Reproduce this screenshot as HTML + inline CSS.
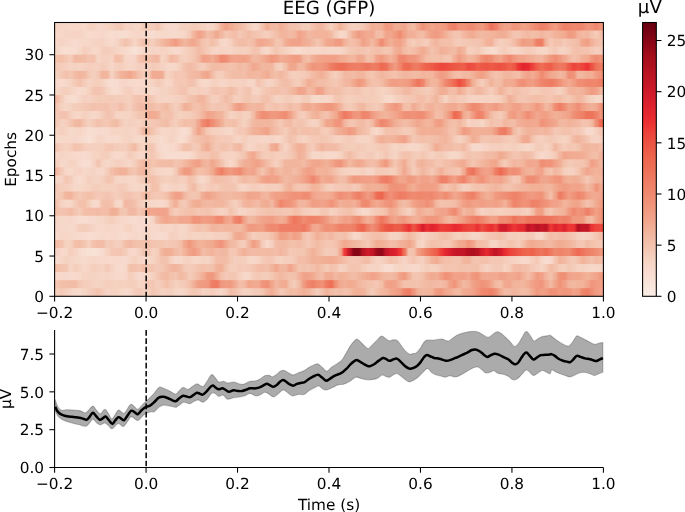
<!DOCTYPE html>
<html lang="en"><head><meta charset="utf-8"><title>EEG (GFP)</title>
<style>html,body{margin:0;padding:0;background:#fff}body{width:685px;height:512px;overflow:hidden}svg{display:block}text{font-family:'DejaVu Sans','Liberation Sans',sans-serif;fill:#000;text-rendering:geometricPrecision}</style></head><body>
<svg width="685" height="512" viewBox="0 0 685 512">
<rect width="685" height="512" fill="#fff"/>
<defs>
<filter id="bl" x="-2%" y="-2%" width="104%" height="104%" color-interpolation-filters="sRGB"><feGaussianBlur stdDeviation="1.1 0.5"/></filter>
<clipPath id="cp"><rect x="54.60" y="22.50" width="548.80" height="273.80"/></clipPath>
<linearGradient id="cb" x1="0" x2="0" y1="0" y2="1"><stop offset="0.0000" stop-color="#670010"/><stop offset="0.0312" stop-color="#750213"/><stop offset="0.0625" stop-color="#850516"/><stop offset="0.0938" stop-color="#950919"/><stop offset="0.1250" stop-color="#a50e1c"/><stop offset="0.1562" stop-color="#af1020"/><stop offset="0.1875" stop-color="#bb1423"/><stop offset="0.2188" stop-color="#c31626"/><stop offset="0.2500" stop-color="#cd192a"/><stop offset="0.2812" stop-color="#d61e2c"/><stop offset="0.3125" stop-color="#df242e"/><stop offset="0.3438" stop-color="#e72a30"/><stop offset="0.3750" stop-color="#ed3534"/><stop offset="0.4062" stop-color="#ed443b"/><stop offset="0.4375" stop-color="#ec5242"/><stop offset="0.4688" stop-color="#ed5d49"/><stop offset="0.5000" stop-color="#ef674f"/><stop offset="0.5312" stop-color="#ed6f57"/><stop offset="0.5625" stop-color="#ee785f"/><stop offset="0.5938" stop-color="#ee8168"/><stop offset="0.6250" stop-color="#ef896f"/><stop offset="0.6562" stop-color="#f09278"/><stop offset="0.6875" stop-color="#f09b81"/><stop offset="0.7188" stop-color="#f1a48b"/><stop offset="0.7500" stop-color="#f1af96"/><stop offset="0.7812" stop-color="#f2b9a2"/><stop offset="0.8125" stop-color="#f3c2ad"/><stop offset="0.8438" stop-color="#f4ccba"/><stop offset="0.8750" stop-color="#f6d6c6"/><stop offset="0.9062" stop-color="#f7dbce"/><stop offset="0.9375" stop-color="#f8e1d6"/><stop offset="0.9688" stop-color="#f9e8de"/><stop offset="1.0000" stop-color="#faeee6"/></linearGradient>
</defs>
<g clip-path="url(#cp)"><g filter="url(#bl)">
<g transform="translate(0 14.447)"><rect x="45.45" width="14.72" height="9.05" fill="#f6d4c5"/><rect x="59.17" width="10.15" height="9.05" fill="#f6d6c6"/><rect x="68.32" width="5.57" height="9.05" fill="#f6d8c9"/><rect x="72.89" width="5.57" height="9.05" fill="#f6d7c8"/><rect x="77.47" width="5.57" height="9.05" fill="#f7d8ca"/><rect x="82.04" width="5.57" height="9.05" fill="#f7dacc"/><rect x="86.61" width="5.57" height="9.05" fill="#f6d3c3"/><rect x="91.19" width="5.57" height="9.05" fill="#f5d1c0"/><rect x="95.76" width="5.57" height="9.05" fill="#f6d7c9"/><rect x="100.33" width="5.57" height="9.05" fill="#f6d7c8"/><rect x="104.91" width="5.57" height="9.05" fill="#f6d3c3"/><rect x="109.48" width="5.57" height="9.05" fill="#f5d1c0"/><rect x="114.05" width="5.57" height="9.05" fill="#f4cbb8"/><rect x="118.63" width="5.57" height="9.05" fill="#f4c8b5"/><rect x="123.20" width="5.57" height="9.05" fill="#f6d3c3"/><rect x="127.77" width="5.57" height="9.05" fill="#f5d2c2"/><rect x="132.35" width="5.57" height="9.05" fill="#f6d6c7"/><rect x="136.92" width="5.57" height="9.05" fill="#f6d6c6"/><rect x="141.49" width="5.57" height="9.05" fill="#f4ccba"/><rect x="146.07" width="10.15" height="9.05" fill="#f5cdbb"/><rect x="155.21" width="5.57" height="9.05" fill="#f3c5b0"/><rect x="159.79" width="5.57" height="9.05" fill="#f5d1c0"/><rect x="164.36" width="5.57" height="9.05" fill="#f7d9cb"/><rect x="168.93" width="5.57" height="9.05" fill="#f7dacd"/><rect x="173.51" width="5.57" height="9.05" fill="#f7dacc"/><rect x="178.08" width="5.57" height="9.05" fill="#f5d2c2"/><rect x="182.65" width="10.15" height="9.05" fill="#f5cfbf"/><rect x="191.80" width="5.57" height="9.05" fill="#f4cbb8"/><rect x="196.37" width="5.57" height="9.05" fill="#f5cebd"/><rect x="200.95" width="5.57" height="9.05" fill="#f5d2c2"/><rect x="205.52" width="10.15" height="9.05" fill="#f6d6c7"/><rect x="214.67" width="5.57" height="9.05" fill="#f4ccba"/><rect x="219.24" width="5.57" height="9.05" fill="#f2b199"/><rect x="223.81" width="5.57" height="9.05" fill="#f1a289"/><rect x="228.39" width="5.57" height="9.05" fill="#f1ab92"/><rect x="232.96" width="5.57" height="9.05" fill="#f2b49c"/><rect x="237.53" width="5.57" height="9.05" fill="#f2bba5"/><rect x="242.11" width="5.57" height="9.05" fill="#f3c3af"/><rect x="246.68" width="5.57" height="9.05" fill="#f5cebd"/><rect x="251.25" width="5.57" height="9.05" fill="#f6d7c9"/><rect x="255.83" width="5.57" height="9.05" fill="#f6d6c7"/><rect x="260.40" width="5.57" height="9.05" fill="#f3c2ad"/><rect x="264.97" width="5.57" height="9.05" fill="#f1af96"/><rect x="269.55" width="5.57" height="9.05" fill="#f2baa3"/><rect x="274.12" width="5.57" height="9.05" fill="#f2bba5"/><rect x="278.69" width="5.57" height="9.05" fill="#f1af96"/><rect x="283.27" width="5.57" height="9.05" fill="#f2b7a0"/><rect x="287.84" width="5.57" height="9.05" fill="#f3c1ac"/><rect x="292.41" width="5.57" height="9.05" fill="#f3c2ad"/><rect x="296.99" width="5.57" height="9.05" fill="#f3c6b2"/><rect x="301.56" width="10.15" height="9.05" fill="#f4ccba"/><rect x="310.71" width="5.57" height="9.05" fill="#f3c2ad"/><rect x="315.28" width="5.57" height="9.05" fill="#f2b9a2"/><rect x="319.85" width="5.57" height="9.05" fill="#f2b69f"/><rect x="324.43" width="5.57" height="9.05" fill="#f3c6b2"/><rect x="329.00" width="5.57" height="9.05" fill="#f5d1c0"/><rect x="333.57" width="5.57" height="9.05" fill="#f3c2ad"/><rect x="338.15" width="5.57" height="9.05" fill="#f2b39a"/><rect x="342.72" width="5.57" height="9.05" fill="#f3c1ac"/><rect x="347.29" width="5.57" height="9.05" fill="#f5cebd"/><rect x="351.87" width="5.57" height="9.05" fill="#f5d1c0"/><rect x="356.44" width="5.57" height="9.05" fill="#f5cebd"/><rect x="361.01" width="5.57" height="9.05" fill="#f4c8b5"/><rect x="365.59" width="5.57" height="9.05" fill="#f3bda7"/><rect x="370.16" width="5.57" height="9.05" fill="#f1ae95"/><rect x="374.73" width="5.57" height="9.05" fill="#f1b199"/><rect x="379.31" width="5.57" height="9.05" fill="#f1af96"/><rect x="383.88" width="5.57" height="9.05" fill="#f09a80"/><rect x="388.45" width="5.57" height="9.05" fill="#f09c83"/><rect x="393.03" width="5.57" height="9.05" fill="#f1ac93"/><rect x="397.60" width="5.57" height="9.05" fill="#f1ab92"/><rect x="402.17" width="5.57" height="9.05" fill="#f1a68c"/><rect x="406.75" width="5.57" height="9.05" fill="#f2b69f"/><rect x="411.32" width="5.57" height="9.05" fill="#f2bca6"/><rect x="415.89" width="5.57" height="9.05" fill="#f1a68c"/><rect x="420.47" width="5.57" height="9.05" fill="#f09379"/><rect x="425.04" width="5.57" height="9.05" fill="#f09e84"/><rect x="429.61" width="5.57" height="9.05" fill="#f1a58b"/><rect x="434.19" width="5.57" height="9.05" fill="#f09f85"/><rect x="438.76" width="5.57" height="9.05" fill="#f19f85"/><rect x="443.33" width="5.57" height="9.05" fill="#f0997f"/><rect x="447.91" width="5.57" height="9.05" fill="#ef866c"/><rect x="452.48" width="5.57" height="9.05" fill="#ee8168"/><rect x="457.05" width="5.57" height="9.05" fill="#f09278"/><rect x="461.63" width="5.57" height="9.05" fill="#f09379"/><rect x="466.20" width="5.57" height="9.05" fill="#ef8c72"/><rect x="470.77" width="5.57" height="9.05" fill="#ef8d73"/><rect x="475.35" width="5.57" height="9.05" fill="#f0977d"/><rect x="479.92" width="5.57" height="9.05" fill="#f09a80"/><rect x="484.49" width="5.57" height="9.05" fill="#ef8a70"/><rect x="489.07" width="5.57" height="9.05" fill="#ed725a"/><rect x="493.64" width="5.57" height="9.05" fill="#ee7f66"/><rect x="498.21" width="5.57" height="9.05" fill="#f0997f"/><rect x="502.79" width="5.57" height="9.05" fill="#f1a38a"/><rect x="507.36" width="5.57" height="9.05" fill="#f1a289"/><rect x="511.93" width="5.57" height="9.05" fill="#f0957c"/><rect x="516.51" width="5.57" height="9.05" fill="#f0997f"/><rect x="521.08" width="5.57" height="9.05" fill="#f1a38a"/><rect x="525.65" width="5.57" height="9.05" fill="#f09e84"/><rect x="530.23" width="5.57" height="9.05" fill="#f09379"/><rect x="534.80" width="5.57" height="9.05" fill="#ef886e"/><rect x="539.37" width="5.57" height="9.05" fill="#ee8067"/><rect x="543.95" width="5.57" height="9.05" fill="#ef846a"/><rect x="548.52" width="5.57" height="9.05" fill="#f0947a"/><rect x="553.09" width="5.57" height="9.05" fill="#f09c83"/><rect x="557.67" width="5.57" height="9.05" fill="#ef8e75"/><rect x="562.24" width="5.57" height="9.05" fill="#ee8168"/><rect x="566.81" width="5.57" height="9.05" fill="#ef836a"/><rect x="571.39" width="5.57" height="9.05" fill="#ef886e"/><rect x="575.96" width="5.57" height="9.05" fill="#ef846b"/><rect x="580.53" width="5.57" height="9.05" fill="#ef886e"/><rect x="585.11" width="5.57" height="9.05" fill="#f0957c"/><rect x="589.68" width="5.57" height="9.05" fill="#f09278"/><rect x="594.25" width="5.57" height="9.05" fill="#ef876d"/><rect x="598.83" width="14.72" height="9.05" fill="#f0977d"/></g>
<g transform="translate(0 22.500)"><rect x="45.45" width="14.72" height="9.05" fill="#f6d4c5"/><rect x="59.17" width="10.15" height="9.05" fill="#f6d6c6"/><rect x="68.32" width="5.57" height="9.05" fill="#f6d8c9"/><rect x="72.89" width="5.57" height="9.05" fill="#f6d7c8"/><rect x="77.47" width="5.57" height="9.05" fill="#f7d8ca"/><rect x="82.04" width="5.57" height="9.05" fill="#f7dacc"/><rect x="86.61" width="5.57" height="9.05" fill="#f6d3c3"/><rect x="91.19" width="5.57" height="9.05" fill="#f5d1c0"/><rect x="95.76" width="5.57" height="9.05" fill="#f6d7c9"/><rect x="100.33" width="5.57" height="9.05" fill="#f6d7c8"/><rect x="104.91" width="5.57" height="9.05" fill="#f6d3c3"/><rect x="109.48" width="5.57" height="9.05" fill="#f5d1c0"/><rect x="114.05" width="5.57" height="9.05" fill="#f4cbb8"/><rect x="118.63" width="5.57" height="9.05" fill="#f4c8b5"/><rect x="123.20" width="5.57" height="9.05" fill="#f6d3c3"/><rect x="127.77" width="5.57" height="9.05" fill="#f5d2c2"/><rect x="132.35" width="5.57" height="9.05" fill="#f6d6c7"/><rect x="136.92" width="5.57" height="9.05" fill="#f6d6c6"/><rect x="141.49" width="5.57" height="9.05" fill="#f4ccba"/><rect x="146.07" width="10.15" height="9.05" fill="#f5cdbb"/><rect x="155.21" width="5.57" height="9.05" fill="#f3c5b0"/><rect x="159.79" width="5.57" height="9.05" fill="#f5d1c0"/><rect x="164.36" width="5.57" height="9.05" fill="#f7d9cb"/><rect x="168.93" width="5.57" height="9.05" fill="#f7dacd"/><rect x="173.51" width="5.57" height="9.05" fill="#f7dacc"/><rect x="178.08" width="5.57" height="9.05" fill="#f5d2c2"/><rect x="182.65" width="10.15" height="9.05" fill="#f5cfbf"/><rect x="191.80" width="5.57" height="9.05" fill="#f4cbb8"/><rect x="196.37" width="5.57" height="9.05" fill="#f5cebd"/><rect x="200.95" width="5.57" height="9.05" fill="#f5d2c2"/><rect x="205.52" width="10.15" height="9.05" fill="#f6d6c7"/><rect x="214.67" width="5.57" height="9.05" fill="#f4ccba"/><rect x="219.24" width="5.57" height="9.05" fill="#f2b199"/><rect x="223.81" width="5.57" height="9.05" fill="#f1a289"/><rect x="228.39" width="5.57" height="9.05" fill="#f1ab92"/><rect x="232.96" width="5.57" height="9.05" fill="#f2b49c"/><rect x="237.53" width="5.57" height="9.05" fill="#f2bba5"/><rect x="242.11" width="5.57" height="9.05" fill="#f3c3af"/><rect x="246.68" width="5.57" height="9.05" fill="#f5cebd"/><rect x="251.25" width="5.57" height="9.05" fill="#f6d7c9"/><rect x="255.83" width="5.57" height="9.05" fill="#f6d6c7"/><rect x="260.40" width="5.57" height="9.05" fill="#f3c2ad"/><rect x="264.97" width="5.57" height="9.05" fill="#f1af96"/><rect x="269.55" width="5.57" height="9.05" fill="#f2baa3"/><rect x="274.12" width="5.57" height="9.05" fill="#f2bba5"/><rect x="278.69" width="5.57" height="9.05" fill="#f1af96"/><rect x="283.27" width="5.57" height="9.05" fill="#f2b7a0"/><rect x="287.84" width="5.57" height="9.05" fill="#f3c1ac"/><rect x="292.41" width="5.57" height="9.05" fill="#f3c2ad"/><rect x="296.99" width="5.57" height="9.05" fill="#f3c6b2"/><rect x="301.56" width="10.15" height="9.05" fill="#f4ccba"/><rect x="310.71" width="5.57" height="9.05" fill="#f3c2ad"/><rect x="315.28" width="5.57" height="9.05" fill="#f2b9a2"/><rect x="319.85" width="5.57" height="9.05" fill="#f2b69f"/><rect x="324.43" width="5.57" height="9.05" fill="#f3c6b2"/><rect x="329.00" width="5.57" height="9.05" fill="#f5d1c0"/><rect x="333.57" width="5.57" height="9.05" fill="#f3c2ad"/><rect x="338.15" width="5.57" height="9.05" fill="#f2b39a"/><rect x="342.72" width="5.57" height="9.05" fill="#f3c1ac"/><rect x="347.29" width="5.57" height="9.05" fill="#f5cebd"/><rect x="351.87" width="5.57" height="9.05" fill="#f5d1c0"/><rect x="356.44" width="5.57" height="9.05" fill="#f5cebd"/><rect x="361.01" width="5.57" height="9.05" fill="#f4c8b5"/><rect x="365.59" width="5.57" height="9.05" fill="#f3bda7"/><rect x="370.16" width="5.57" height="9.05" fill="#f1ae95"/><rect x="374.73" width="5.57" height="9.05" fill="#f1b199"/><rect x="379.31" width="5.57" height="9.05" fill="#f1af96"/><rect x="383.88" width="5.57" height="9.05" fill="#f09a80"/><rect x="388.45" width="5.57" height="9.05" fill="#f09c83"/><rect x="393.03" width="5.57" height="9.05" fill="#f1ac93"/><rect x="397.60" width="5.57" height="9.05" fill="#f1ab92"/><rect x="402.17" width="5.57" height="9.05" fill="#f1a68c"/><rect x="406.75" width="5.57" height="9.05" fill="#f2b69f"/><rect x="411.32" width="5.57" height="9.05" fill="#f2bca6"/><rect x="415.89" width="5.57" height="9.05" fill="#f1a68c"/><rect x="420.47" width="5.57" height="9.05" fill="#f09379"/><rect x="425.04" width="5.57" height="9.05" fill="#f09e84"/><rect x="429.61" width="5.57" height="9.05" fill="#f1a58b"/><rect x="434.19" width="5.57" height="9.05" fill="#f09f85"/><rect x="438.76" width="5.57" height="9.05" fill="#f19f85"/><rect x="443.33" width="5.57" height="9.05" fill="#f0997f"/><rect x="447.91" width="5.57" height="9.05" fill="#ef866c"/><rect x="452.48" width="5.57" height="9.05" fill="#ee8168"/><rect x="457.05" width="5.57" height="9.05" fill="#f09278"/><rect x="461.63" width="5.57" height="9.05" fill="#f09379"/><rect x="466.20" width="5.57" height="9.05" fill="#ef8c72"/><rect x="470.77" width="5.57" height="9.05" fill="#ef8d73"/><rect x="475.35" width="5.57" height="9.05" fill="#f0977d"/><rect x="479.92" width="5.57" height="9.05" fill="#f09a80"/><rect x="484.49" width="5.57" height="9.05" fill="#ef8a70"/><rect x="489.07" width="5.57" height="9.05" fill="#ed725a"/><rect x="493.64" width="5.57" height="9.05" fill="#ee7f66"/><rect x="498.21" width="5.57" height="9.05" fill="#f0997f"/><rect x="502.79" width="5.57" height="9.05" fill="#f1a38a"/><rect x="507.36" width="5.57" height="9.05" fill="#f1a289"/><rect x="511.93" width="5.57" height="9.05" fill="#f0957c"/><rect x="516.51" width="5.57" height="9.05" fill="#f0997f"/><rect x="521.08" width="5.57" height="9.05" fill="#f1a38a"/><rect x="525.65" width="5.57" height="9.05" fill="#f09e84"/><rect x="530.23" width="5.57" height="9.05" fill="#f09379"/><rect x="534.80" width="5.57" height="9.05" fill="#ef886e"/><rect x="539.37" width="5.57" height="9.05" fill="#ee8067"/><rect x="543.95" width="5.57" height="9.05" fill="#ef846a"/><rect x="548.52" width="5.57" height="9.05" fill="#f0947a"/><rect x="553.09" width="5.57" height="9.05" fill="#f09c83"/><rect x="557.67" width="5.57" height="9.05" fill="#ef8e75"/><rect x="562.24" width="5.57" height="9.05" fill="#ee8168"/><rect x="566.81" width="5.57" height="9.05" fill="#ef836a"/><rect x="571.39" width="5.57" height="9.05" fill="#ef886e"/><rect x="575.96" width="5.57" height="9.05" fill="#ef846b"/><rect x="580.53" width="5.57" height="9.05" fill="#ef886e"/><rect x="585.11" width="5.57" height="9.05" fill="#f0957c"/><rect x="589.68" width="5.57" height="9.05" fill="#f09278"/><rect x="594.25" width="5.57" height="9.05" fill="#ef876d"/><rect x="598.83" width="14.72" height="9.05" fill="#f0977d"/></g>
<g transform="translate(0 30.553)"><rect x="45.45" width="19.29" height="9.05" fill="#f6d7c8"/><rect x="63.75" width="14.72" height="9.05" fill="#f6d4c5"/><rect x="77.47" width="5.57" height="9.05" fill="#f6d3c3"/><rect x="82.04" width="5.57" height="9.05" fill="#f6d7c8"/><rect x="86.61" width="5.57" height="9.05" fill="#f7dacc"/><rect x="91.19" width="5.57" height="9.05" fill="#f7dacd"/><rect x="95.76" width="5.57" height="9.05" fill="#f7d8ca"/><rect x="100.33" width="5.57" height="9.05" fill="#f6d7c8"/><rect x="104.91" width="5.57" height="9.05" fill="#f7dacc"/><rect x="109.48" width="5.57" height="9.05" fill="#f7dccf"/><rect x="114.05" width="5.57" height="9.05" fill="#f7dacd"/><rect x="118.63" width="10.15" height="9.05" fill="#f7ddd0"/><rect x="127.77" width="5.57" height="9.05" fill="#f7d9cb"/><rect x="132.35" width="5.57" height="9.05" fill="#f6d7c8"/><rect x="136.92" width="5.57" height="9.05" fill="#f6d6c8"/><rect x="141.49" width="5.57" height="9.05" fill="#f7d8ca"/><rect x="146.07" width="10.15" height="9.05" fill="#f7dccf"/><rect x="155.21" width="5.57" height="9.05" fill="#f7dacc"/><rect x="159.79" width="10.15" height="9.05" fill="#f7d9cb"/><rect x="168.93" width="10.15" height="9.05" fill="#f7dacd"/><rect x="178.08" width="5.57" height="9.05" fill="#f6d8c9"/><rect x="182.65" width="5.57" height="9.05" fill="#f6d6c8"/><rect x="187.23" width="5.57" height="9.05" fill="#f4cbb8"/><rect x="191.80" width="5.57" height="9.05" fill="#f2b59d"/><rect x="196.37" width="5.57" height="9.05" fill="#f1a188"/><rect x="200.95" width="5.57" height="9.05" fill="#f1ab92"/><rect x="205.52" width="5.57" height="9.05" fill="#f3bfa9"/><rect x="210.09" width="5.57" height="9.05" fill="#f2b7a0"/><rect x="214.67" width="5.57" height="9.05" fill="#f1a88f"/><rect x="219.24" width="5.57" height="9.05" fill="#f2b7a0"/><rect x="223.81" width="5.57" height="9.05" fill="#f4c7b3"/><rect x="228.39" width="5.57" height="9.05" fill="#f3c1ac"/><rect x="232.96" width="5.57" height="9.05" fill="#f3bda7"/><rect x="237.53" width="5.57" height="9.05" fill="#f4c9b7"/><rect x="242.11" width="5.57" height="9.05" fill="#f3c2ad"/><rect x="246.68" width="5.57" height="9.05" fill="#f2bca6"/><rect x="251.25" width="5.57" height="9.05" fill="#f3c3af"/><rect x="255.83" width="5.57" height="9.05" fill="#f4c6b2"/><rect x="260.40" width="5.57" height="9.05" fill="#f4ccba"/><rect x="264.97" width="5.57" height="9.05" fill="#f5cebd"/><rect x="269.55" width="5.57" height="9.05" fill="#f4c8b5"/><rect x="274.12" width="5.57" height="9.05" fill="#f3bfa9"/><rect x="278.69" width="5.57" height="9.05" fill="#f2b59d"/><rect x="283.27" width="5.57" height="9.05" fill="#f2b49c"/><rect x="287.84" width="5.57" height="9.05" fill="#f2bba5"/><rect x="292.41" width="5.57" height="9.05" fill="#f2b59d"/><rect x="296.99" width="5.57" height="9.05" fill="#f1a289"/><rect x="301.56" width="5.57" height="9.05" fill="#f1ac93"/><rect x="306.13" width="5.57" height="9.05" fill="#f2b9a2"/><rect x="310.71" width="5.57" height="9.05" fill="#f2b49c"/><rect x="315.28" width="14.72" height="9.05" fill="#f2b39a"/><rect x="329.00" width="5.57" height="9.05" fill="#f2baa3"/><rect x="333.57" width="5.57" height="9.05" fill="#f5cebd"/><rect x="338.15" width="5.57" height="9.05" fill="#f7d8ca"/><rect x="342.72" width="5.57" height="9.05" fill="#f6d6c7"/><rect x="347.29" width="5.57" height="9.05" fill="#f3c1ac"/><rect x="351.87" width="5.57" height="9.05" fill="#f1ac93"/><rect x="356.44" width="5.57" height="9.05" fill="#f09b82"/><rect x="361.01" width="5.57" height="9.05" fill="#f1a58b"/><rect x="365.59" width="5.57" height="9.05" fill="#f1ab92"/><rect x="370.16" width="5.57" height="9.05" fill="#f1a88f"/><rect x="374.73" width="5.57" height="9.05" fill="#f2bca6"/><rect x="379.31" width="5.57" height="9.05" fill="#f3bda7"/><rect x="383.88" width="10.15" height="9.05" fill="#f1a68c"/><rect x="393.03" width="5.57" height="9.05" fill="#f09b81"/><rect x="397.60" width="5.57" height="9.05" fill="#ef8c72"/><rect x="402.17" width="5.57" height="9.05" fill="#f1a187"/><rect x="406.75" width="5.57" height="9.05" fill="#f1b199"/><rect x="411.32" width="5.57" height="9.05" fill="#f1b097"/><rect x="415.89" width="5.57" height="9.05" fill="#f2baa3"/><rect x="420.47" width="5.57" height="9.05" fill="#f3bda7"/><rect x="425.04" width="5.57" height="9.05" fill="#f1ac93"/><rect x="429.61" width="5.57" height="9.05" fill="#f09e84"/><rect x="434.19" width="5.57" height="9.05" fill="#f09b82"/><rect x="438.76" width="5.57" height="9.05" fill="#f1a289"/><rect x="443.33" width="5.57" height="9.05" fill="#f1b097"/><rect x="447.91" width="5.57" height="9.05" fill="#f2bca6"/><rect x="452.48" width="10.15" height="9.05" fill="#f3c5b0"/><rect x="461.63" width="5.57" height="9.05" fill="#f2b7a0"/><rect x="466.20" width="5.57" height="9.05" fill="#f1af96"/><rect x="470.77" width="5.57" height="9.05" fill="#f1ab92"/><rect x="475.35" width="5.57" height="9.05" fill="#f2b59d"/><rect x="479.92" width="5.57" height="9.05" fill="#f2b9a2"/><rect x="484.49" width="5.57" height="9.05" fill="#f2b69f"/><rect x="489.07" width="5.57" height="9.05" fill="#f2b49c"/><rect x="493.64" width="5.57" height="9.05" fill="#f1b199"/><rect x="498.21" width="10.15" height="9.05" fill="#f1ae95"/><rect x="507.36" width="5.57" height="9.05" fill="#f2baa3"/><rect x="511.93" width="5.57" height="9.05" fill="#f3c5b0"/><rect x="516.51" width="5.57" height="9.05" fill="#f3c6b2"/><rect x="521.08" width="5.57" height="9.05" fill="#f3bda7"/><rect x="525.65" width="5.57" height="9.05" fill="#f2b9a2"/><rect x="530.23" width="5.57" height="9.05" fill="#f3c0aa"/><rect x="534.80" width="5.57" height="9.05" fill="#f2bca6"/><rect x="539.37" width="5.57" height="9.05" fill="#f2b59d"/><rect x="543.95" width="10.15" height="9.05" fill="#f2bca6"/><rect x="553.09" width="5.57" height="9.05" fill="#f2b39a"/><rect x="557.67" width="5.57" height="9.05" fill="#f1af96"/><rect x="562.24" width="5.57" height="9.05" fill="#f1aa90"/><rect x="566.81" width="5.57" height="9.05" fill="#f09b82"/><rect x="571.39" width="5.57" height="9.05" fill="#f09e84"/><rect x="575.96" width="5.57" height="9.05" fill="#f2b39a"/><rect x="580.53" width="5.57" height="9.05" fill="#f2baa3"/><rect x="585.11" width="5.57" height="9.05" fill="#f2b7a0"/><rect x="589.68" width="5.57" height="9.05" fill="#f3c3af"/><rect x="594.25" width="5.57" height="9.05" fill="#f4cbb8"/><rect x="598.83" width="14.72" height="9.05" fill="#f3bda7"/></g>
<g transform="translate(0 38.606)"><rect x="45.45" width="14.72" height="9.05" fill="#f6d6c8"/><rect x="59.17" width="5.57" height="9.05" fill="#f6d3c3"/><rect x="63.75" width="5.57" height="9.05" fill="#f6d6c6"/><rect x="68.32" width="5.57" height="9.05" fill="#f7d9cb"/><rect x="72.89" width="5.57" height="9.05" fill="#f7dacd"/><rect x="77.47" width="5.57" height="9.05" fill="#f7d9cb"/><rect x="82.04" width="5.57" height="9.05" fill="#f6d7c9"/><rect x="86.61" width="5.57" height="9.05" fill="#f6d6c7"/><rect x="91.19" width="5.57" height="9.05" fill="#f6d4c5"/><rect x="95.76" width="10.15" height="9.05" fill="#f5d2c2"/><rect x="104.91" width="5.57" height="9.05" fill="#f6d8c9"/><rect x="109.48" width="5.57" height="9.05" fill="#f7dacc"/><rect x="114.05" width="5.57" height="9.05" fill="#f6d6c8"/><rect x="118.63" width="5.57" height="9.05" fill="#f4ccba"/><rect x="123.20" width="5.57" height="9.05" fill="#f3c1ac"/><rect x="127.77" width="5.57" height="9.05" fill="#f4c9b7"/><rect x="132.35" width="5.57" height="9.05" fill="#f6d5c6"/><rect x="136.92" width="5.57" height="9.05" fill="#f4ccba"/><rect x="141.49" width="5.57" height="9.05" fill="#f3c1ac"/><rect x="146.07" width="5.57" height="9.05" fill="#f4c9b7"/><rect x="150.64" width="5.57" height="9.05" fill="#f5cebd"/><rect x="155.21" width="5.57" height="9.05" fill="#f3c3af"/><rect x="159.79" width="5.57" height="9.05" fill="#f2b9a2"/><rect x="164.36" width="5.57" height="9.05" fill="#f1b097"/><rect x="168.93" width="5.57" height="9.05" fill="#f1a68c"/><rect x="173.51" width="5.57" height="9.05" fill="#f09c83"/><rect x="178.08" width="5.57" height="9.05" fill="#f1aa90"/><rect x="182.65" width="5.57" height="9.05" fill="#f2b7a0"/><rect x="187.23" width="5.57" height="9.05" fill="#f1ac93"/><rect x="191.80" width="5.57" height="9.05" fill="#f1a78e"/><rect x="196.37" width="5.57" height="9.05" fill="#f2b59d"/><rect x="200.95" width="5.57" height="9.05" fill="#f3c5b0"/><rect x="205.52" width="5.57" height="9.05" fill="#f4c8b5"/><rect x="210.09" width="5.57" height="9.05" fill="#f3bfa9"/><rect x="214.67" width="5.57" height="9.05" fill="#f4c8b5"/><rect x="219.24" width="5.57" height="9.05" fill="#f6d8c9"/><rect x="223.81" width="5.57" height="9.05" fill="#f7d8ca"/><rect x="228.39" width="5.57" height="9.05" fill="#f5d1c0"/><rect x="232.96" width="5.57" height="9.05" fill="#f3c3af"/><rect x="237.53" width="5.57" height="9.05" fill="#f2bca6"/><rect x="242.11" width="5.57" height="9.05" fill="#f2bba5"/><rect x="246.68" width="5.57" height="9.05" fill="#f3c2ad"/><rect x="251.25" width="5.57" height="9.05" fill="#f2bca6"/><rect x="255.83" width="5.57" height="9.05" fill="#f1a88f"/><rect x="260.40" width="5.57" height="9.05" fill="#f1a78e"/><rect x="264.97" width="5.57" height="9.05" fill="#f1ae95"/><rect x="269.55" width="5.57" height="9.05" fill="#f2b49c"/><rect x="274.12" width="5.57" height="9.05" fill="#f3c5b0"/><rect x="278.69" width="5.57" height="9.05" fill="#f3c3af"/><rect x="283.27" width="5.57" height="9.05" fill="#f1af96"/><rect x="287.84" width="5.57" height="9.05" fill="#f1a48b"/><rect x="292.41" width="5.57" height="9.05" fill="#f1a38a"/><rect x="296.99" width="5.57" height="9.05" fill="#f1a188"/><rect x="301.56" width="5.57" height="9.05" fill="#f1ac93"/><rect x="306.13" width="5.57" height="9.05" fill="#f1b199"/><rect x="310.71" width="5.57" height="9.05" fill="#f2baa3"/><rect x="315.28" width="5.57" height="9.05" fill="#f3c5b0"/><rect x="319.85" width="5.57" height="9.05" fill="#f2bba5"/><rect x="324.43" width="5.57" height="9.05" fill="#f1a88f"/><rect x="329.00" width="5.57" height="9.05" fill="#f1a78e"/><rect x="333.57" width="5.57" height="9.05" fill="#f09c83"/><rect x="338.15" width="5.57" height="9.05" fill="#f09a80"/><rect x="342.72" width="5.57" height="9.05" fill="#f2b39a"/><rect x="347.29" width="5.57" height="9.05" fill="#f3c0aa"/><rect x="351.87" width="5.57" height="9.05" fill="#f3bda7"/><rect x="356.44" width="5.57" height="9.05" fill="#f2b59d"/><rect x="361.01" width="5.57" height="9.05" fill="#f1a289"/><rect x="365.59" width="5.57" height="9.05" fill="#f1aa91"/><rect x="370.16" width="5.57" height="9.05" fill="#f2baa3"/><rect x="374.73" width="5.57" height="9.05" fill="#f1a78e"/><rect x="379.31" width="5.57" height="9.05" fill="#ef8b71"/><rect x="383.88" width="5.57" height="9.05" fill="#f1a187"/><rect x="388.45" width="5.57" height="9.05" fill="#f1b097"/><rect x="393.03" width="5.57" height="9.05" fill="#f1a58b"/><rect x="397.60" width="5.57" height="9.05" fill="#f1a188"/><rect x="402.17" width="5.57" height="9.05" fill="#f2b199"/><rect x="406.75" width="5.57" height="9.05" fill="#f4c7b3"/><rect x="411.32" width="5.57" height="9.05" fill="#f5cdbb"/><rect x="415.89" width="5.57" height="9.05" fill="#f3c5b0"/><rect x="420.47" width="5.57" height="9.05" fill="#f4c9b7"/><rect x="425.04" width="5.57" height="9.05" fill="#f5cdbb"/><rect x="429.61" width="5.57" height="9.05" fill="#f2bca6"/><rect x="434.19" width="5.57" height="9.05" fill="#f2b59d"/><rect x="438.76" width="5.57" height="9.05" fill="#f3bfa9"/><rect x="443.33" width="5.57" height="9.05" fill="#f3c0aa"/><rect x="447.91" width="5.57" height="9.05" fill="#f3bfa9"/><rect x="452.48" width="5.57" height="9.05" fill="#f4c8b5"/><rect x="457.05" width="5.57" height="9.05" fill="#f4ccba"/><rect x="461.63" width="5.57" height="9.05" fill="#f4c8b5"/><rect x="466.20" width="5.57" height="9.05" fill="#f4c7b3"/><rect x="470.77" width="10.15" height="9.05" fill="#f3c5b0"/><rect x="479.92" width="5.57" height="9.05" fill="#f3c0aa"/><rect x="484.49" width="5.57" height="9.05" fill="#f2b39a"/><rect x="489.07" width="5.57" height="9.05" fill="#f2b199"/><rect x="493.64" width="5.57" height="9.05" fill="#f4c7b4"/><rect x="498.21" width="5.57" height="9.05" fill="#f5cfbf"/><rect x="502.79" width="5.57" height="9.05" fill="#f4ccba"/><rect x="507.36" width="5.57" height="9.05" fill="#f4c8b5"/><rect x="511.93" width="5.57" height="9.05" fill="#f3bda7"/><rect x="516.51" width="5.57" height="9.05" fill="#f1ab92"/><rect x="521.08" width="5.57" height="9.05" fill="#f09c83"/><rect x="525.65" width="10.15" height="9.05" fill="#f1a187"/><rect x="534.80" width="5.57" height="9.05" fill="#ee7f66"/><rect x="539.37" width="5.57" height="9.05" fill="#ee7d64"/><rect x="543.95" width="5.57" height="9.05" fill="#f2b59d"/><rect x="548.52" width="5.57" height="9.05" fill="#f4cbb8"/><rect x="553.09" width="5.57" height="9.05" fill="#f3c2ad"/><rect x="557.67" width="5.57" height="9.05" fill="#f3c1ac"/><rect x="562.24" width="5.57" height="9.05" fill="#f4cbb8"/><rect x="566.81" width="5.57" height="9.05" fill="#f3c3af"/><rect x="571.39" width="5.57" height="9.05" fill="#f3c0aa"/><rect x="575.96" width="5.57" height="9.05" fill="#f2bca6"/><rect x="580.53" width="5.57" height="9.05" fill="#f1a68c"/><rect x="585.11" width="5.57" height="9.05" fill="#f09f85"/><rect x="589.68" width="5.57" height="9.05" fill="#f2b199"/><rect x="594.25" width="5.57" height="9.05" fill="#f3bda7"/><rect x="598.83" width="14.72" height="9.05" fill="#f3c3af"/></g>
<g transform="translate(0 46.659)"><rect x="45.45" width="14.72" height="9.05" fill="#f6d8c9"/><rect x="59.17" width="5.57" height="9.05" fill="#f7dccf"/><rect x="63.75" width="5.57" height="9.05" fill="#f8ded2"/><rect x="68.32" width="10.15" height="9.05" fill="#f7dccf"/><rect x="77.47" width="5.57" height="9.05" fill="#f6d8c9"/><rect x="82.04" width="5.57" height="9.05" fill="#f5cebd"/><rect x="86.61" width="5.57" height="9.05" fill="#f5d2c2"/><rect x="91.19" width="5.57" height="9.05" fill="#f7d8ca"/><rect x="95.76" width="5.57" height="9.05" fill="#f6d7c8"/><rect x="100.33" width="5.57" height="9.05" fill="#f5cebd"/><rect x="104.91" width="5.57" height="9.05" fill="#f5cdbb"/><rect x="109.48" width="5.57" height="9.05" fill="#f5d0bf"/><rect x="114.05" width="5.57" height="9.05" fill="#f5d3c3"/><rect x="118.63" width="5.57" height="9.05" fill="#f6d7c8"/><rect x="123.20" width="5.57" height="9.05" fill="#f7d9cb"/><rect x="127.77" width="5.57" height="9.05" fill="#f8ddd1"/><rect x="132.35" width="5.57" height="9.05" fill="#f8e1d6"/><rect x="136.92" width="5.57" height="9.05" fill="#f8ded2"/><rect x="141.49" width="5.57" height="9.05" fill="#f7d8ca"/><rect x="146.07" width="5.57" height="9.05" fill="#f6d6c6"/><rect x="150.64" width="5.57" height="9.05" fill="#f6d4c5"/><rect x="155.21" width="5.57" height="9.05" fill="#f6d5c6"/><rect x="159.79" width="10.15" height="9.05" fill="#f6d3c3"/><rect x="168.93" width="5.57" height="9.05" fill="#f6d8c9"/><rect x="173.51" width="5.57" height="9.05" fill="#f7dacd"/><rect x="178.08" width="5.57" height="9.05" fill="#f7d8ca"/><rect x="182.65" width="5.57" height="9.05" fill="#f5d1c0"/><rect x="187.23" width="5.57" height="9.05" fill="#f4ccba"/><rect x="191.80" width="5.57" height="9.05" fill="#f3c6b2"/><rect x="196.37" width="5.57" height="9.05" fill="#f2bba5"/><rect x="200.95" width="5.57" height="9.05" fill="#f3c2ad"/><rect x="205.52" width="5.57" height="9.05" fill="#f4ccba"/><rect x="210.09" width="5.57" height="9.05" fill="#f5d2c2"/><rect x="214.67" width="5.57" height="9.05" fill="#f6d6c8"/><rect x="219.24" width="5.57" height="9.05" fill="#f6d3c3"/><rect x="223.81" width="5.57" height="9.05" fill="#f6d4c5"/><rect x="228.39" width="5.57" height="9.05" fill="#f6d6c8"/><rect x="232.96" width="5.57" height="9.05" fill="#f5d1c0"/><rect x="237.53" width="5.57" height="9.05" fill="#f5d0bf"/><rect x="242.11" width="5.57" height="9.05" fill="#f5d1c0"/><rect x="246.68" width="5.57" height="9.05" fill="#f5cdbb"/><rect x="251.25" width="10.15" height="9.05" fill="#f3c3af"/><rect x="260.40" width="5.57" height="9.05" fill="#f6d4c5"/><rect x="264.97" width="5.57" height="9.05" fill="#f6d8c9"/><rect x="269.55" width="5.57" height="9.05" fill="#f5cebd"/><rect x="274.12" width="5.57" height="9.05" fill="#f3c5b0"/><rect x="278.69" width="5.57" height="9.05" fill="#f5cdbb"/><rect x="283.27" width="5.57" height="9.05" fill="#f5d1c0"/><rect x="287.84" width="5.57" height="9.05" fill="#f6d6c6"/><rect x="292.41" width="5.57" height="9.05" fill="#f7dbce"/><rect x="296.99" width="5.57" height="9.05" fill="#f7dccf"/><rect x="301.56" width="5.57" height="9.05" fill="#f7d8ca"/><rect x="306.13" width="5.57" height="9.05" fill="#f6d6c8"/><rect x="310.71" width="10.15" height="9.05" fill="#f6d7c8"/><rect x="319.85" width="5.57" height="9.05" fill="#f6d5c6"/><rect x="324.43" width="10.15" height="9.05" fill="#f6d6c7"/><rect x="333.57" width="5.57" height="9.05" fill="#f6d6c8"/><rect x="338.15" width="5.57" height="9.05" fill="#f6d6c7"/><rect x="342.72" width="5.57" height="9.05" fill="#f5d1c0"/><rect x="347.29" width="5.57" height="9.05" fill="#f4c8b5"/><rect x="351.87" width="5.57" height="9.05" fill="#f3c6b2"/><rect x="356.44" width="5.57" height="9.05" fill="#f3c3af"/><rect x="361.01" width="5.57" height="9.05" fill="#f3c5b0"/><rect x="365.59" width="5.57" height="9.05" fill="#f4c8b5"/><rect x="370.16" width="5.57" height="9.05" fill="#f3c2ad"/><rect x="374.73" width="5.57" height="9.05" fill="#f3bfa9"/><rect x="379.31" width="5.57" height="9.05" fill="#f3c2ad"/><rect x="383.88" width="5.57" height="9.05" fill="#f4c7b3"/><rect x="388.45" width="5.57" height="9.05" fill="#f3c3af"/><rect x="393.03" width="5.57" height="9.05" fill="#f1b097"/><rect x="397.60" width="5.57" height="9.05" fill="#f1aa90"/><rect x="402.17" width="5.57" height="9.05" fill="#f2bca6"/><rect x="406.75" width="5.57" height="9.05" fill="#f3c1ac"/><rect x="411.32" width="5.57" height="9.05" fill="#f3bfa9"/><rect x="415.89" width="5.57" height="9.05" fill="#f2b59d"/><rect x="420.47" width="5.57" height="9.05" fill="#f1aa90"/><rect x="425.04" width="5.57" height="9.05" fill="#f2b59d"/><rect x="429.61" width="5.57" height="9.05" fill="#f3c3af"/><rect x="434.19" width="5.57" height="9.05" fill="#f2bba5"/><rect x="438.76" width="5.57" height="9.05" fill="#f1b199"/><rect x="443.33" width="5.57" height="9.05" fill="#f2b39a"/><rect x="447.91" width="5.57" height="9.05" fill="#f2b9a2"/><rect x="452.48" width="5.57" height="9.05" fill="#f2baa3"/><rect x="457.05" width="5.57" height="9.05" fill="#f1ab92"/><rect x="461.63" width="5.57" height="9.05" fill="#f2b59d"/><rect x="466.20" width="5.57" height="9.05" fill="#f5cfbf"/><rect x="470.77" width="5.57" height="9.05" fill="#f5cebd"/><rect x="475.35" width="5.57" height="9.05" fill="#f4c8b5"/><rect x="479.92" width="5.57" height="9.05" fill="#f5d1c0"/><rect x="484.49" width="5.57" height="9.05" fill="#f6d8c9"/><rect x="489.07" width="5.57" height="9.05" fill="#f7dbce"/><rect x="493.64" width="5.57" height="9.05" fill="#f7dacc"/><rect x="498.21" width="5.57" height="9.05" fill="#f5d1c0"/><rect x="502.79" width="5.57" height="9.05" fill="#f5cdbb"/><rect x="507.36" width="5.57" height="9.05" fill="#f6d3c3"/><rect x="511.93" width="5.57" height="9.05" fill="#f6d7c8"/><rect x="516.51" width="5.57" height="9.05" fill="#f6d4c5"/><rect x="521.08" width="5.57" height="9.05" fill="#f5cfbf"/><rect x="525.65" width="5.57" height="9.05" fill="#f4cbb8"/><rect x="530.23" width="5.57" height="9.05" fill="#f5cebd"/><rect x="534.80" width="5.57" height="9.05" fill="#f6d3c3"/><rect x="539.37" width="5.57" height="9.05" fill="#f6d6c7"/><rect x="543.95" width="5.57" height="9.05" fill="#f6d6c6"/><rect x="548.52" width="5.57" height="9.05" fill="#f5cdbb"/><rect x="553.09" width="5.57" height="9.05" fill="#f4c9b7"/><rect x="557.67" width="10.15" height="9.05" fill="#f5d2c2"/><rect x="566.81" width="5.57" height="9.05" fill="#f5cdbb"/><rect x="571.39" width="5.57" height="9.05" fill="#f3c1ac"/><rect x="575.96" width="5.57" height="9.05" fill="#f3bfa9"/><rect x="580.53" width="10.15" height="9.05" fill="#f3c3af"/><rect x="589.68" width="5.57" height="9.05" fill="#f4c9b7"/><rect x="594.25" width="5.57" height="9.05" fill="#f5cebd"/><rect x="598.83" width="14.72" height="9.05" fill="#f4ccba"/></g>
<g transform="translate(0 54.712)"><rect x="45.45" width="14.72" height="9.05" fill="#f3c2ad"/><rect x="59.17" width="5.57" height="9.05" fill="#f3bfa9"/><rect x="63.75" width="5.57" height="9.05" fill="#f4c6b2"/><rect x="68.32" width="5.57" height="9.05" fill="#f5cdbb"/><rect x="72.89" width="5.57" height="9.05" fill="#f2b9a2"/><rect x="77.47" width="5.57" height="9.05" fill="#f2baa3"/><rect x="82.04" width="5.57" height="9.05" fill="#f2bca6"/><rect x="86.61" width="5.57" height="9.05" fill="#f3c3af"/><rect x="91.19" width="5.57" height="9.05" fill="#f3c0aa"/><rect x="95.76" width="5.57" height="9.05" fill="#f6d5c6"/><rect x="100.33" width="10.15" height="9.05" fill="#f5cfbf"/><rect x="109.48" width="5.57" height="9.05" fill="#f6d3c3"/><rect x="114.05" width="5.57" height="9.05" fill="#f3bda7"/><rect x="118.63" width="5.57" height="9.05" fill="#f3c0aa"/><rect x="123.20" width="5.57" height="9.05" fill="#f6d5c6"/><rect x="127.77" width="5.57" height="9.05" fill="#f6d7c9"/><rect x="132.35" width="5.57" height="9.05" fill="#f6d6c8"/><rect x="136.92" width="5.57" height="9.05" fill="#f3c2ad"/><rect x="141.49" width="5.57" height="9.05" fill="#f2bca6"/><rect x="146.07" width="5.57" height="9.05" fill="#f3c1ac"/><rect x="150.64" width="5.57" height="9.05" fill="#f2bba5"/><rect x="155.21" width="5.57" height="9.05" fill="#f2b69f"/><rect x="159.79" width="5.57" height="9.05" fill="#f6d4c5"/><rect x="164.36" width="5.57" height="9.05" fill="#f4ccba"/><rect x="168.93" width="5.57" height="9.05" fill="#f2b9a2"/><rect x="173.51" width="5.57" height="9.05" fill="#f3bda7"/><rect x="178.08" width="5.57" height="9.05" fill="#f4ccba"/><rect x="182.65" width="5.57" height="9.05" fill="#f5d0bf"/><rect x="187.23" width="5.57" height="9.05" fill="#f4cbb8"/><rect x="191.80" width="5.57" height="9.05" fill="#f3c6b2"/><rect x="196.37" width="5.57" height="9.05" fill="#f2baa3"/><rect x="200.95" width="5.57" height="9.05" fill="#f1a187"/><rect x="205.52" width="5.57" height="9.05" fill="#f1a38a"/><rect x="210.09" width="5.57" height="9.05" fill="#f1ae95"/><rect x="214.67" width="5.57" height="9.05" fill="#f09f85"/><rect x="219.24" width="5.57" height="9.05" fill="#ef8a70"/><rect x="223.81" width="5.57" height="9.05" fill="#ef8e75"/><rect x="228.39" width="5.57" height="9.05" fill="#f1a188"/><rect x="232.96" width="5.57" height="9.05" fill="#f1a48b"/><rect x="237.53" width="5.57" height="9.05" fill="#f1a187"/><rect x="242.11" width="5.57" height="9.05" fill="#f1a188"/><rect x="246.68" width="5.57" height="9.05" fill="#f1a88f"/><rect x="251.25" width="10.15" height="9.05" fill="#f2b7a0"/><rect x="260.40" width="5.57" height="9.05" fill="#f1af96"/><rect x="264.97" width="5.57" height="9.05" fill="#f1a48b"/><rect x="269.55" width="5.57" height="9.05" fill="#f0977d"/><rect x="274.12" width="5.57" height="9.05" fill="#f09e84"/><rect x="278.69" width="5.57" height="9.05" fill="#f1ac93"/><rect x="283.27" width="5.57" height="9.05" fill="#f1a88f"/><rect x="287.84" width="5.57" height="9.05" fill="#f1a38a"/><rect x="292.41" width="5.57" height="9.05" fill="#f09c83"/><rect x="296.99" width="5.57" height="9.05" fill="#f09e84"/><rect x="301.56" width="5.57" height="9.05" fill="#f2b7a0"/><rect x="306.13" width="5.57" height="9.05" fill="#f3bfa9"/><rect x="310.71" width="5.57" height="9.05" fill="#f1af96"/><rect x="315.28" width="5.57" height="9.05" fill="#f1a68c"/><rect x="319.85" width="5.57" height="9.05" fill="#f1a289"/><rect x="324.43" width="5.57" height="9.05" fill="#f1a086"/><rect x="329.00" width="5.57" height="9.05" fill="#f19f85"/><rect x="333.57" width="5.57" height="9.05" fill="#f1a188"/><rect x="338.15" width="5.57" height="9.05" fill="#f1aa90"/><rect x="342.72" width="5.57" height="9.05" fill="#f1ae95"/><rect x="347.29" width="5.57" height="9.05" fill="#f2b59d"/><rect x="351.87" width="5.57" height="9.05" fill="#f2b69f"/><rect x="356.44" width="5.57" height="9.05" fill="#f1a68c"/><rect x="361.01" width="5.57" height="9.05" fill="#f1ac93"/><rect x="365.59" width="5.57" height="9.05" fill="#f3c1ac"/><rect x="370.16" width="5.57" height="9.05" fill="#f3bda7"/><rect x="374.73" width="5.57" height="9.05" fill="#f1a289"/><rect x="379.31" width="5.57" height="9.05" fill="#f0997f"/><rect x="383.88" width="5.57" height="9.05" fill="#f1a78e"/><rect x="388.45" width="5.57" height="9.05" fill="#f2b39a"/><rect x="393.03" width="5.57" height="9.05" fill="#f1a78e"/><rect x="397.60" width="5.57" height="9.05" fill="#ef886e"/><rect x="402.17" width="5.57" height="9.05" fill="#ef876d"/><rect x="406.75" width="5.57" height="9.05" fill="#f0947b"/><rect x="411.32" width="5.57" height="9.05" fill="#f0957c"/><rect x="415.89" width="5.57" height="9.05" fill="#f09e84"/><rect x="420.47" width="5.57" height="9.05" fill="#f1b097"/><rect x="425.04" width="5.57" height="9.05" fill="#f3bfa9"/><rect x="429.61" width="10.15" height="9.05" fill="#f3c0aa"/><rect x="438.76" width="5.57" height="9.05" fill="#f3bfa9"/><rect x="443.33" width="5.57" height="9.05" fill="#f4c6b2"/><rect x="447.91" width="5.57" height="9.05" fill="#f3c5b0"/><rect x="452.48" width="5.57" height="9.05" fill="#f1ae95"/><rect x="457.05" width="5.57" height="9.05" fill="#f09c83"/><rect x="461.63" width="5.57" height="9.05" fill="#f1aa90"/><rect x="466.20" width="5.57" height="9.05" fill="#f2b59d"/><rect x="470.77" width="5.57" height="9.05" fill="#f2b49c"/><rect x="475.35" width="5.57" height="9.05" fill="#f1a78e"/><rect x="479.92" width="5.57" height="9.05" fill="#ef8e74"/><rect x="484.49" width="5.57" height="9.05" fill="#ef876d"/><rect x="489.07" width="5.57" height="9.05" fill="#ef8d73"/><rect x="493.64" width="5.57" height="9.05" fill="#f09e84"/><rect x="498.21" width="5.57" height="9.05" fill="#f1a68c"/><rect x="502.79" width="5.57" height="9.05" fill="#f0947b"/><rect x="507.36" width="5.57" height="9.05" fill="#ef886e"/><rect x="511.93" width="5.57" height="9.05" fill="#f0997f"/><rect x="516.51" width="5.57" height="9.05" fill="#f1a289"/><rect x="521.08" width="5.57" height="9.05" fill="#f1a38a"/><rect x="525.65" width="5.57" height="9.05" fill="#f1ab92"/><rect x="530.23" width="5.57" height="9.05" fill="#f1ae95"/><rect x="534.80" width="5.57" height="9.05" fill="#f2b69f"/><rect x="539.37" width="5.57" height="9.05" fill="#f2b7a0"/><rect x="543.95" width="5.57" height="9.05" fill="#f1a88f"/><rect x="548.52" width="5.57" height="9.05" fill="#f0977d"/><rect x="553.09" width="5.57" height="9.05" fill="#ef8d73"/><rect x="557.67" width="5.57" height="9.05" fill="#f09a80"/><rect x="562.24" width="5.57" height="9.05" fill="#f1a78e"/><rect x="566.81" width="5.57" height="9.05" fill="#f2b69f"/><rect x="571.39" width="5.57" height="9.05" fill="#f3c1ac"/><rect x="575.96" width="5.57" height="9.05" fill="#f2bba5"/><rect x="580.53" width="5.57" height="9.05" fill="#f1af96"/><rect x="585.11" width="5.57" height="9.05" fill="#f1aa90"/><rect x="589.68" width="5.57" height="9.05" fill="#f0957c"/><rect x="594.25" width="5.57" height="9.05" fill="#ef8c72"/><rect x="598.83" width="14.72" height="9.05" fill="#f0947a"/></g>
<g transform="translate(0 62.765)"><rect x="45.45" width="14.72" height="9.05" fill="#f4cbb8"/><rect x="59.17" width="5.57" height="9.05" fill="#f5cdbb"/><rect x="63.75" width="5.57" height="9.05" fill="#f5cfbf"/><rect x="68.32" width="5.57" height="9.05" fill="#f6d3c3"/><rect x="72.89" width="5.57" height="9.05" fill="#f5d3c3"/><rect x="77.47" width="5.57" height="9.05" fill="#f6d3c3"/><rect x="82.04" width="5.57" height="9.05" fill="#f5d2c2"/><rect x="86.61" width="5.57" height="9.05" fill="#f5cebd"/><rect x="91.19" width="10.15" height="9.05" fill="#f5cfbf"/><rect x="100.33" width="5.57" height="9.05" fill="#f4cbb8"/><rect x="104.91" width="5.57" height="9.05" fill="#f5cfbf"/><rect x="109.48" width="5.57" height="9.05" fill="#f6d6c7"/><rect x="114.05" width="5.57" height="9.05" fill="#f5d1c0"/><rect x="118.63" width="5.57" height="9.05" fill="#f5cebd"/><rect x="123.20" width="5.57" height="9.05" fill="#f6d3c3"/><rect x="127.77" width="5.57" height="9.05" fill="#f6d6c6"/><rect x="132.35" width="5.57" height="9.05" fill="#f6d4c5"/><rect x="136.92" width="5.57" height="9.05" fill="#f5cebd"/><rect x="141.49" width="10.15" height="9.05" fill="#f5cfbf"/><rect x="150.64" width="5.57" height="9.05" fill="#f4cbb8"/><rect x="155.21" width="5.57" height="9.05" fill="#f5cdbb"/><rect x="159.79" width="5.57" height="9.05" fill="#f5d2c2"/><rect x="164.36" width="5.57" height="9.05" fill="#f6d6c8"/><rect x="168.93" width="5.57" height="9.05" fill="#f6d8c9"/><rect x="173.51" width="5.57" height="9.05" fill="#f6d7c8"/><rect x="178.08" width="5.57" height="9.05" fill="#f5cebd"/><rect x="182.65" width="5.57" height="9.05" fill="#f3c1ac"/><rect x="187.23" width="5.57" height="9.05" fill="#f2bca6"/><rect x="191.80" width="5.57" height="9.05" fill="#f3bfa9"/><rect x="196.37" width="5.57" height="9.05" fill="#f4c9b7"/><rect x="200.95" width="5.57" height="9.05" fill="#f5cdbb"/><rect x="205.52" width="5.57" height="9.05" fill="#f3c6b2"/><rect x="210.09" width="5.57" height="9.05" fill="#f2bca6"/><rect x="214.67" width="5.57" height="9.05" fill="#f2bba5"/><rect x="219.24" width="5.57" height="9.05" fill="#f3bda7"/><rect x="223.81" width="5.57" height="9.05" fill="#f3bfa9"/><rect x="228.39" width="5.57" height="9.05" fill="#f3c3af"/><rect x="232.96" width="5.57" height="9.05" fill="#f3bfa9"/><rect x="237.53" width="5.57" height="9.05" fill="#f2b9a2"/><rect x="242.11" width="5.57" height="9.05" fill="#f3bfa9"/><rect x="246.68" width="5.57" height="9.05" fill="#f2b7a0"/><rect x="251.25" width="5.57" height="9.05" fill="#f1a88f"/><rect x="255.83" width="5.57" height="9.05" fill="#f1ae95"/><rect x="260.40" width="5.57" height="9.05" fill="#f2b7a0"/><rect x="264.97" width="5.57" height="9.05" fill="#f2b49c"/><rect x="269.55" width="5.57" height="9.05" fill="#f2b69f"/><rect x="274.12" width="5.57" height="9.05" fill="#f4cbb8"/><rect x="278.69" width="5.57" height="9.05" fill="#f5d1c0"/><rect x="283.27" width="5.57" height="9.05" fill="#f3c0aa"/><rect x="287.84" width="10.15" height="9.05" fill="#f1a78e"/><rect x="296.99" width="5.57" height="9.05" fill="#f2b9a2"/><rect x="301.56" width="5.57" height="9.05" fill="#f2b69f"/><rect x="306.13" width="5.57" height="9.05" fill="#f1a187"/><rect x="310.71" width="5.57" height="9.05" fill="#f0957c"/><rect x="315.28" width="5.57" height="9.05" fill="#f0997f"/><rect x="319.85" width="5.57" height="9.05" fill="#f0977d"/><rect x="324.43" width="5.57" height="9.05" fill="#ef8d74"/><rect x="329.00" width="5.57" height="9.05" fill="#ee7d64"/><rect x="333.57" width="5.57" height="9.05" fill="#ed745c"/><rect x="338.15" width="5.57" height="9.05" fill="#ee6d55"/><rect x="342.72" width="5.57" height="9.05" fill="#ed7058"/><rect x="347.29" width="5.57" height="9.05" fill="#ee7a61"/><rect x="351.87" width="5.57" height="9.05" fill="#ee7d64"/><rect x="356.44" width="5.57" height="9.05" fill="#ee7f66"/><rect x="361.01" width="5.57" height="9.05" fill="#ee7860"/><rect x="365.59" width="5.57" height="9.05" fill="#ed745c"/><rect x="370.16" width="5.57" height="9.05" fill="#ee7d64"/><rect x="374.73" width="5.57" height="9.05" fill="#ee7a61"/><rect x="379.31" width="5.57" height="9.05" fill="#ee6951"/><rect x="383.88" width="5.57" height="9.05" fill="#ed7058"/><rect x="388.45" width="5.57" height="9.05" fill="#ef8d74"/><rect x="393.03" width="5.57" height="9.05" fill="#f09b82"/><rect x="397.60" width="5.57" height="9.05" fill="#ef876d"/><rect x="402.17" width="5.57" height="9.05" fill="#ee6c54"/><rect x="406.75" width="5.57" height="9.05" fill="#ee6b53"/><rect x="411.32" width="5.57" height="9.05" fill="#ee7a61"/><rect x="415.89" width="5.57" height="9.05" fill="#ee7b62"/><rect x="420.47" width="5.57" height="9.05" fill="#ee6c54"/><rect x="425.04" width="5.57" height="9.05" fill="#ee614b"/><rect x="429.61" width="5.57" height="9.05" fill="#ed5c48"/><rect x="434.19" width="5.57" height="9.05" fill="#ec5142"/><rect x="438.76" width="5.57" height="9.05" fill="#ed473d"/><rect x="443.33" width="5.57" height="9.05" fill="#ec493e"/><rect x="447.91" width="5.57" height="9.05" fill="#ec5142"/><rect x="452.48" width="5.57" height="9.05" fill="#ed5745"/><rect x="457.05" width="5.57" height="9.05" fill="#ed5e4a"/><rect x="461.63" width="5.57" height="9.05" fill="#ed5d49"/><rect x="466.20" width="5.57" height="9.05" fill="#ec4b3f"/><rect x="470.77" width="5.57" height="9.05" fill="#ec5042"/><rect x="475.35" width="5.57" height="9.05" fill="#ee5f4a"/><rect x="479.92" width="5.57" height="9.05" fill="#ed5846"/><rect x="484.49" width="5.57" height="9.05" fill="#ec5544"/><rect x="489.07" width="5.57" height="9.05" fill="#ed5b47"/><rect x="493.64" width="5.57" height="9.05" fill="#ec5443"/><rect x="498.21" width="5.57" height="9.05" fill="#ec5042"/><rect x="502.79" width="5.57" height="9.05" fill="#ec5745"/><rect x="507.36" width="5.57" height="9.05" fill="#ee624c"/><rect x="511.93" width="5.57" height="9.05" fill="#ed5a47"/><rect x="516.51" width="5.57" height="9.05" fill="#ec3233"/><rect x="521.08" width="5.57" height="9.05" fill="#e0252e"/><rect x="525.65" width="5.57" height="9.05" fill="#e62930"/><rect x="530.23" width="5.57" height="9.05" fill="#ed4039"/><rect x="534.80" width="5.57" height="9.05" fill="#ee5e4a"/><rect x="539.37" width="5.57" height="9.05" fill="#ee6e55"/><rect x="543.95" width="5.57" height="9.05" fill="#ee624c"/><rect x="548.52" width="5.57" height="9.05" fill="#ee5e4a"/><rect x="553.09" width="5.57" height="9.05" fill="#ed7159"/><rect x="557.67" width="5.57" height="9.05" fill="#ee7960"/><rect x="562.24" width="5.57" height="9.05" fill="#ed745b"/><rect x="566.81" width="5.57" height="9.05" fill="#ed5a47"/><rect x="571.39" width="5.57" height="9.05" fill="#ed443b"/><rect x="575.96" width="5.57" height="9.05" fill="#ec5042"/><rect x="580.53" width="5.57" height="9.05" fill="#ed443b"/><rect x="585.11" width="5.57" height="9.05" fill="#ec3233"/><rect x="589.68" width="5.57" height="9.05" fill="#ec5443"/><rect x="594.25" width="5.57" height="9.05" fill="#ed725a"/><rect x="598.83" width="14.72" height="9.05" fill="#ee7d64"/></g>
<g transform="translate(0 70.818)"><rect x="45.45" width="14.72" height="9.05" fill="#f5d1c0"/><rect x="59.17" width="5.57" height="9.05" fill="#f4c8b5"/><rect x="63.75" width="5.57" height="9.05" fill="#f3c1ac"/><rect x="68.32" width="5.57" height="9.05" fill="#f4c7b3"/><rect x="72.89" width="5.57" height="9.05" fill="#f2bba5"/><rect x="77.47" width="5.57" height="9.05" fill="#f2b69f"/><rect x="82.04" width="5.57" height="9.05" fill="#f2b9a2"/><rect x="86.61" width="5.57" height="9.05" fill="#f4c8b5"/><rect x="91.19" width="5.57" height="9.05" fill="#f5d0bf"/><rect x="95.76" width="5.57" height="9.05" fill="#f4c9b7"/><rect x="100.33" width="5.57" height="9.05" fill="#f2b49c"/><rect x="104.91" width="5.57" height="9.05" fill="#f2b69f"/><rect x="109.48" width="5.57" height="9.05" fill="#f5d2c2"/><rect x="114.05" width="5.57" height="9.05" fill="#f3c3af"/><rect x="118.63" width="5.57" height="9.05" fill="#f2b39a"/><rect x="123.20" width="5.57" height="9.05" fill="#f1ae95"/><rect x="127.77" width="5.57" height="9.05" fill="#f1a68c"/><rect x="132.35" width="5.57" height="9.05" fill="#f2b39a"/><rect x="136.92" width="5.57" height="9.05" fill="#f3c2ad"/><rect x="141.49" width="10.15" height="9.05" fill="#f4ccba"/><rect x="150.64" width="14.72" height="9.05" fill="#f1ab92"/><rect x="164.36" width="5.57" height="9.05" fill="#f6d3c3"/><rect x="168.93" width="5.57" height="9.05" fill="#f5cdbb"/><rect x="173.51" width="5.57" height="9.05" fill="#f3c6b2"/><rect x="178.08" width="5.57" height="9.05" fill="#f4c8b5"/><rect x="182.65" width="5.57" height="9.05" fill="#f4c6b2"/><rect x="187.23" width="5.57" height="9.05" fill="#f2bca6"/><rect x="191.80" width="5.57" height="9.05" fill="#f2baa3"/><rect x="196.37" width="5.57" height="9.05" fill="#f2b7a0"/><rect x="200.95" width="5.57" height="9.05" fill="#f1ab92"/><rect x="205.52" width="5.57" height="9.05" fill="#f1a68c"/><rect x="210.09" width="5.57" height="9.05" fill="#f2bba5"/><rect x="214.67" width="5.57" height="9.05" fill="#f5cdbb"/><rect x="219.24" width="5.57" height="9.05" fill="#f5cebd"/><rect x="223.81" width="5.57" height="9.05" fill="#f3c5b0"/><rect x="228.39" width="5.57" height="9.05" fill="#f3bfa9"/><rect x="232.96" width="10.15" height="9.05" fill="#f2bca6"/><rect x="242.11" width="5.57" height="9.05" fill="#f3bda7"/><rect x="246.68" width="5.57" height="9.05" fill="#f2b59d"/><rect x="251.25" width="5.57" height="9.05" fill="#f2b69f"/><rect x="255.83" width="5.57" height="9.05" fill="#f2baa3"/><rect x="260.40" width="5.57" height="9.05" fill="#f2b39a"/><rect x="264.97" width="5.57" height="9.05" fill="#f1ac93"/><rect x="269.55" width="5.57" height="9.05" fill="#f2b9a2"/><rect x="274.12" width="5.57" height="9.05" fill="#f3bfa9"/><rect x="278.69" width="5.57" height="9.05" fill="#f2b7a0"/><rect x="283.27" width="5.57" height="9.05" fill="#f3bfa9"/><rect x="287.84" width="5.57" height="9.05" fill="#f4ccba"/><rect x="292.41" width="5.57" height="9.05" fill="#f5cebd"/><rect x="296.99" width="5.57" height="9.05" fill="#f4ccba"/><rect x="301.56" width="5.57" height="9.05" fill="#f4cbb8"/><rect x="306.13" width="5.57" height="9.05" fill="#f3c5b0"/><rect x="310.71" width="5.57" height="9.05" fill="#f2bba5"/><rect x="315.28" width="5.57" height="9.05" fill="#f2b59d"/><rect x="319.85" width="5.57" height="9.05" fill="#f1b097"/><rect x="324.43" width="5.57" height="9.05" fill="#f2bba5"/><rect x="329.00" width="5.57" height="9.05" fill="#f4c8b5"/><rect x="333.57" width="5.57" height="9.05" fill="#f5cebd"/><rect x="338.15" width="5.57" height="9.05" fill="#f3c6b2"/><rect x="342.72" width="5.57" height="9.05" fill="#f2b9a2"/><rect x="347.29" width="5.57" height="9.05" fill="#f2baa3"/><rect x="351.87" width="5.57" height="9.05" fill="#f2bba5"/><rect x="356.44" width="5.57" height="9.05" fill="#f2b49c"/><rect x="361.01" width="5.57" height="9.05" fill="#f2b69f"/><rect x="365.59" width="5.57" height="9.05" fill="#f3c2ad"/><rect x="370.16" width="5.57" height="9.05" fill="#f3c6b2"/><rect x="374.73" width="5.57" height="9.05" fill="#f2bca6"/><rect x="379.31" width="5.57" height="9.05" fill="#f2b69f"/><rect x="383.88" width="5.57" height="9.05" fill="#f2baa3"/><rect x="388.45" width="5.57" height="9.05" fill="#f3bfa9"/><rect x="393.03" width="5.57" height="9.05" fill="#f3c1ac"/><rect x="397.60" width="5.57" height="9.05" fill="#f2bba5"/><rect x="402.17" width="5.57" height="9.05" fill="#f2b69f"/><rect x="406.75" width="5.57" height="9.05" fill="#f2b7a0"/><rect x="411.32" width="5.57" height="9.05" fill="#f2bba5"/><rect x="415.89" width="5.57" height="9.05" fill="#f2baa3"/><rect x="420.47" width="5.57" height="9.05" fill="#f2b49c"/><rect x="425.04" width="5.57" height="9.05" fill="#f2b59d"/><rect x="429.61" width="5.57" height="9.05" fill="#f2b69f"/><rect x="434.19" width="5.57" height="9.05" fill="#f1a78e"/><rect x="438.76" width="5.57" height="9.05" fill="#f09c83"/><rect x="443.33" width="5.57" height="9.05" fill="#f1a289"/><rect x="447.91" width="5.57" height="9.05" fill="#f1af96"/><rect x="452.48" width="5.57" height="9.05" fill="#f2bca6"/><rect x="457.05" width="5.57" height="9.05" fill="#f3bfa9"/><rect x="461.63" width="5.57" height="9.05" fill="#f2b9a2"/><rect x="466.20" width="5.57" height="9.05" fill="#f2baa3"/><rect x="470.77" width="5.57" height="9.05" fill="#f2b199"/><rect x="475.35" width="5.57" height="9.05" fill="#f1a48b"/><rect x="479.92" width="5.57" height="9.05" fill="#f1a086"/><rect x="484.49" width="5.57" height="9.05" fill="#f1ab92"/><rect x="489.07" width="5.57" height="9.05" fill="#f2bca6"/><rect x="493.64" width="5.57" height="9.05" fill="#f3c3af"/><rect x="498.21" width="5.57" height="9.05" fill="#f3bfa9"/><rect x="502.79" width="5.57" height="9.05" fill="#f2b7a0"/><rect x="507.36" width="5.57" height="9.05" fill="#f2b69f"/><rect x="511.93" width="5.57" height="9.05" fill="#f2bba5"/><rect x="516.51" width="5.57" height="9.05" fill="#f3bda7"/><rect x="521.08" width="5.57" height="9.05" fill="#f1ae95"/><rect x="525.65" width="5.57" height="9.05" fill="#f1a187"/><rect x="530.23" width="5.57" height="9.05" fill="#f1ab92"/><rect x="534.80" width="5.57" height="9.05" fill="#f1a086"/><rect x="539.37" width="5.57" height="9.05" fill="#ef8b71"/><rect x="543.95" width="5.57" height="9.05" fill="#f0997f"/><rect x="548.52" width="5.57" height="9.05" fill="#f1a88f"/><rect x="553.09" width="5.57" height="9.05" fill="#f1ae95"/><rect x="557.67" width="5.57" height="9.05" fill="#f2b7a0"/><rect x="562.24" width="5.57" height="9.05" fill="#f1b199"/><rect x="566.81" width="5.57" height="9.05" fill="#ef8e75"/><rect x="571.39" width="5.57" height="9.05" fill="#f09379"/><rect x="575.96" width="5.57" height="9.05" fill="#f2b7a0"/><rect x="580.53" width="5.57" height="9.05" fill="#f2b59d"/><rect x="585.11" width="5.57" height="9.05" fill="#f1ae95"/><rect x="589.68" width="5.57" height="9.05" fill="#f1af96"/><rect x="594.25" width="5.57" height="9.05" fill="#f09d84"/><rect x="598.83" width="14.72" height="9.05" fill="#f09278"/></g>
<g transform="translate(0 78.871)"><rect x="45.45" width="14.72" height="9.05" fill="#f7d8ca"/><rect x="59.17" width="5.57" height="9.05" fill="#f7dbce"/><rect x="63.75" width="5.57" height="9.05" fill="#f6d8ca"/><rect x="68.32" width="5.57" height="9.05" fill="#f6d3c3"/><rect x="72.89" width="5.57" height="9.05" fill="#f4c9b7"/><rect x="77.47" width="5.57" height="9.05" fill="#f3c1ac"/><rect x="82.04" width="5.57" height="9.05" fill="#f4ccba"/><rect x="86.61" width="5.57" height="9.05" fill="#f6d3c3"/><rect x="91.19" width="5.57" height="9.05" fill="#f5d0bf"/><rect x="95.76" width="5.57" height="9.05" fill="#f5cdbb"/><rect x="100.33" width="5.57" height="9.05" fill="#f5d2c2"/><rect x="104.91" width="5.57" height="9.05" fill="#f7dacd"/><rect x="109.48" width="5.57" height="9.05" fill="#f8ded2"/><rect x="114.05" width="5.57" height="9.05" fill="#f7ddd0"/><rect x="118.63" width="5.57" height="9.05" fill="#f6d7c9"/><rect x="123.20" width="5.57" height="9.05" fill="#f6d6c7"/><rect x="127.77" width="5.57" height="9.05" fill="#f7d9cb"/><rect x="132.35" width="10.15" height="9.05" fill="#f7dacc"/><rect x="141.49" width="5.57" height="9.05" fill="#f7d9cb"/><rect x="146.07" width="5.57" height="9.05" fill="#f6d8c9"/><rect x="150.64" width="5.57" height="9.05" fill="#f5d2c2"/><rect x="155.21" width="5.57" height="9.05" fill="#f4c9b7"/><rect x="159.79" width="5.57" height="9.05" fill="#f5cebd"/><rect x="164.36" width="5.57" height="9.05" fill="#f6d7c8"/><rect x="168.93" width="5.57" height="9.05" fill="#f6d4c5"/><rect x="173.51" width="5.57" height="9.05" fill="#f4c9b7"/><rect x="178.08" width="5.57" height="9.05" fill="#f4c7b4"/><rect x="182.65" width="5.57" height="9.05" fill="#f4c8b5"/><rect x="187.23" width="5.57" height="9.05" fill="#f3c1ac"/><rect x="191.80" width="5.57" height="9.05" fill="#f3c3af"/><rect x="196.37" width="5.57" height="9.05" fill="#f6d3c3"/><rect x="200.95" width="5.57" height="9.05" fill="#f7d8ca"/><rect x="205.52" width="5.57" height="9.05" fill="#f6d8c9"/><rect x="210.09" width="5.57" height="9.05" fill="#f5d2c2"/><rect x="214.67" width="5.57" height="9.05" fill="#f5d1c0"/><rect x="219.24" width="5.57" height="9.05" fill="#f6d6c6"/><rect x="223.81" width="5.57" height="9.05" fill="#f6d4c5"/><rect x="228.39" width="5.57" height="9.05" fill="#f5d0bf"/><rect x="232.96" width="10.15" height="9.05" fill="#f5d2c2"/><rect x="242.11" width="5.57" height="9.05" fill="#f5cfbf"/><rect x="246.68" width="5.57" height="9.05" fill="#f6d7c8"/><rect x="251.25" width="5.57" height="9.05" fill="#f6d5c6"/><rect x="255.83" width="5.57" height="9.05" fill="#f3c3af"/><rect x="260.40" width="5.57" height="9.05" fill="#f4cbb8"/><rect x="264.97" width="5.57" height="9.05" fill="#f6d4c5"/><rect x="269.55" width="5.57" height="9.05" fill="#f5d3c3"/><rect x="274.12" width="5.57" height="9.05" fill="#f4cbb8"/><rect x="278.69" width="5.57" height="9.05" fill="#f3c1ac"/><rect x="283.27" width="5.57" height="9.05" fill="#f3bda7"/><rect x="287.84" width="5.57" height="9.05" fill="#f3c2ad"/><rect x="292.41" width="5.57" height="9.05" fill="#f4cbb8"/><rect x="296.99" width="5.57" height="9.05" fill="#f5cdbb"/><rect x="301.56" width="5.57" height="9.05" fill="#f3c0aa"/><rect x="306.13" width="5.57" height="9.05" fill="#f1ae95"/><rect x="310.71" width="5.57" height="9.05" fill="#f2b49c"/><rect x="315.28" width="10.15" height="9.05" fill="#f2bca6"/><rect x="324.43" width="5.57" height="9.05" fill="#f3c0aa"/><rect x="329.00" width="5.57" height="9.05" fill="#f3c5b0"/><rect x="333.57" width="5.57" height="9.05" fill="#f4c7b4"/><rect x="338.15" width="5.57" height="9.05" fill="#f3c1ac"/><rect x="342.72" width="5.57" height="9.05" fill="#f2b7a0"/><rect x="347.29" width="5.57" height="9.05" fill="#f2b59d"/><rect x="351.87" width="5.57" height="9.05" fill="#f1a78e"/><rect x="356.44" width="5.57" height="9.05" fill="#f0987e"/><rect x="361.01" width="5.57" height="9.05" fill="#f1a086"/><rect x="365.59" width="5.57" height="9.05" fill="#f2b7a0"/><rect x="370.16" width="5.57" height="9.05" fill="#f3c0aa"/><rect x="374.73" width="5.57" height="9.05" fill="#f3c1ac"/><rect x="379.31" width="5.57" height="9.05" fill="#f2bca6"/><rect x="383.88" width="5.57" height="9.05" fill="#f1ae95"/><rect x="388.45" width="5.57" height="9.05" fill="#f09f85"/><rect x="393.03" width="5.57" height="9.05" fill="#f09d84"/><rect x="397.60" width="5.57" height="9.05" fill="#f1a086"/><rect x="402.17" width="5.57" height="9.05" fill="#f09f85"/><rect x="406.75" width="5.57" height="9.05" fill="#f09a80"/><rect x="411.32" width="5.57" height="9.05" fill="#ef886e"/><rect x="415.89" width="5.57" height="9.05" fill="#ee755c"/><rect x="420.47" width="5.57" height="9.05" fill="#ef836a"/><rect x="425.04" width="5.57" height="9.05" fill="#f1a88f"/><rect x="429.61" width="5.57" height="9.05" fill="#f2b69f"/><rect x="434.19" width="5.57" height="9.05" fill="#f2b59d"/><rect x="438.76" width="5.57" height="9.05" fill="#f1a289"/><rect x="443.33" width="5.57" height="9.05" fill="#ef896f"/><rect x="447.91" width="5.57" height="9.05" fill="#ee7a61"/><rect x="452.48" width="5.57" height="9.05" fill="#ef674f"/><rect x="457.05" width="5.57" height="9.05" fill="#ed4e41"/><rect x="461.63" width="5.57" height="9.05" fill="#ee634d"/><rect x="466.20" width="5.57" height="9.05" fill="#ef886e"/><rect x="470.77" width="5.57" height="9.05" fill="#f1af96"/><rect x="475.35" width="5.57" height="9.05" fill="#f3c2ad"/><rect x="479.92" width="5.57" height="9.05" fill="#f5cebd"/><rect x="484.49" width="5.57" height="9.05" fill="#f3c1ac"/><rect x="489.07" width="5.57" height="9.05" fill="#f2b39a"/><rect x="493.64" width="5.57" height="9.05" fill="#f3bfa9"/><rect x="498.21" width="5.57" height="9.05" fill="#f2bca6"/><rect x="502.79" width="5.57" height="9.05" fill="#f1aa90"/><rect x="507.36" width="5.57" height="9.05" fill="#f1ab92"/><rect x="511.93" width="5.57" height="9.05" fill="#f1a88f"/><rect x="516.51" width="5.57" height="9.05" fill="#f0947b"/><rect x="521.08" width="5.57" height="9.05" fill="#ef9076"/><rect x="525.65" width="5.57" height="9.05" fill="#f09a80"/><rect x="530.23" width="5.57" height="9.05" fill="#f09e84"/><rect x="534.80" width="5.57" height="9.05" fill="#f09278"/><rect x="539.37" width="5.57" height="9.05" fill="#ef866c"/><rect x="543.95" width="5.57" height="9.05" fill="#ee8067"/><rect x="548.52" width="5.57" height="9.05" fill="#ee7b62"/><rect x="553.09" width="5.57" height="9.05" fill="#ef836a"/><rect x="557.67" width="5.57" height="9.05" fill="#f09278"/><rect x="562.24" width="5.57" height="9.05" fill="#f1a187"/><rect x="566.81" width="5.57" height="9.05" fill="#f1aa90"/><rect x="571.39" width="5.57" height="9.05" fill="#f19f85"/><rect x="575.96" width="5.57" height="9.05" fill="#ef8d74"/><rect x="580.53" width="5.57" height="9.05" fill="#ef8c72"/><rect x="585.11" width="5.57" height="9.05" fill="#ef866c"/><rect x="589.68" width="10.15" height="9.05" fill="#ef876d"/><rect x="598.83" width="14.72" height="9.05" fill="#ee7d64"/></g>
<g transform="translate(0 86.924)"><rect x="45.45" width="14.72" height="9.05" fill="#f6d8c9"/><rect x="59.17" width="5.57" height="9.05" fill="#f5d1c0"/><rect x="63.75" width="5.57" height="9.05" fill="#f5cdbb"/><rect x="68.32" width="5.57" height="9.05" fill="#f5d2c2"/><rect x="72.89" width="5.57" height="9.05" fill="#f6d8c9"/><rect x="77.47" width="5.57" height="9.05" fill="#f7dacc"/><rect x="82.04" width="5.57" height="9.05" fill="#f7d9cb"/><rect x="86.61" width="5.57" height="9.05" fill="#f5d1c0"/><rect x="91.19" width="5.57" height="9.05" fill="#f3c5b0"/><rect x="95.76" width="5.57" height="9.05" fill="#f3c3af"/><rect x="100.33" width="5.57" height="9.05" fill="#f4c7b4"/><rect x="104.91" width="5.57" height="9.05" fill="#f5d3c3"/><rect x="109.48" width="5.57" height="9.05" fill="#f7dbce"/><rect x="114.05" width="5.57" height="9.05" fill="#f7dccf"/><rect x="118.63" width="5.57" height="9.05" fill="#f6d8c9"/><rect x="123.20" width="5.57" height="9.05" fill="#f5cfbf"/><rect x="127.77" width="5.57" height="9.05" fill="#f5cebd"/><rect x="132.35" width="10.15" height="9.05" fill="#f6d6c8"/><rect x="141.49" width="5.57" height="9.05" fill="#f6d4c5"/><rect x="146.07" width="5.57" height="9.05" fill="#f6d8c9"/><rect x="150.64" width="5.57" height="9.05" fill="#f7d9cb"/><rect x="155.21" width="5.57" height="9.05" fill="#f6d6c8"/><rect x="159.79" width="10.15" height="9.05" fill="#f5d2c2"/><rect x="168.93" width="5.57" height="9.05" fill="#f5cdbb"/><rect x="173.51" width="5.57" height="9.05" fill="#f4cbb8"/><rect x="178.08" width="5.57" height="9.05" fill="#f3c5b0"/><rect x="182.65" width="5.57" height="9.05" fill="#f3c2ad"/><rect x="187.23" width="5.57" height="9.05" fill="#f5cebd"/><rect x="191.80" width="5.57" height="9.05" fill="#f5d1c0"/><rect x="196.37" width="5.57" height="9.05" fill="#f5cdbb"/><rect x="200.95" width="10.15" height="9.05" fill="#f5cfbf"/><rect x="210.09" width="5.57" height="9.05" fill="#f3c6b2"/><rect x="214.67" width="5.57" height="9.05" fill="#f3c3af"/><rect x="219.24" width="5.57" height="9.05" fill="#f4c8b5"/><rect x="223.81" width="5.57" height="9.05" fill="#f4c6b2"/><rect x="228.39" width="5.57" height="9.05" fill="#f2bba5"/><rect x="232.96" width="5.57" height="9.05" fill="#f3c2ad"/><rect x="237.53" width="5.57" height="9.05" fill="#f5cfbf"/><rect x="242.11" width="5.57" height="9.05" fill="#f4c7b4"/><rect x="246.68" width="5.57" height="9.05" fill="#f3c3af"/><rect x="251.25" width="5.57" height="9.05" fill="#f6d3c3"/><rect x="255.83" width="5.57" height="9.05" fill="#f6d4c5"/><rect x="260.40" width="5.57" height="9.05" fill="#f4cbb8"/><rect x="264.97" width="5.57" height="9.05" fill="#f4c6b2"/><rect x="269.55" width="5.57" height="9.05" fill="#f3c2ad"/><rect x="274.12" width="5.57" height="9.05" fill="#f3bfa9"/><rect x="278.69" width="10.15" height="9.05" fill="#f3c3af"/><rect x="287.84" width="5.57" height="9.05" fill="#f2bca6"/><rect x="292.41" width="5.57" height="9.05" fill="#f2b39a"/><rect x="296.99" width="5.57" height="9.05" fill="#f1a48b"/><rect x="301.56" width="5.57" height="9.05" fill="#f1a78e"/><rect x="306.13" width="5.57" height="9.05" fill="#f2b9a2"/><rect x="310.71" width="5.57" height="9.05" fill="#f2b69f"/><rect x="315.28" width="5.57" height="9.05" fill="#f1a188"/><rect x="319.85" width="5.57" height="9.05" fill="#f1a48b"/><rect x="324.43" width="5.57" height="9.05" fill="#f2baa3"/><rect x="329.00" width="5.57" height="9.05" fill="#f3c0aa"/><rect x="333.57" width="5.57" height="9.05" fill="#f3bda7"/><rect x="338.15" width="5.57" height="9.05" fill="#f3c1ac"/><rect x="342.72" width="5.57" height="9.05" fill="#f4c8b5"/><rect x="347.29" width="5.57" height="9.05" fill="#f4cbb8"/><rect x="351.87" width="5.57" height="9.05" fill="#f3c6b2"/><rect x="356.44" width="5.57" height="9.05" fill="#f3c5b0"/><rect x="361.01" width="10.15" height="9.05" fill="#f5cdbb"/><rect x="370.16" width="5.57" height="9.05" fill="#f4c9b7"/><rect x="374.73" width="5.57" height="9.05" fill="#f5cfbf"/><rect x="379.31" width="5.57" height="9.05" fill="#f5d2c2"/><rect x="383.88" width="5.57" height="9.05" fill="#f5d1c0"/><rect x="388.45" width="5.57" height="9.05" fill="#f5cdbb"/><rect x="393.03" width="5.57" height="9.05" fill="#f3c6b2"/><rect x="397.60" width="5.57" height="9.05" fill="#f3c3af"/><rect x="402.17" width="5.57" height="9.05" fill="#f2baa3"/><rect x="406.75" width="5.57" height="9.05" fill="#f2b7a0"/><rect x="411.32" width="5.57" height="9.05" fill="#f3c2ad"/><rect x="415.89" width="5.57" height="9.05" fill="#f3c5b0"/><rect x="420.47" width="5.57" height="9.05" fill="#f4c8b5"/><rect x="425.04" width="5.57" height="9.05" fill="#f4ccba"/><rect x="429.61" width="5.57" height="9.05" fill="#f4c7b3"/><rect x="434.19" width="5.57" height="9.05" fill="#f2bca6"/><rect x="438.76" width="5.57" height="9.05" fill="#f1ae95"/><rect x="443.33" width="5.57" height="9.05" fill="#f1af96"/><rect x="447.91" width="5.57" height="9.05" fill="#f3bfa9"/><rect x="452.48" width="5.57" height="9.05" fill="#f3bda7"/><rect x="457.05" width="5.57" height="9.05" fill="#f1ac93"/><rect x="461.63" width="5.57" height="9.05" fill="#f2b7a0"/><rect x="466.20" width="5.57" height="9.05" fill="#f4c8b5"/><rect x="470.77" width="5.57" height="9.05" fill="#f3c1ac"/><rect x="475.35" width="5.57" height="9.05" fill="#f2b7a0"/><rect x="479.92" width="5.57" height="9.05" fill="#f2baa3"/><rect x="484.49" width="5.57" height="9.05" fill="#f3c6b2"/><rect x="489.07" width="5.57" height="9.05" fill="#f5cdbb"/><rect x="493.64" width="5.57" height="9.05" fill="#f3c2ad"/><rect x="498.21" width="5.57" height="9.05" fill="#f2b199"/><rect x="502.79" width="5.57" height="9.05" fill="#f3bda7"/><rect x="507.36" width="5.57" height="9.05" fill="#f4c7b3"/><rect x="511.93" width="5.57" height="9.05" fill="#f3bfa9"/><rect x="516.51" width="5.57" height="9.05" fill="#f3c2ad"/><rect x="521.08" width="5.57" height="9.05" fill="#f4c7b3"/><rect x="525.65" width="5.57" height="9.05" fill="#f4c8b5"/><rect x="530.23" width="5.57" height="9.05" fill="#f5cdbb"/><rect x="534.80" width="5.57" height="9.05" fill="#f4ccba"/><rect x="539.37" width="5.57" height="9.05" fill="#f4c8b5"/><rect x="543.95" width="5.57" height="9.05" fill="#f4c7b4"/><rect x="548.52" width="5.57" height="9.05" fill="#f4c8b5"/><rect x="553.09" width="5.57" height="9.05" fill="#f5cdbb"/><rect x="557.67" width="5.57" height="9.05" fill="#f5d2c2"/><rect x="562.24" width="5.57" height="9.05" fill="#f4c8b5"/><rect x="566.81" width="5.57" height="9.05" fill="#f2b69f"/><rect x="571.39" width="5.57" height="9.05" fill="#f2b39a"/><rect x="575.96" width="5.57" height="9.05" fill="#f2b69f"/><rect x="580.53" width="5.57" height="9.05" fill="#f2b199"/><rect x="585.11" width="5.57" height="9.05" fill="#f1a68c"/><rect x="589.68" width="5.57" height="9.05" fill="#f09c83"/><rect x="594.25" width="5.57" height="9.05" fill="#f1a289"/><rect x="598.83" width="14.72" height="9.05" fill="#f2b7a0"/></g>
<g transform="translate(0 94.976)"><rect x="45.45" width="14.72" height="9.05" fill="#f2baa3"/><rect x="59.17" width="5.57" height="9.05" fill="#f4cbb8"/><rect x="63.75" width="5.57" height="9.05" fill="#f7d9cb"/><rect x="68.32" width="10.15" height="9.05" fill="#f7ddd0"/><rect x="77.47" width="5.57" height="9.05" fill="#f6d6c8"/><rect x="82.04" width="5.57" height="9.05" fill="#f5cfbf"/><rect x="86.61" width="5.57" height="9.05" fill="#f5d2c2"/><rect x="91.19" width="5.57" height="9.05" fill="#f5cebd"/><rect x="95.76" width="5.57" height="9.05" fill="#f4cbb8"/><rect x="100.33" width="5.57" height="9.05" fill="#f4ccba"/><rect x="104.91" width="5.57" height="9.05" fill="#f4cbb8"/><rect x="109.48" width="5.57" height="9.05" fill="#f4c9b7"/><rect x="114.05" width="5.57" height="9.05" fill="#f4ccba"/><rect x="118.63" width="5.57" height="9.05" fill="#f4cbb8"/><rect x="123.20" width="5.57" height="9.05" fill="#f5cdbb"/><rect x="127.77" width="5.57" height="9.05" fill="#f5cebd"/><rect x="132.35" width="5.57" height="9.05" fill="#f3c6b2"/><rect x="136.92" width="5.57" height="9.05" fill="#f3c1ac"/><rect x="141.49" width="5.57" height="9.05" fill="#f4c6b2"/><rect x="146.07" width="5.57" height="9.05" fill="#f3c3af"/><rect x="150.64" width="5.57" height="9.05" fill="#f4c9b7"/><rect x="155.21" width="5.57" height="9.05" fill="#f6d3c3"/><rect x="159.79" width="14.72" height="9.05" fill="#f6d4c5"/><rect x="173.51" width="5.57" height="9.05" fill="#f5d1c0"/><rect x="178.08" width="5.57" height="9.05" fill="#f5cfbf"/><rect x="182.65" width="5.57" height="9.05" fill="#f4ccba"/><rect x="187.23" width="5.57" height="9.05" fill="#f3c3af"/><rect x="191.80" width="5.57" height="9.05" fill="#f3c0aa"/><rect x="196.37" width="5.57" height="9.05" fill="#f2b69f"/><rect x="200.95" width="5.57" height="9.05" fill="#f2b49c"/><rect x="205.52" width="5.57" height="9.05" fill="#f3c3af"/><rect x="210.09" width="5.57" height="9.05" fill="#f5cebd"/><rect x="214.67" width="5.57" height="9.05" fill="#f5cfbf"/><rect x="219.24" width="5.57" height="9.05" fill="#f4c6b2"/><rect x="223.81" width="5.57" height="9.05" fill="#f2bba5"/><rect x="228.39" width="5.57" height="9.05" fill="#f3c2ad"/><rect x="232.96" width="5.57" height="9.05" fill="#f5cebd"/><rect x="237.53" width="5.57" height="9.05" fill="#f5cdbb"/><rect x="242.11" width="10.15" height="9.05" fill="#f3c6b2"/><rect x="251.25" width="5.57" height="9.05" fill="#f4cbb8"/><rect x="255.83" width="5.57" height="9.05" fill="#f4ccba"/><rect x="260.40" width="5.57" height="9.05" fill="#f3c3af"/><rect x="264.97" width="5.57" height="9.05" fill="#f3bfa9"/><rect x="269.55" width="5.57" height="9.05" fill="#f4c9b7"/><rect x="274.12" width="5.57" height="9.05" fill="#f5d2c2"/><rect x="278.69" width="5.57" height="9.05" fill="#f5d1c0"/><rect x="283.27" width="10.15" height="9.05" fill="#f4ccba"/><rect x="292.41" width="5.57" height="9.05" fill="#f5d1c0"/><rect x="296.99" width="5.57" height="9.05" fill="#f5d3c3"/><rect x="301.56" width="10.15" height="9.05" fill="#f4ccba"/><rect x="310.71" width="5.57" height="9.05" fill="#f6d8c9"/><rect x="315.28" width="5.57" height="9.05" fill="#f7dacd"/><rect x="319.85" width="5.57" height="9.05" fill="#f6d8ca"/><rect x="324.43" width="5.57" height="9.05" fill="#f6d7c8"/><rect x="329.00" width="5.57" height="9.05" fill="#f6d3c3"/><rect x="333.57" width="5.57" height="9.05" fill="#f4c7b4"/><rect x="338.15" width="5.57" height="9.05" fill="#f3c6b2"/><rect x="342.72" width="5.57" height="9.05" fill="#f5cdbb"/><rect x="347.29" width="5.57" height="9.05" fill="#f5cfbf"/><rect x="351.87" width="5.57" height="9.05" fill="#f5cdbb"/><rect x="356.44" width="10.15" height="9.05" fill="#f4cbb8"/><rect x="365.59" width="5.57" height="9.05" fill="#f4ccba"/><rect x="370.16" width="10.15" height="9.05" fill="#f5cdbb"/><rect x="379.31" width="5.57" height="9.05" fill="#f5d1c0"/><rect x="383.88" width="5.57" height="9.05" fill="#f7d9cb"/><rect x="388.45" width="5.57" height="9.05" fill="#f7dacc"/><rect x="393.03" width="5.57" height="9.05" fill="#f6d3c3"/><rect x="397.60" width="5.57" height="9.05" fill="#f5cebd"/><rect x="402.17" width="5.57" height="9.05" fill="#f4cbb8"/><rect x="406.75" width="5.57" height="9.05" fill="#f4c7b3"/><rect x="411.32" width="5.57" height="9.05" fill="#f4c6b2"/><rect x="415.89" width="10.15" height="9.05" fill="#f3bda7"/><rect x="425.04" width="5.57" height="9.05" fill="#f4c6b2"/><rect x="429.61" width="5.57" height="9.05" fill="#f3bfa9"/><rect x="434.19" width="5.57" height="9.05" fill="#f2b59d"/><rect x="438.76" width="5.57" height="9.05" fill="#f3c6b2"/><rect x="443.33" width="5.57" height="9.05" fill="#f5d3c3"/><rect x="447.91" width="5.57" height="9.05" fill="#f4c7b3"/><rect x="452.48" width="5.57" height="9.05" fill="#f3c5b0"/><rect x="457.05" width="10.15" height="9.05" fill="#f4cbb8"/><rect x="466.20" width="5.57" height="9.05" fill="#f5d2c2"/><rect x="470.77" width="5.57" height="9.05" fill="#f6d4c5"/><rect x="475.35" width="5.57" height="9.05" fill="#f5d2c2"/><rect x="479.92" width="5.57" height="9.05" fill="#f6d3c3"/><rect x="484.49" width="5.57" height="9.05" fill="#f5d2c2"/><rect x="489.07" width="5.57" height="9.05" fill="#f6d3c3"/><rect x="493.64" width="5.57" height="9.05" fill="#f5d1c0"/><rect x="498.21" width="5.57" height="9.05" fill="#f5cdbb"/><rect x="502.79" width="5.57" height="9.05" fill="#f3c2ad"/><rect x="507.36" width="5.57" height="9.05" fill="#f1af96"/><rect x="511.93" width="5.57" height="9.05" fill="#f2baa3"/><rect x="516.51" width="10.15" height="9.05" fill="#f3c5b0"/><rect x="525.65" width="5.57" height="9.05" fill="#f3c3af"/><rect x="530.23" width="5.57" height="9.05" fill="#f3c0aa"/><rect x="534.80" width="5.57" height="9.05" fill="#f3bda7"/><rect x="539.37" width="5.57" height="9.05" fill="#f3c0aa"/><rect x="543.95" width="5.57" height="9.05" fill="#f3c5b0"/><rect x="548.52" width="5.57" height="9.05" fill="#f4c7b3"/><rect x="553.09" width="5.57" height="9.05" fill="#f3bfa9"/><rect x="557.67" width="5.57" height="9.05" fill="#f2bca6"/><rect x="562.24" width="5.57" height="9.05" fill="#f3c6b2"/><rect x="566.81" width="5.57" height="9.05" fill="#f4c8b5"/><rect x="571.39" width="5.57" height="9.05" fill="#f3c0aa"/><rect x="575.96" width="5.57" height="9.05" fill="#f2b69f"/><rect x="580.53" width="5.57" height="9.05" fill="#f2bca6"/><rect x="585.11" width="5.57" height="9.05" fill="#f4cbb8"/><rect x="589.68" width="5.57" height="9.05" fill="#f5d3c3"/><rect x="594.25" width="5.57" height="9.05" fill="#f6d8c9"/><rect x="598.83" width="14.72" height="9.05" fill="#f6d7c8"/></g>
<g transform="translate(0 103.029)"><rect x="45.45" width="14.72" height="9.05" fill="#f3c6b2"/><rect x="59.17" width="5.57" height="9.05" fill="#f5d1c0"/><rect x="63.75" width="5.57" height="9.05" fill="#f6d6c6"/><rect x="68.32" width="5.57" height="9.05" fill="#f5d1c0"/><rect x="72.89" width="5.57" height="9.05" fill="#f4ccba"/><rect x="77.47" width="5.57" height="9.05" fill="#f4cbb8"/><rect x="82.04" width="5.57" height="9.05" fill="#f4c8b5"/><rect x="86.61" width="5.57" height="9.05" fill="#f3c6b2"/><rect x="91.19" width="5.57" height="9.05" fill="#f3c2ad"/><rect x="95.76" width="10.15" height="9.05" fill="#f3c3af"/><rect x="104.91" width="5.57" height="9.05" fill="#f3c1ac"/><rect x="109.48" width="5.57" height="9.05" fill="#f4c9b7"/><rect x="114.05" width="5.57" height="9.05" fill="#f4c7b4"/><rect x="118.63" width="5.57" height="9.05" fill="#f3bda7"/><rect x="123.20" width="5.57" height="9.05" fill="#f4c8b5"/><rect x="127.77" width="5.57" height="9.05" fill="#f5cfbf"/><rect x="132.35" width="5.57" height="9.05" fill="#f3c3af"/><rect x="136.92" width="10.15" height="9.05" fill="#f2bba5"/><rect x="146.07" width="5.57" height="9.05" fill="#f2bca6"/><rect x="150.64" width="5.57" height="9.05" fill="#f3bda7"/><rect x="155.21" width="5.57" height="9.05" fill="#f3c5b0"/><rect x="159.79" width="5.57" height="9.05" fill="#f3c1ac"/><rect x="164.36" width="5.57" height="9.05" fill="#f2baa3"/><rect x="168.93" width="5.57" height="9.05" fill="#f3c6b2"/><rect x="173.51" width="5.57" height="9.05" fill="#f5cfbf"/><rect x="178.08" width="5.57" height="9.05" fill="#f3c5b0"/><rect x="182.65" width="5.57" height="9.05" fill="#f2b199"/><rect x="187.23" width="5.57" height="9.05" fill="#f2b59d"/><rect x="191.80" width="5.57" height="9.05" fill="#f3c2ad"/><rect x="196.37" width="5.57" height="9.05" fill="#f3c1ac"/><rect x="200.95" width="5.57" height="9.05" fill="#f2b9a2"/><rect x="205.52" width="5.57" height="9.05" fill="#f3bfa9"/><rect x="210.09" width="5.57" height="9.05" fill="#f4c8b5"/><rect x="214.67" width="5.57" height="9.05" fill="#f3c5b0"/><rect x="219.24" width="5.57" height="9.05" fill="#f3c6b2"/><rect x="223.81" width="5.57" height="9.05" fill="#f4c7b4"/><rect x="228.39" width="5.57" height="9.05" fill="#f2bca6"/><rect x="232.96" width="5.57" height="9.05" fill="#f1a68c"/><rect x="237.53" width="5.57" height="9.05" fill="#f09c83"/><rect x="242.11" width="5.57" height="9.05" fill="#f1a88f"/><rect x="246.68" width="5.57" height="9.05" fill="#f2b59d"/><rect x="251.25" width="5.57" height="9.05" fill="#f2baa3"/><rect x="255.83" width="5.57" height="9.05" fill="#f2b49c"/><rect x="260.40" width="5.57" height="9.05" fill="#f2b7a0"/><rect x="264.97" width="5.57" height="9.05" fill="#f4c8b5"/><rect x="269.55" width="5.57" height="9.05" fill="#f3c5b0"/><rect x="274.12" width="5.57" height="9.05" fill="#f3c0aa"/><rect x="278.69" width="5.57" height="9.05" fill="#f4c8b5"/><rect x="283.27" width="5.57" height="9.05" fill="#f3c2ad"/><rect x="287.84" width="5.57" height="9.05" fill="#f2bba5"/><rect x="292.41" width="5.57" height="9.05" fill="#f3c3af"/><rect x="296.99" width="5.57" height="9.05" fill="#f3bfa9"/><rect x="301.56" width="5.57" height="9.05" fill="#f1ac93"/><rect x="306.13" width="5.57" height="9.05" fill="#f1aa90"/><rect x="310.71" width="5.57" height="9.05" fill="#f1b097"/><rect x="315.28" width="5.57" height="9.05" fill="#f1a78e"/><rect x="319.85" width="5.57" height="9.05" fill="#f19f85"/><rect x="324.43" width="5.57" height="9.05" fill="#f0997f"/><rect x="329.00" width="5.57" height="9.05" fill="#f0987e"/><rect x="333.57" width="5.57" height="9.05" fill="#f1a289"/><rect x="338.15" width="5.57" height="9.05" fill="#f2b39a"/><rect x="342.72" width="5.57" height="9.05" fill="#f3c6b2"/><rect x="347.29" width="5.57" height="9.05" fill="#f4cbb8"/><rect x="351.87" width="5.57" height="9.05" fill="#f3c6b2"/><rect x="356.44" width="5.57" height="9.05" fill="#f2baa3"/><rect x="361.01" width="5.57" height="9.05" fill="#f2b7a0"/><rect x="365.59" width="5.57" height="9.05" fill="#f3c5b0"/><rect x="370.16" width="5.57" height="9.05" fill="#f4c7b4"/><rect x="374.73" width="5.57" height="9.05" fill="#f4cbb8"/><rect x="379.31" width="5.57" height="9.05" fill="#f3c5b0"/><rect x="383.88" width="5.57" height="9.05" fill="#f1ae95"/><rect x="388.45" width="5.57" height="9.05" fill="#f1a289"/><rect x="393.03" width="5.57" height="9.05" fill="#f0987e"/><rect x="397.60" width="5.57" height="9.05" fill="#f19f85"/><rect x="402.17" width="5.57" height="9.05" fill="#f3bda7"/><rect x="406.75" width="5.57" height="9.05" fill="#f3c0aa"/><rect x="411.32" width="5.57" height="9.05" fill="#f1ab92"/><rect x="415.89" width="5.57" height="9.05" fill="#f2b69f"/><rect x="420.47" width="5.57" height="9.05" fill="#f3c0aa"/><rect x="425.04" width="5.57" height="9.05" fill="#f2b49c"/><rect x="429.61" width="5.57" height="9.05" fill="#f2b199"/><rect x="434.19" width="5.57" height="9.05" fill="#f2baa3"/><rect x="438.76" width="5.57" height="9.05" fill="#f2b7a0"/><rect x="443.33" width="5.57" height="9.05" fill="#f1b097"/><rect x="447.91" width="5.57" height="9.05" fill="#f1aa90"/><rect x="452.48" width="5.57" height="9.05" fill="#f1a88f"/><rect x="457.05" width="5.57" height="9.05" fill="#f2b39a"/><rect x="461.63" width="5.57" height="9.05" fill="#f1ab92"/><rect x="466.20" width="5.57" height="9.05" fill="#f0987e"/><rect x="470.77" width="5.57" height="9.05" fill="#ef896f"/><rect x="475.35" width="5.57" height="9.05" fill="#ef8c72"/><rect x="479.92" width="5.57" height="9.05" fill="#f09a80"/><rect x="484.49" width="5.57" height="9.05" fill="#f1a78e"/><rect x="489.07" width="5.57" height="9.05" fill="#f1a38a"/><rect x="493.64" width="5.57" height="9.05" fill="#f09b82"/><rect x="498.21" width="5.57" height="9.05" fill="#f1a78e"/><rect x="502.79" width="5.57" height="9.05" fill="#f1af96"/><rect x="507.36" width="5.57" height="9.05" fill="#f1ab92"/><rect x="511.93" width="5.57" height="9.05" fill="#f1a188"/><rect x="516.51" width="5.57" height="9.05" fill="#f1a187"/><rect x="521.08" width="5.57" height="9.05" fill="#f1ae95"/><rect x="525.65" width="5.57" height="9.05" fill="#f1af96"/><rect x="530.23" width="5.57" height="9.05" fill="#f1a78e"/><rect x="534.80" width="5.57" height="9.05" fill="#f0987e"/><rect x="539.37" width="5.57" height="9.05" fill="#f1a48b"/><rect x="543.95" width="5.57" height="9.05" fill="#f2b9a2"/><rect x="548.52" width="5.57" height="9.05" fill="#f1ae95"/><rect x="553.09" width="5.57" height="9.05" fill="#ef8d73"/><rect x="557.67" width="5.57" height="9.05" fill="#ee7d64"/><rect x="562.24" width="5.57" height="9.05" fill="#ef8d73"/><rect x="566.81" width="5.57" height="9.05" fill="#f1a38a"/><rect x="571.39" width="5.57" height="9.05" fill="#f09b82"/><rect x="575.96" width="5.57" height="9.05" fill="#ef8e75"/><rect x="580.53" width="5.57" height="9.05" fill="#f19f85"/><rect x="585.11" width="5.57" height="9.05" fill="#f1ab92"/><rect x="589.68" width="5.57" height="9.05" fill="#f1b199"/><rect x="594.25" width="5.57" height="9.05" fill="#f1aa90"/><rect x="598.83" width="14.72" height="9.05" fill="#f09278"/></g>
<g transform="translate(0 111.082)"><rect x="45.45" width="14.72" height="9.05" fill="#f4c9b7"/><rect x="59.17" width="10.15" height="9.05" fill="#f3c3af"/><rect x="68.32" width="5.57" height="9.05" fill="#f5cebd"/><rect x="72.89" width="5.57" height="9.05" fill="#f6d6c8"/><rect x="77.47" width="5.57" height="9.05" fill="#f6d6c6"/><rect x="82.04" width="5.57" height="9.05" fill="#f5cfbf"/><rect x="86.61" width="5.57" height="9.05" fill="#f6d4c5"/><rect x="91.19" width="5.57" height="9.05" fill="#f6d8c9"/><rect x="95.76" width="5.57" height="9.05" fill="#f6d4c5"/><rect x="100.33" width="5.57" height="9.05" fill="#f4ccba"/><rect x="104.91" width="5.57" height="9.05" fill="#f3c3af"/><rect x="109.48" width="5.57" height="9.05" fill="#f3c6b2"/><rect x="114.05" width="5.57" height="9.05" fill="#f5d2c2"/><rect x="118.63" width="5.57" height="9.05" fill="#f6d5c6"/><rect x="123.20" width="10.15" height="9.05" fill="#f6d3c3"/><rect x="132.35" width="5.57" height="9.05" fill="#f5cdbb"/><rect x="136.92" width="5.57" height="9.05" fill="#f3c6b2"/><rect x="141.49" width="5.57" height="9.05" fill="#f4c6b2"/><rect x="146.07" width="5.57" height="9.05" fill="#f1ab92"/><rect x="150.64" width="5.57" height="9.05" fill="#f1ac93"/><rect x="155.21" width="5.57" height="9.05" fill="#f1b097"/><rect x="159.79" width="5.57" height="9.05" fill="#f3c3af"/><rect x="164.36" width="5.57" height="9.05" fill="#f3c2ad"/><rect x="168.93" width="5.57" height="9.05" fill="#f3c1ac"/><rect x="173.51" width="5.57" height="9.05" fill="#f5cdbb"/><rect x="178.08" width="5.57" height="9.05" fill="#f5d1c0"/><rect x="182.65" width="5.57" height="9.05" fill="#f5cebd"/><rect x="187.23" width="5.57" height="9.05" fill="#f5cdbb"/><rect x="191.80" width="5.57" height="9.05" fill="#f4c8b5"/><rect x="196.37" width="5.57" height="9.05" fill="#f3c0aa"/><rect x="200.95" width="5.57" height="9.05" fill="#f2b59d"/><rect x="205.52" width="5.57" height="9.05" fill="#f1a58b"/><rect x="210.09" width="5.57" height="9.05" fill="#f1a78e"/><rect x="214.67" width="5.57" height="9.05" fill="#f1b199"/><rect x="219.24" width="5.57" height="9.05" fill="#f2b49c"/><rect x="223.81" width="5.57" height="9.05" fill="#f3c5b0"/><rect x="228.39" width="5.57" height="9.05" fill="#f6d3c3"/><rect x="232.96" width="5.57" height="9.05" fill="#f5cfbf"/><rect x="237.53" width="5.57" height="9.05" fill="#f4cbb8"/><rect x="242.11" width="5.57" height="9.05" fill="#f5d1c0"/><rect x="246.68" width="5.57" height="9.05" fill="#f5cfbf"/><rect x="251.25" width="5.57" height="9.05" fill="#f2bca6"/><rect x="255.83" width="5.57" height="9.05" fill="#f09c83"/><rect x="260.40" width="5.57" height="9.05" fill="#ef8e75"/><rect x="264.97" width="5.57" height="9.05" fill="#ef9177"/><rect x="269.55" width="5.57" height="9.05" fill="#f09a80"/><rect x="274.12" width="5.57" height="9.05" fill="#f0987e"/><rect x="278.69" width="5.57" height="9.05" fill="#f09278"/><rect x="283.27" width="5.57" height="9.05" fill="#ef8d73"/><rect x="287.84" width="5.57" height="9.05" fill="#f1a086"/><rect x="292.41" width="5.57" height="9.05" fill="#f2b7a0"/><rect x="296.99" width="5.57" height="9.05" fill="#f4c9b7"/><rect x="301.56" width="5.57" height="9.05" fill="#f5cebd"/><rect x="306.13" width="5.57" height="9.05" fill="#f3c2ad"/><rect x="310.71" width="5.57" height="9.05" fill="#f2b59d"/><rect x="315.28" width="5.57" height="9.05" fill="#f1b097"/><rect x="319.85" width="5.57" height="9.05" fill="#f3bfa9"/><rect x="324.43" width="5.57" height="9.05" fill="#f3c3af"/><rect x="329.00" width="5.57" height="9.05" fill="#f2b69f"/><rect x="333.57" width="5.57" height="9.05" fill="#f1aa90"/><rect x="338.15" width="5.57" height="9.05" fill="#ef8d73"/><rect x="342.72" width="5.57" height="9.05" fill="#ee7960"/><rect x="347.29" width="5.57" height="9.05" fill="#ef846a"/><rect x="351.87" width="5.57" height="9.05" fill="#f0957c"/><rect x="356.44" width="5.57" height="9.05" fill="#f0987e"/><rect x="361.01" width="5.57" height="9.05" fill="#ef846b"/><rect x="365.59" width="5.57" height="9.05" fill="#ef886e"/><rect x="370.16" width="5.57" height="9.05" fill="#f09b82"/><rect x="374.73" width="5.57" height="9.05" fill="#f1a88f"/><rect x="379.31" width="5.57" height="9.05" fill="#f1b199"/><rect x="383.88" width="5.57" height="9.05" fill="#f2b49c"/><rect x="388.45" width="5.57" height="9.05" fill="#f1ae95"/><rect x="393.03" width="5.57" height="9.05" fill="#f1a68c"/><rect x="397.60" width="5.57" height="9.05" fill="#f09c83"/><rect x="402.17" width="5.57" height="9.05" fill="#f09177"/><rect x="406.75" width="5.57" height="9.05" fill="#ef9076"/><rect x="411.32" width="5.57" height="9.05" fill="#f09379"/><rect x="415.89" width="10.15" height="9.05" fill="#ef8d73"/><rect x="425.04" width="5.57" height="9.05" fill="#f09e84"/><rect x="429.61" width="5.57" height="9.05" fill="#f1ab92"/><rect x="434.19" width="5.57" height="9.05" fill="#f3bda7"/><rect x="438.76" width="5.57" height="9.05" fill="#f2bca6"/><rect x="443.33" width="5.57" height="9.05" fill="#f1ac93"/><rect x="447.91" width="5.57" height="9.05" fill="#f0957c"/><rect x="452.48" width="5.57" height="9.05" fill="#ef674f"/><rect x="457.05" width="5.57" height="9.05" fill="#ee755d"/><rect x="461.63" width="5.57" height="9.05" fill="#f1ab92"/><rect x="466.20" width="5.57" height="9.05" fill="#f2b59d"/><rect x="470.77" width="5.57" height="9.05" fill="#f09c83"/><rect x="475.35" width="5.57" height="9.05" fill="#ef8269"/><rect x="479.92" width="5.57" height="9.05" fill="#ef866c"/><rect x="484.49" width="5.57" height="9.05" fill="#f1a38a"/><rect x="489.07" width="5.57" height="9.05" fill="#f2bba5"/><rect x="493.64" width="5.57" height="9.05" fill="#f4c7b3"/><rect x="498.21" width="5.57" height="9.05" fill="#f4ccba"/><rect x="502.79" width="5.57" height="9.05" fill="#f3c0aa"/><rect x="507.36" width="5.57" height="9.05" fill="#f1a187"/><rect x="511.93" width="5.57" height="9.05" fill="#f09b82"/><rect x="516.51" width="5.57" height="9.05" fill="#f1a88f"/><rect x="521.08" width="5.57" height="9.05" fill="#f09e84"/><rect x="525.65" width="5.57" height="9.05" fill="#ef8b71"/><rect x="530.23" width="5.57" height="9.05" fill="#f09b82"/><rect x="534.80" width="5.57" height="9.05" fill="#f1a78e"/><rect x="539.37" width="5.57" height="9.05" fill="#f1a188"/><rect x="543.95" width="5.57" height="9.05" fill="#f19f85"/><rect x="548.52" width="5.57" height="9.05" fill="#f1aa90"/><rect x="553.09" width="5.57" height="9.05" fill="#f1b199"/><rect x="557.67" width="5.57" height="9.05" fill="#f1ae95"/><rect x="562.24" width="5.57" height="9.05" fill="#f1a88f"/><rect x="566.81" width="5.57" height="9.05" fill="#f1a289"/><rect x="571.39" width="5.57" height="9.05" fill="#ef9076"/><rect x="575.96" width="5.57" height="9.05" fill="#ef876d"/><rect x="580.53" width="5.57" height="9.05" fill="#ee8067"/><rect x="585.11" width="5.57" height="9.05" fill="#ed735a"/><rect x="589.68" width="5.57" height="9.05" fill="#ee745b"/><rect x="594.25" width="5.57" height="9.05" fill="#ef8269"/><rect x="598.83" width="14.72" height="9.05" fill="#f0967d"/></g>
<g transform="translate(0 119.135)"><rect x="45.45" width="14.72" height="9.05" fill="#f4c8b5"/><rect x="59.17" width="5.57" height="9.05" fill="#f5d2c2"/><rect x="63.75" width="5.57" height="9.05" fill="#f5cfbf"/><rect x="68.32" width="5.57" height="9.05" fill="#f3c6b2"/><rect x="72.89" width="5.57" height="9.05" fill="#f2baa3"/><rect x="77.47" width="5.57" height="9.05" fill="#f2b7a0"/><rect x="82.04" width="5.57" height="9.05" fill="#f4c6b2"/><rect x="86.61" width="5.57" height="9.05" fill="#f5d1c0"/><rect x="91.19" width="5.57" height="9.05" fill="#f4c9b7"/><rect x="95.76" width="5.57" height="9.05" fill="#f3c0aa"/><rect x="100.33" width="5.57" height="9.05" fill="#f3c6b2"/><rect x="104.91" width="5.57" height="9.05" fill="#f4c8b5"/><rect x="109.48" width="5.57" height="9.05" fill="#f3c0aa"/><rect x="114.05" width="5.57" height="9.05" fill="#f2bba5"/><rect x="118.63" width="5.57" height="9.05" fill="#f4c8b5"/><rect x="123.20" width="5.57" height="9.05" fill="#f5d3c3"/><rect x="127.77" width="5.57" height="9.05" fill="#f5cfbf"/><rect x="132.35" width="5.57" height="9.05" fill="#f5d1c0"/><rect x="136.92" width="5.57" height="9.05" fill="#f6d3c3"/><rect x="141.49" width="5.57" height="9.05" fill="#f5cdbb"/><rect x="146.07" width="5.57" height="9.05" fill="#f4cbb8"/><rect x="150.64" width="5.57" height="9.05" fill="#f4c7b4"/><rect x="155.21" width="5.57" height="9.05" fill="#f3c5b0"/><rect x="159.79" width="5.57" height="9.05" fill="#f3c0aa"/><rect x="164.36" width="5.57" height="9.05" fill="#f2bca6"/><rect x="168.93" width="5.57" height="9.05" fill="#f4c8b5"/><rect x="173.51" width="5.57" height="9.05" fill="#f5cebd"/><rect x="178.08" width="5.57" height="9.05" fill="#f3c5b0"/><rect x="182.65" width="5.57" height="9.05" fill="#f3bda7"/><rect x="187.23" width="5.57" height="9.05" fill="#f3c0aa"/><rect x="191.80" width="5.57" height="9.05" fill="#f3bda7"/><rect x="196.37" width="5.57" height="9.05" fill="#f1a78e"/><rect x="200.95" width="5.57" height="9.05" fill="#ef896f"/><rect x="205.52" width="5.57" height="9.05" fill="#ee7b62"/><rect x="210.09" width="5.57" height="9.05" fill="#ef8d73"/><rect x="214.67" width="5.57" height="9.05" fill="#f09d84"/><rect x="219.24" width="5.57" height="9.05" fill="#f1af96"/><rect x="223.81" width="5.57" height="9.05" fill="#f3c1ac"/><rect x="228.39" width="5.57" height="9.05" fill="#f3c0aa"/><rect x="232.96" width="5.57" height="9.05" fill="#f3bfa9"/><rect x="237.53" width="5.57" height="9.05" fill="#f4cbb8"/><rect x="242.11" width="5.57" height="9.05" fill="#f5d1c0"/><rect x="246.68" width="5.57" height="9.05" fill="#f4c7b4"/><rect x="251.25" width="5.57" height="9.05" fill="#f2b9a2"/><rect x="255.83" width="5.57" height="9.05" fill="#f2b59d"/><rect x="260.40" width="10.15" height="9.05" fill="#f2b69f"/><rect x="269.55" width="5.57" height="9.05" fill="#f2b7a0"/><rect x="274.12" width="5.57" height="9.05" fill="#f3c2ad"/><rect x="278.69" width="5.57" height="9.05" fill="#f4cbb8"/><rect x="283.27" width="5.57" height="9.05" fill="#f3bda7"/><rect x="287.84" width="5.57" height="9.05" fill="#f2bba5"/><rect x="292.41" width="5.57" height="9.05" fill="#f4c7b4"/><rect x="296.99" width="5.57" height="9.05" fill="#f3c3af"/><rect x="301.56" width="5.57" height="9.05" fill="#f3c6b2"/><rect x="306.13" width="5.57" height="9.05" fill="#f5cebd"/><rect x="310.71" width="5.57" height="9.05" fill="#f6d4c5"/><rect x="315.28" width="5.57" height="9.05" fill="#f5d1c0"/><rect x="319.85" width="5.57" height="9.05" fill="#f3bfa9"/><rect x="324.43" width="10.15" height="9.05" fill="#f1a68c"/><rect x="333.57" width="10.15" height="9.05" fill="#f0957c"/><rect x="342.72" width="5.57" height="9.05" fill="#f2b69f"/><rect x="347.29" width="5.57" height="9.05" fill="#f3c6b2"/><rect x="351.87" width="5.57" height="9.05" fill="#f3c3af"/><rect x="356.44" width="10.15" height="9.05" fill="#f2bba5"/><rect x="365.59" width="5.57" height="9.05" fill="#f3c5b0"/><rect x="370.16" width="5.57" height="9.05" fill="#f2bba5"/><rect x="374.73" width="5.57" height="9.05" fill="#f09b82"/><rect x="379.31" width="5.57" height="9.05" fill="#ef876d"/><rect x="383.88" width="5.57" height="9.05" fill="#ef8d73"/><rect x="388.45" width="5.57" height="9.05" fill="#f09e84"/><rect x="393.03" width="5.57" height="9.05" fill="#f1af96"/><rect x="397.60" width="5.57" height="9.05" fill="#f2b69f"/><rect x="402.17" width="5.57" height="9.05" fill="#f2bca6"/><rect x="406.75" width="5.57" height="9.05" fill="#f2b9a2"/><rect x="411.32" width="5.57" height="9.05" fill="#f1af96"/><rect x="415.89" width="5.57" height="9.05" fill="#f1a78e"/><rect x="420.47" width="5.57" height="9.05" fill="#f1af96"/><rect x="425.04" width="5.57" height="9.05" fill="#f2b7a0"/><rect x="429.61" width="5.57" height="9.05" fill="#f2b39a"/><rect x="434.19" width="5.57" height="9.05" fill="#f19f85"/><rect x="438.76" width="5.57" height="9.05" fill="#f09e84"/><rect x="443.33" width="5.57" height="9.05" fill="#f1b199"/><rect x="447.91" width="5.57" height="9.05" fill="#f3bda7"/><rect x="452.48" width="5.57" height="9.05" fill="#f3c0aa"/><rect x="457.05" width="5.57" height="9.05" fill="#f2b7a0"/><rect x="461.63" width="5.57" height="9.05" fill="#f3c2ad"/><rect x="466.20" width="5.57" height="9.05" fill="#f6d3c3"/><rect x="470.77" width="5.57" height="9.05" fill="#f5cfbf"/><rect x="475.35" width="5.57" height="9.05" fill="#f5d1c0"/><rect x="479.92" width="5.57" height="9.05" fill="#f6d6c6"/><rect x="484.49" width="5.57" height="9.05" fill="#f4cbb8"/><rect x="489.07" width="5.57" height="9.05" fill="#f3c0aa"/><rect x="493.64" width="5.57" height="9.05" fill="#f3c5b0"/><rect x="498.21" width="5.57" height="9.05" fill="#f3c3af"/><rect x="502.79" width="5.57" height="9.05" fill="#f2b69f"/><rect x="507.36" width="5.57" height="9.05" fill="#f2bba5"/><rect x="511.93" width="5.57" height="9.05" fill="#f3bda7"/><rect x="516.51" width="5.57" height="9.05" fill="#f1af96"/><rect x="521.08" width="5.57" height="9.05" fill="#f1ab92"/><rect x="525.65" width="5.57" height="9.05" fill="#f1a88f"/><rect x="530.23" width="10.15" height="9.05" fill="#f1aa90"/><rect x="539.37" width="5.57" height="9.05" fill="#f09379"/><rect x="543.95" width="5.57" height="9.05" fill="#f0997f"/><rect x="548.52" width="5.57" height="9.05" fill="#f1a188"/><rect x="553.09" width="5.57" height="9.05" fill="#f1a78e"/><rect x="557.67" width="5.57" height="9.05" fill="#f2b7a0"/><rect x="562.24" width="5.57" height="9.05" fill="#f2b9a2"/><rect x="566.81" width="5.57" height="9.05" fill="#f2b39a"/><rect x="571.39" width="5.57" height="9.05" fill="#f2b69f"/><rect x="575.96" width="5.57" height="9.05" fill="#f2baa3"/><rect x="580.53" width="10.15" height="9.05" fill="#f3c3af"/><rect x="589.68" width="5.57" height="9.05" fill="#f2b9a2"/><rect x="594.25" width="5.57" height="9.05" fill="#ef8e75"/><rect x="598.83" width="14.72" height="9.05" fill="#ef674f"/></g>
<g transform="translate(0 127.188)"><rect x="45.45" width="14.72" height="9.05" fill="#f6d4c5"/><rect x="59.17" width="5.57" height="9.05" fill="#f5cebd"/><rect x="63.75" width="5.57" height="9.05" fill="#f6d4c5"/><rect x="68.32" width="5.57" height="9.05" fill="#f7d9cb"/><rect x="72.89" width="5.57" height="9.05" fill="#f6d7c8"/><rect x="77.47" width="5.57" height="9.05" fill="#f6d5c6"/><rect x="82.04" width="5.57" height="9.05" fill="#f7d8ca"/><rect x="86.61" width="5.57" height="9.05" fill="#f8ddd1"/><rect x="91.19" width="5.57" height="9.05" fill="#f7ddd0"/><rect x="95.76" width="5.57" height="9.05" fill="#f7dacc"/><rect x="100.33" width="5.57" height="9.05" fill="#f7dbce"/><rect x="104.91" width="5.57" height="9.05" fill="#f7d9cb"/><rect x="109.48" width="5.57" height="9.05" fill="#f6d4c5"/><rect x="114.05" width="10.15" height="9.05" fill="#f6d3c3"/><rect x="123.20" width="5.57" height="9.05" fill="#f5d2c2"/><rect x="127.77" width="5.57" height="9.05" fill="#f6d4c5"/><rect x="132.35" width="5.57" height="9.05" fill="#f6d6c8"/><rect x="136.92" width="5.57" height="9.05" fill="#f5cebd"/><rect x="141.49" width="10.15" height="9.05" fill="#f2b9a2"/><rect x="150.64" width="5.57" height="9.05" fill="#f3c5b0"/><rect x="155.21" width="5.57" height="9.05" fill="#f5cfbf"/><rect x="159.79" width="10.15" height="9.05" fill="#f6d7c8"/><rect x="168.93" width="10.15" height="9.05" fill="#f6d4c5"/><rect x="178.08" width="5.57" height="9.05" fill="#f7dacd"/><rect x="182.65" width="5.57" height="9.05" fill="#f8ded2"/><rect x="187.23" width="5.57" height="9.05" fill="#f6d8c9"/><rect x="191.80" width="5.57" height="9.05" fill="#f2bca6"/><rect x="196.37" width="5.57" height="9.05" fill="#f1a187"/><rect x="200.95" width="5.57" height="9.05" fill="#f2b59d"/><rect x="205.52" width="5.57" height="9.05" fill="#f4c9b7"/><rect x="210.09" width="5.57" height="9.05" fill="#f5cfbf"/><rect x="214.67" width="5.57" height="9.05" fill="#f5d1c0"/><rect x="219.24" width="5.57" height="9.05" fill="#f5d2c2"/><rect x="223.81" width="5.57" height="9.05" fill="#f6d6c8"/><rect x="228.39" width="5.57" height="9.05" fill="#f6d8c9"/><rect x="232.96" width="5.57" height="9.05" fill="#f5cebd"/><rect x="237.53" width="10.15" height="9.05" fill="#f4c8b5"/><rect x="246.68" width="5.57" height="9.05" fill="#f2bca6"/><rect x="251.25" width="5.57" height="9.05" fill="#f1b097"/><rect x="255.83" width="5.57" height="9.05" fill="#f1af96"/><rect x="260.40" width="5.57" height="9.05" fill="#f1a88f"/><rect x="264.97" width="5.57" height="9.05" fill="#f1a289"/><rect x="269.55" width="5.57" height="9.05" fill="#f2b69f"/><rect x="274.12" width="5.57" height="9.05" fill="#f3bda7"/><rect x="278.69" width="5.57" height="9.05" fill="#f3c6b2"/><rect x="283.27" width="5.57" height="9.05" fill="#f4ccba"/><rect x="287.84" width="5.57" height="9.05" fill="#f3c1ac"/><rect x="292.41" width="5.57" height="9.05" fill="#f2bba5"/><rect x="296.99" width="5.57" height="9.05" fill="#f3c5b0"/><rect x="301.56" width="10.15" height="9.05" fill="#f3bfa9"/><rect x="310.71" width="5.57" height="9.05" fill="#f3c2ad"/><rect x="315.28" width="5.57" height="9.05" fill="#f3c0aa"/><rect x="319.85" width="5.57" height="9.05" fill="#f4c9b7"/><rect x="324.43" width="5.57" height="9.05" fill="#f5cdbb"/><rect x="329.00" width="5.57" height="9.05" fill="#f3c3af"/><rect x="333.57" width="5.57" height="9.05" fill="#f2b49c"/><rect x="338.15" width="5.57" height="9.05" fill="#f1ac93"/><rect x="342.72" width="5.57" height="9.05" fill="#f1a68c"/><rect x="347.29" width="5.57" height="9.05" fill="#f09a80"/><rect x="351.87" width="5.57" height="9.05" fill="#f1a289"/><rect x="356.44" width="5.57" height="9.05" fill="#f2b7a0"/><rect x="361.01" width="5.57" height="9.05" fill="#f3bda7"/><rect x="365.59" width="5.57" height="9.05" fill="#f3c5b0"/><rect x="370.16" width="5.57" height="9.05" fill="#f6d4c5"/><rect x="374.73" width="5.57" height="9.05" fill="#f7d8ca"/><rect x="379.31" width="5.57" height="9.05" fill="#f5d1c0"/><rect x="383.88" width="5.57" height="9.05" fill="#f3c2ad"/><rect x="388.45" width="10.15" height="9.05" fill="#f3c1ac"/><rect x="397.60" width="5.57" height="9.05" fill="#f4c6b2"/><rect x="402.17" width="5.57" height="9.05" fill="#f4ccba"/><rect x="406.75" width="5.57" height="9.05" fill="#f4cbb8"/><rect x="411.32" width="5.57" height="9.05" fill="#f3c5b0"/><rect x="415.89" width="5.57" height="9.05" fill="#f2b59d"/><rect x="420.47" width="5.57" height="9.05" fill="#f1ae95"/><rect x="425.04" width="5.57" height="9.05" fill="#f1b097"/><rect x="429.61" width="5.57" height="9.05" fill="#f1ae95"/><rect x="434.19" width="5.57" height="9.05" fill="#f1af96"/><rect x="438.76" width="5.57" height="9.05" fill="#f1b097"/><rect x="443.33" width="5.57" height="9.05" fill="#f2b59d"/><rect x="447.91" width="5.57" height="9.05" fill="#f3c1ac"/><rect x="452.48" width="5.57" height="9.05" fill="#f3c3af"/><rect x="457.05" width="5.57" height="9.05" fill="#f2b39a"/><rect x="461.63" width="5.57" height="9.05" fill="#f09c83"/><rect x="466.20" width="5.57" height="9.05" fill="#f1a289"/><rect x="470.77" width="5.57" height="9.05" fill="#f1af96"/><rect x="475.35" width="10.15" height="9.05" fill="#f1b097"/><rect x="484.49" width="5.57" height="9.05" fill="#f1af96"/><rect x="489.07" width="5.57" height="9.05" fill="#f1ac93"/><rect x="493.64" width="5.57" height="9.05" fill="#f0997f"/><rect x="498.21" width="5.57" height="9.05" fill="#ee7f66"/><rect x="502.79" width="5.57" height="9.05" fill="#ee7b62"/><rect x="507.36" width="5.57" height="9.05" fill="#f0947b"/><rect x="511.93" width="5.57" height="9.05" fill="#f2baa3"/><rect x="516.51" width="5.57" height="9.05" fill="#f4c8b5"/><rect x="521.08" width="5.57" height="9.05" fill="#f2bca6"/><rect x="525.65" width="5.57" height="9.05" fill="#f2b39a"/><rect x="530.23" width="5.57" height="9.05" fill="#f2b49c"/><rect x="534.80" width="5.57" height="9.05" fill="#f2b7a0"/><rect x="539.37" width="5.57" height="9.05" fill="#f2bba5"/><rect x="543.95" width="5.57" height="9.05" fill="#f2b49c"/><rect x="548.52" width="5.57" height="9.05" fill="#f2bba5"/><rect x="553.09" width="5.57" height="9.05" fill="#f4c8b5"/><rect x="557.67" width="5.57" height="9.05" fill="#f3c6b2"/><rect x="562.24" width="5.57" height="9.05" fill="#f3c1ac"/><rect x="566.81" width="5.57" height="9.05" fill="#f3c2ad"/><rect x="571.39" width="5.57" height="9.05" fill="#f4c8b5"/><rect x="575.96" width="5.57" height="9.05" fill="#f4c7b3"/><rect x="580.53" width="5.57" height="9.05" fill="#f5cebd"/><rect x="585.11" width="5.57" height="9.05" fill="#f7dacd"/><rect x="589.68" width="5.57" height="9.05" fill="#f7dacc"/><rect x="594.25" width="5.57" height="9.05" fill="#f5cfbf"/><rect x="598.83" width="14.72" height="9.05" fill="#f3c6b2"/></g>
<g transform="translate(0 135.241)"><rect x="45.45" width="14.72" height="9.05" fill="#f7d9cb"/><rect x="59.17" width="5.57" height="9.05" fill="#f6d8c9"/><rect x="63.75" width="10.15" height="9.05" fill="#f6d7c8"/><rect x="72.89" width="5.57" height="9.05" fill="#f6d6c8"/><rect x="77.47" width="5.57" height="9.05" fill="#f7d8ca"/><rect x="82.04" width="5.57" height="9.05" fill="#f7ddd0"/><rect x="86.61" width="5.57" height="9.05" fill="#f8e0d4"/><rect x="91.19" width="5.57" height="9.05" fill="#f7ddd0"/><rect x="95.76" width="5.57" height="9.05" fill="#f6d4c5"/><rect x="100.33" width="5.57" height="9.05" fill="#f6d6c7"/><rect x="104.91" width="5.57" height="9.05" fill="#f7dacc"/><rect x="109.48" width="5.57" height="9.05" fill="#f7dacd"/><rect x="114.05" width="5.57" height="9.05" fill="#f7dacc"/><rect x="118.63" width="5.57" height="9.05" fill="#f6d8c9"/><rect x="123.20" width="5.57" height="9.05" fill="#f6d3c3"/><rect x="127.77" width="5.57" height="9.05" fill="#f5d3c3"/><rect x="132.35" width="5.57" height="9.05" fill="#f6d7c8"/><rect x="136.92" width="5.57" height="9.05" fill="#f7d9cb"/><rect x="141.49" width="5.57" height="9.05" fill="#f6d8c9"/><rect x="146.07" width="5.57" height="9.05" fill="#f6d3c3"/><rect x="150.64" width="5.57" height="9.05" fill="#f6d6c6"/><rect x="155.21" width="5.57" height="9.05" fill="#f7d9cb"/><rect x="159.79" width="5.57" height="9.05" fill="#f7dbce"/><rect x="164.36" width="5.57" height="9.05" fill="#f6d8c9"/><rect x="168.93" width="5.57" height="9.05" fill="#f5d2c2"/><rect x="173.51" width="5.57" height="9.05" fill="#f6d8c9"/><rect x="178.08" width="5.57" height="9.05" fill="#f7ddd0"/><rect x="182.65" width="5.57" height="9.05" fill="#f7dacd"/><rect x="187.23" width="5.57" height="9.05" fill="#f5cebd"/><rect x="191.80" width="5.57" height="9.05" fill="#f3c6b2"/><rect x="196.37" width="5.57" height="9.05" fill="#f3c1ac"/><rect x="200.95" width="5.57" height="9.05" fill="#f2bca6"/><rect x="205.52" width="5.57" height="9.05" fill="#f2b9a2"/><rect x="210.09" width="5.57" height="9.05" fill="#f3c0aa"/><rect x="214.67" width="5.57" height="9.05" fill="#f4c7b4"/><rect x="219.24" width="14.72" height="9.05" fill="#f4c9b7"/><rect x="232.96" width="5.57" height="9.05" fill="#f5d3c3"/><rect x="237.53" width="5.57" height="9.05" fill="#f6d4c5"/><rect x="242.11" width="5.57" height="9.05" fill="#f5cdbb"/><rect x="246.68" width="5.57" height="9.05" fill="#f5d2c2"/><rect x="251.25" width="10.15" height="9.05" fill="#f6d4c5"/><rect x="260.40" width="5.57" height="9.05" fill="#f6d6c6"/><rect x="264.97" width="5.57" height="9.05" fill="#f6d5c6"/><rect x="269.55" width="5.57" height="9.05" fill="#f6d4c5"/><rect x="274.12" width="10.15" height="9.05" fill="#f6d7c8"/><rect x="283.27" width="5.57" height="9.05" fill="#f4ccba"/><rect x="287.84" width="5.57" height="9.05" fill="#f3c1ac"/><rect x="292.41" width="5.57" height="9.05" fill="#f4c6b2"/><rect x="296.99" width="5.57" height="9.05" fill="#f5cfbf"/><rect x="301.56" width="5.57" height="9.05" fill="#f6d3c3"/><rect x="306.13" width="5.57" height="9.05" fill="#f5cebd"/><rect x="310.71" width="10.15" height="9.05" fill="#f4c9b7"/><rect x="319.85" width="5.57" height="9.05" fill="#f3c6b2"/><rect x="324.43" width="5.57" height="9.05" fill="#f4c7b3"/><rect x="329.00" width="5.57" height="9.05" fill="#f4ccba"/><rect x="333.57" width="10.15" height="9.05" fill="#f5d2c2"/><rect x="342.72" width="5.57" height="9.05" fill="#f5cdbb"/><rect x="347.29" width="5.57" height="9.05" fill="#f4c9b7"/><rect x="351.87" width="5.57" height="9.05" fill="#f5cebd"/><rect x="356.44" width="5.57" height="9.05" fill="#f6d5c6"/><rect x="361.01" width="5.57" height="9.05" fill="#f6d4c5"/><rect x="365.59" width="5.57" height="9.05" fill="#f6d3c3"/><rect x="370.16" width="5.57" height="9.05" fill="#f5cebd"/><rect x="374.73" width="5.57" height="9.05" fill="#f2baa3"/><rect x="379.31" width="5.57" height="9.05" fill="#f1ae95"/><rect x="383.88" width="5.57" height="9.05" fill="#f2b69f"/><rect x="388.45" width="5.57" height="9.05" fill="#f2b59d"/><rect x="393.03" width="5.57" height="9.05" fill="#f1b097"/><rect x="397.60" width="5.57" height="9.05" fill="#f1a88f"/><rect x="402.17" width="5.57" height="9.05" fill="#f1a188"/><rect x="406.75" width="5.57" height="9.05" fill="#f2b69f"/><rect x="411.32" width="5.57" height="9.05" fill="#f4c8b5"/><rect x="415.89" width="5.57" height="9.05" fill="#f3c1ac"/><rect x="420.47" width="5.57" height="9.05" fill="#f3bfa9"/><rect x="425.04" width="5.57" height="9.05" fill="#f3c1ac"/><rect x="429.61" width="5.57" height="9.05" fill="#f3c0aa"/><rect x="434.19" width="5.57" height="9.05" fill="#f3bda7"/><rect x="438.76" width="5.57" height="9.05" fill="#f2b9a2"/><rect x="443.33" width="5.57" height="9.05" fill="#f2b59d"/><rect x="447.91" width="5.57" height="9.05" fill="#f3bda7"/><rect x="452.48" width="5.57" height="9.05" fill="#f4cbb8"/><rect x="457.05" width="5.57" height="9.05" fill="#f5d2c2"/><rect x="461.63" width="5.57" height="9.05" fill="#f4ccba"/><rect x="466.20" width="5.57" height="9.05" fill="#f3bfa9"/><rect x="470.77" width="5.57" height="9.05" fill="#f1ae95"/><rect x="475.35" width="5.57" height="9.05" fill="#f2b39a"/><rect x="479.92" width="5.57" height="9.05" fill="#f3c5b0"/><rect x="484.49" width="5.57" height="9.05" fill="#f4c6b2"/><rect x="489.07" width="5.57" height="9.05" fill="#f3c2ad"/><rect x="493.64" width="5.57" height="9.05" fill="#f3c1ac"/><rect x="498.21" width="5.57" height="9.05" fill="#f3c3af"/><rect x="502.79" width="5.57" height="9.05" fill="#f4c7b4"/><rect x="507.36" width="5.57" height="9.05" fill="#f4ccba"/><rect x="511.93" width="5.57" height="9.05" fill="#f4cbb8"/><rect x="516.51" width="5.57" height="9.05" fill="#f3c0aa"/><rect x="521.08" width="5.57" height="9.05" fill="#f1ac93"/><rect x="525.65" width="5.57" height="9.05" fill="#f1a88f"/><rect x="530.23" width="5.57" height="9.05" fill="#f3c1ac"/><rect x="534.80" width="5.57" height="9.05" fill="#f5cebd"/><rect x="539.37" width="5.57" height="9.05" fill="#f5cfbf"/><rect x="543.95" width="5.57" height="9.05" fill="#f4ccba"/><rect x="548.52" width="5.57" height="9.05" fill="#f4c8b5"/><rect x="553.09" width="5.57" height="9.05" fill="#f4ccba"/><rect x="557.67" width="5.57" height="9.05" fill="#f5d1c0"/><rect x="562.24" width="5.57" height="9.05" fill="#f6d3c3"/><rect x="566.81" width="5.57" height="9.05" fill="#f5cdbb"/><rect x="571.39" width="5.57" height="9.05" fill="#f2bba5"/><rect x="575.96" width="5.57" height="9.05" fill="#f2b49c"/><rect x="580.53" width="5.57" height="9.05" fill="#f2bca6"/><rect x="585.11" width="5.57" height="9.05" fill="#f3c6b2"/><rect x="589.68" width="5.57" height="9.05" fill="#f5d2c2"/><rect x="594.25" width="5.57" height="9.05" fill="#f6d4c5"/><rect x="598.83" width="14.72" height="9.05" fill="#f5cebd"/></g>
<g transform="translate(0 143.294)"><rect x="45.45" width="14.72" height="9.05" fill="#f3c6b2"/><rect x="59.17" width="5.57" height="9.05" fill="#f5cebd"/><rect x="63.75" width="5.57" height="9.05" fill="#f5d1c0"/><rect x="68.32" width="5.57" height="9.05" fill="#f5cdbb"/><rect x="72.89" width="5.57" height="9.05" fill="#f3c3af"/><rect x="77.47" width="5.57" height="9.05" fill="#f3c5b0"/><rect x="82.04" width="5.57" height="9.05" fill="#f5cdbb"/><rect x="86.61" width="14.72" height="9.05" fill="#f5cfbf"/><rect x="100.33" width="5.57" height="9.05" fill="#f5cebd"/><rect x="104.91" width="10.15" height="9.05" fill="#f4c7b4"/><rect x="114.05" width="5.57" height="9.05" fill="#f4ccba"/><rect x="118.63" width="5.57" height="9.05" fill="#f5cdbb"/><rect x="123.20" width="5.57" height="9.05" fill="#f5cebd"/><rect x="127.77" width="5.57" height="9.05" fill="#f3c5b0"/><rect x="132.35" width="5.57" height="9.05" fill="#f2baa3"/><rect x="136.92" width="5.57" height="9.05" fill="#f5cdbb"/><rect x="141.49" width="5.57" height="9.05" fill="#f6d3c3"/><rect x="146.07" width="10.15" height="9.05" fill="#f3c6b2"/><rect x="155.21" width="5.57" height="9.05" fill="#f6d6c8"/><rect x="159.79" width="10.15" height="9.05" fill="#f7dccf"/><rect x="168.93" width="5.57" height="9.05" fill="#f7d9cb"/><rect x="173.51" width="5.57" height="9.05" fill="#f6d6c8"/><rect x="178.08" width="5.57" height="9.05" fill="#f5cdbb"/><rect x="182.65" width="5.57" height="9.05" fill="#f3bfa9"/><rect x="187.23" width="5.57" height="9.05" fill="#f3c1ac"/><rect x="191.80" width="5.57" height="9.05" fill="#f4ccba"/><rect x="196.37" width="5.57" height="9.05" fill="#f4c8b5"/><rect x="200.95" width="5.57" height="9.05" fill="#f2b59d"/><rect x="205.52" width="5.57" height="9.05" fill="#f1ac93"/><rect x="210.09" width="5.57" height="9.05" fill="#f3c0aa"/><rect x="214.67" width="5.57" height="9.05" fill="#f4c9b7"/><rect x="219.24" width="10.15" height="9.05" fill="#f3c2ad"/><rect x="228.39" width="5.57" height="9.05" fill="#f4c9b7"/><rect x="232.96" width="5.57" height="9.05" fill="#f2bca6"/><rect x="237.53" width="5.57" height="9.05" fill="#f2b7a0"/><rect x="242.11" width="5.57" height="9.05" fill="#f4ccba"/><rect x="246.68" width="5.57" height="9.05" fill="#f6d6c8"/><rect x="251.25" width="5.57" height="9.05" fill="#f6d4c5"/><rect x="255.83" width="5.57" height="9.05" fill="#f5cdbb"/><rect x="260.40" width="5.57" height="9.05" fill="#f5cebd"/><rect x="264.97" width="5.57" height="9.05" fill="#f4ccba"/><rect x="269.55" width="5.57" height="9.05" fill="#f1ae95"/><rect x="274.12" width="5.57" height="9.05" fill="#f1a68c"/><rect x="278.69" width="5.57" height="9.05" fill="#f4c8b5"/><rect x="283.27" width="5.57" height="9.05" fill="#f6d4c5"/><rect x="287.84" width="5.57" height="9.05" fill="#f4c9b7"/><rect x="292.41" width="5.57" height="9.05" fill="#f2b9a2"/><rect x="296.99" width="5.57" height="9.05" fill="#f1af96"/><rect x="301.56" width="5.57" height="9.05" fill="#f2b49c"/><rect x="306.13" width="5.57" height="9.05" fill="#f3c6b2"/><rect x="310.71" width="5.57" height="9.05" fill="#f4ccba"/><rect x="315.28" width="5.57" height="9.05" fill="#f3bda7"/><rect x="319.85" width="5.57" height="9.05" fill="#f2b49c"/><rect x="324.43" width="14.72" height="9.05" fill="#f2bba5"/><rect x="338.15" width="5.57" height="9.05" fill="#f3c6b2"/><rect x="342.72" width="5.57" height="9.05" fill="#f4cbb8"/><rect x="347.29" width="10.15" height="9.05" fill="#f4ccba"/><rect x="356.44" width="5.57" height="9.05" fill="#f4c9b7"/><rect x="361.01" width="5.57" height="9.05" fill="#f4ccba"/><rect x="365.59" width="5.57" height="9.05" fill="#f5d1c0"/><rect x="370.16" width="5.57" height="9.05" fill="#f5cfbf"/><rect x="374.73" width="5.57" height="9.05" fill="#f4ccba"/><rect x="379.31" width="10.15" height="9.05" fill="#f4c8b5"/><rect x="388.45" width="5.57" height="9.05" fill="#f5d1c0"/><rect x="393.03" width="5.57" height="9.05" fill="#f6d6c6"/><rect x="397.60" width="5.57" height="9.05" fill="#f5d2c2"/><rect x="402.17" width="5.57" height="9.05" fill="#f6d3c3"/><rect x="406.75" width="5.57" height="9.05" fill="#f6d7c8"/><rect x="411.32" width="5.57" height="9.05" fill="#f6d8c9"/><rect x="415.89" width="5.57" height="9.05" fill="#f6d6c8"/><rect x="420.47" width="5.57" height="9.05" fill="#f5d1c0"/><rect x="425.04" width="5.57" height="9.05" fill="#f4ccba"/><rect x="429.61" width="5.57" height="9.05" fill="#f3bfa9"/><rect x="434.19" width="5.57" height="9.05" fill="#f1ac93"/><rect x="438.76" width="5.57" height="9.05" fill="#f2b69f"/><rect x="443.33" width="5.57" height="9.05" fill="#f2bca6"/><rect x="447.91" width="5.57" height="9.05" fill="#f2bba5"/><rect x="452.48" width="5.57" height="9.05" fill="#f3c1ac"/><rect x="457.05" width="5.57" height="9.05" fill="#f3c0aa"/><rect x="461.63" width="5.57" height="9.05" fill="#f2b9a2"/><rect x="466.20" width="5.57" height="9.05" fill="#f4c9b7"/><rect x="470.77" width="5.57" height="9.05" fill="#f7dacc"/><rect x="475.35" width="5.57" height="9.05" fill="#f7d9cb"/><rect x="479.92" width="5.57" height="9.05" fill="#f6d6c8"/><rect x="484.49" width="5.57" height="9.05" fill="#f6d3c3"/><rect x="489.07" width="5.57" height="9.05" fill="#f5cebd"/><rect x="493.64" width="5.57" height="9.05" fill="#f5cfbf"/><rect x="498.21" width="5.57" height="9.05" fill="#f5cebd"/><rect x="502.79" width="10.15" height="9.05" fill="#f5d1c0"/><rect x="511.93" width="5.57" height="9.05" fill="#f5cebd"/><rect x="516.51" width="5.57" height="9.05" fill="#f5d2c2"/><rect x="521.08" width="5.57" height="9.05" fill="#f6d5c6"/><rect x="525.65" width="5.57" height="9.05" fill="#f6d7c9"/><rect x="530.23" width="5.57" height="9.05" fill="#f6d5c6"/><rect x="534.80" width="5.57" height="9.05" fill="#f4cbb8"/><rect x="539.37" width="5.57" height="9.05" fill="#f4ccba"/><rect x="543.95" width="5.57" height="9.05" fill="#f6d4c5"/><rect x="548.52" width="5.57" height="9.05" fill="#f4cbb8"/><rect x="553.09" width="5.57" height="9.05" fill="#f2b7a0"/><rect x="557.67" width="5.57" height="9.05" fill="#f3c5b0"/><rect x="562.24" width="5.57" height="9.05" fill="#f5cdbb"/><rect x="566.81" width="5.57" height="9.05" fill="#f4c7b3"/><rect x="571.39" width="5.57" height="9.05" fill="#f4c8b5"/><rect x="575.96" width="5.57" height="9.05" fill="#f3c5b0"/><rect x="580.53" width="5.57" height="9.05" fill="#f2b69f"/><rect x="585.11" width="5.57" height="9.05" fill="#f2b59d"/><rect x="589.68" width="5.57" height="9.05" fill="#f2b9a2"/><rect x="594.25" width="5.57" height="9.05" fill="#f2b7a0"/><rect x="598.83" width="14.72" height="9.05" fill="#f3bfa9"/></g>
<g transform="translate(0 151.347)"><rect x="45.45" width="14.72" height="9.05" fill="#f6d6c8"/><rect x="59.17" width="5.57" height="9.05" fill="#f6d4c5"/><rect x="63.75" width="5.57" height="9.05" fill="#f6d6c6"/><rect x="68.32" width="5.57" height="9.05" fill="#f6d8ca"/><rect x="72.89" width="5.57" height="9.05" fill="#f7d8ca"/><rect x="77.47" width="5.57" height="9.05" fill="#f7dacc"/><rect x="82.04" width="5.57" height="9.05" fill="#f7dbce"/><rect x="86.61" width="5.57" height="9.05" fill="#f7d8ca"/><rect x="91.19" width="5.57" height="9.05" fill="#f6d5c6"/><rect x="95.76" width="5.57" height="9.05" fill="#f6d3c3"/><rect x="100.33" width="5.57" height="9.05" fill="#f5cebd"/><rect x="104.91" width="5.57" height="9.05" fill="#f5cdbb"/><rect x="109.48" width="5.57" height="9.05" fill="#f6d6c7"/><rect x="114.05" width="5.57" height="9.05" fill="#f7dacc"/><rect x="118.63" width="5.57" height="9.05" fill="#f7d9cb"/><rect x="123.20" width="5.57" height="9.05" fill="#f6d5c6"/><rect x="127.77" width="5.57" height="9.05" fill="#f4ccba"/><rect x="132.35" width="5.57" height="9.05" fill="#f5d1c0"/><rect x="136.92" width="5.57" height="9.05" fill="#f7d8ca"/><rect x="141.49" width="5.57" height="9.05" fill="#f6d6c8"/><rect x="146.07" width="5.57" height="9.05" fill="#f4c9b7"/><rect x="150.64" width="5.57" height="9.05" fill="#f4c7b3"/><rect x="155.21" width="5.57" height="9.05" fill="#f5d1c0"/><rect x="159.79" width="5.57" height="9.05" fill="#f7d9cb"/><rect x="164.36" width="19.29" height="9.05" fill="#f7dccf"/><rect x="182.65" width="5.57" height="9.05" fill="#f7ddd0"/><rect x="187.23" width="5.57" height="9.05" fill="#f7dbce"/><rect x="191.80" width="5.57" height="9.05" fill="#f6d5c6"/><rect x="196.37" width="5.57" height="9.05" fill="#f4c9b7"/><rect x="200.95" width="10.15" height="9.05" fill="#f4c8b5"/><rect x="210.09" width="5.57" height="9.05" fill="#f3c0aa"/><rect x="214.67" width="5.57" height="9.05" fill="#f3c2ad"/><rect x="219.24" width="5.57" height="9.05" fill="#f5cebd"/><rect x="223.81" width="5.57" height="9.05" fill="#f5d2c2"/><rect x="228.39" width="5.57" height="9.05" fill="#f6d3c3"/><rect x="232.96" width="5.57" height="9.05" fill="#f5d2c2"/><rect x="237.53" width="5.57" height="9.05" fill="#f4ccba"/><rect x="242.11" width="5.57" height="9.05" fill="#f3c5b0"/><rect x="246.68" width="5.57" height="9.05" fill="#f2b199"/><rect x="251.25" width="5.57" height="9.05" fill="#f1a88f"/><rect x="255.83" width="5.57" height="9.05" fill="#f2bca6"/><rect x="260.40" width="5.57" height="9.05" fill="#f4c9b7"/><rect x="264.97" width="5.57" height="9.05" fill="#f5cdbb"/><rect x="269.55" width="5.57" height="9.05" fill="#f4cbb8"/><rect x="274.12" width="5.57" height="9.05" fill="#f5cdbb"/><rect x="278.69" width="5.57" height="9.05" fill="#f5cfbf"/><rect x="283.27" width="5.57" height="9.05" fill="#f5cebd"/><rect x="287.84" width="5.57" height="9.05" fill="#f4c9b7"/><rect x="292.41" width="5.57" height="9.05" fill="#f3c0aa"/><rect x="296.99" width="5.57" height="9.05" fill="#f2b199"/><rect x="301.56" width="5.57" height="9.05" fill="#f2b69f"/><rect x="306.13" width="5.57" height="9.05" fill="#f4c9b7"/><rect x="310.71" width="5.57" height="9.05" fill="#f6d8c9"/><rect x="315.28" width="5.57" height="9.05" fill="#f6d8ca"/><rect x="319.85" width="5.57" height="9.05" fill="#f6d6c7"/><rect x="324.43" width="5.57" height="9.05" fill="#f7d8ca"/><rect x="329.00" width="5.57" height="9.05" fill="#f7d9cb"/><rect x="333.57" width="5.57" height="9.05" fill="#f6d7c9"/><rect x="338.15" width="5.57" height="9.05" fill="#f6d3c3"/><rect x="342.72" width="5.57" height="9.05" fill="#f3c6b2"/><rect x="347.29" width="5.57" height="9.05" fill="#f2bba5"/><rect x="351.87" width="5.57" height="9.05" fill="#f3c5b0"/><rect x="356.44" width="5.57" height="9.05" fill="#f5cdbb"/><rect x="361.01" width="5.57" height="9.05" fill="#f5cfbf"/><rect x="365.59" width="10.15" height="9.05" fill="#f4cbb8"/><rect x="374.73" width="5.57" height="9.05" fill="#f6d3c3"/><rect x="379.31" width="5.57" height="9.05" fill="#f5cebd"/><rect x="383.88" width="5.57" height="9.05" fill="#f3c5b0"/><rect x="388.45" width="5.57" height="9.05" fill="#f5cfbf"/><rect x="393.03" width="5.57" height="9.05" fill="#f6d4c5"/><rect x="397.60" width="5.57" height="9.05" fill="#f4c9b7"/><rect x="402.17" width="5.57" height="9.05" fill="#f3c2ad"/><rect x="406.75" width="5.57" height="9.05" fill="#f3c3af"/><rect x="411.32" width="5.57" height="9.05" fill="#f4cbb8"/><rect x="415.89" width="5.57" height="9.05" fill="#f5cdbb"/><rect x="420.47" width="5.57" height="9.05" fill="#f4c7b3"/><rect x="425.04" width="5.57" height="9.05" fill="#f4ccba"/><rect x="429.61" width="5.57" height="9.05" fill="#f5d2c2"/><rect x="434.19" width="5.57" height="9.05" fill="#f5cdbb"/><rect x="438.76" width="5.57" height="9.05" fill="#f4cbb8"/><rect x="443.33" width="5.57" height="9.05" fill="#f5cfbf"/><rect x="447.91" width="5.57" height="9.05" fill="#f6d7c8"/><rect x="452.48" width="5.57" height="9.05" fill="#f6d8c9"/><rect x="457.05" width="5.57" height="9.05" fill="#f6d4c5"/><rect x="461.63" width="5.57" height="9.05" fill="#f4c9b7"/><rect x="466.20" width="5.57" height="9.05" fill="#f3c2ad"/><rect x="470.77" width="5.57" height="9.05" fill="#f3c6b2"/><rect x="475.35" width="5.57" height="9.05" fill="#f4c6b2"/><rect x="479.92" width="5.57" height="9.05" fill="#f3c2ad"/><rect x="484.49" width="10.15" height="9.05" fill="#f2bba5"/><rect x="493.64" width="5.57" height="9.05" fill="#f2b69f"/><rect x="498.21" width="5.57" height="9.05" fill="#f1aa90"/><rect x="502.79" width="5.57" height="9.05" fill="#f1b199"/><rect x="507.36" width="5.57" height="9.05" fill="#f2bca6"/><rect x="511.93" width="5.57" height="9.05" fill="#f3c5b0"/><rect x="516.51" width="5.57" height="9.05" fill="#f3c3af"/><rect x="521.08" width="5.57" height="9.05" fill="#f2bba5"/><rect x="525.65" width="5.57" height="9.05" fill="#f2bca6"/><rect x="530.23" width="5.57" height="9.05" fill="#f3c3af"/><rect x="534.80" width="5.57" height="9.05" fill="#f6d3c3"/><rect x="539.37" width="5.57" height="9.05" fill="#f7d9cb"/><rect x="543.95" width="5.57" height="9.05" fill="#f6d6c8"/><rect x="548.52" width="5.57" height="9.05" fill="#f5d2c2"/><rect x="553.09" width="5.57" height="9.05" fill="#f4cbb8"/><rect x="557.67" width="5.57" height="9.05" fill="#f2b69f"/><rect x="562.24" width="5.57" height="9.05" fill="#f1a68c"/><rect x="566.81" width="5.57" height="9.05" fill="#f1aa90"/><rect x="571.39" width="10.15" height="9.05" fill="#f1ac93"/><rect x="580.53" width="5.57" height="9.05" fill="#f1ae95"/><rect x="585.11" width="5.57" height="9.05" fill="#f2b49c"/><rect x="589.68" width="5.57" height="9.05" fill="#f3bda7"/><rect x="594.25" width="5.57" height="9.05" fill="#f3bfa9"/><rect x="598.83" width="14.72" height="9.05" fill="#f1b199"/></g>
<g transform="translate(0 159.400)"><rect x="45.45" width="14.72" height="9.05" fill="#f5cebd"/><rect x="59.17" width="5.57" height="9.05" fill="#f6d7c8"/><rect x="63.75" width="5.57" height="9.05" fill="#f6d6c8"/><rect x="68.32" width="5.57" height="9.05" fill="#f5d2c2"/><rect x="72.89" width="5.57" height="9.05" fill="#f6d4c5"/><rect x="77.47" width="5.57" height="9.05" fill="#f7dacd"/><rect x="82.04" width="5.57" height="9.05" fill="#f8ded2"/><rect x="86.61" width="5.57" height="9.05" fill="#f8ddd1"/><rect x="91.19" width="5.57" height="9.05" fill="#f6d4c5"/><rect x="95.76" width="5.57" height="9.05" fill="#f3c3af"/><rect x="100.33" width="5.57" height="9.05" fill="#f5d1c0"/><rect x="104.91" width="5.57" height="9.05" fill="#f7d8ca"/><rect x="109.48" width="5.57" height="9.05" fill="#f6d4c5"/><rect x="114.05" width="10.15" height="9.05" fill="#f5cfbf"/><rect x="123.20" width="5.57" height="9.05" fill="#f6d4c5"/><rect x="127.77" width="5.57" height="9.05" fill="#f6d7c8"/><rect x="132.35" width="5.57" height="9.05" fill="#f5cfbf"/><rect x="136.92" width="5.57" height="9.05" fill="#f3c1ac"/><rect x="141.49" width="5.57" height="9.05" fill="#f2baa3"/><rect x="146.07" width="5.57" height="9.05" fill="#f3bda7"/><rect x="150.64" width="5.57" height="9.05" fill="#f3c5b0"/><rect x="155.21" width="5.57" height="9.05" fill="#f3bfa9"/><rect x="159.79" width="5.57" height="9.05" fill="#f2bba5"/><rect x="164.36" width="5.57" height="9.05" fill="#f2bca6"/><rect x="168.93" width="5.57" height="9.05" fill="#f2bba5"/><rect x="173.51" width="5.57" height="9.05" fill="#f3c3af"/><rect x="178.08" width="5.57" height="9.05" fill="#f3c1ac"/><rect x="182.65" width="5.57" height="9.05" fill="#f2b7a0"/><rect x="187.23" width="5.57" height="9.05" fill="#f1af96"/><rect x="191.80" width="5.57" height="9.05" fill="#f1a58b"/><rect x="196.37" width="5.57" height="9.05" fill="#f19f85"/><rect x="200.95" width="5.57" height="9.05" fill="#f1b199"/><rect x="205.52" width="5.57" height="9.05" fill="#f2b59d"/><rect x="210.09" width="5.57" height="9.05" fill="#f1a88f"/><rect x="214.67" width="5.57" height="9.05" fill="#f2b39a"/><rect x="219.24" width="5.57" height="9.05" fill="#f3c1ac"/><rect x="223.81" width="5.57" height="9.05" fill="#f5d1c0"/><rect x="228.39" width="5.57" height="9.05" fill="#f7d8ca"/><rect x="232.96" width="5.57" height="9.05" fill="#f5d1c0"/><rect x="237.53" width="5.57" height="9.05" fill="#f2bca6"/><rect x="242.11" width="5.57" height="9.05" fill="#f1af96"/><rect x="246.68" width="5.57" height="9.05" fill="#f1ae95"/><rect x="251.25" width="5.57" height="9.05" fill="#f1a68c"/><rect x="255.83" width="5.57" height="9.05" fill="#f1a289"/><rect x="260.40" width="5.57" height="9.05" fill="#f1ae95"/><rect x="264.97" width="5.57" height="9.05" fill="#f2bca6"/><rect x="269.55" width="5.57" height="9.05" fill="#f4c7b3"/><rect x="274.12" width="5.57" height="9.05" fill="#f5d0bf"/><rect x="278.69" width="5.57" height="9.05" fill="#f4c7b3"/><rect x="283.27" width="10.15" height="9.05" fill="#f2b59d"/><rect x="292.41" width="5.57" height="9.05" fill="#f2b49c"/><rect x="296.99" width="5.57" height="9.05" fill="#f2b59d"/><rect x="301.56" width="5.57" height="9.05" fill="#f2bca6"/><rect x="306.13" width="5.57" height="9.05" fill="#f1b097"/><rect x="310.71" width="5.57" height="9.05" fill="#f1a68c"/><rect x="315.28" width="5.57" height="9.05" fill="#f1a58b"/><rect x="319.85" width="5.57" height="9.05" fill="#f1aa90"/><rect x="324.43" width="5.57" height="9.05" fill="#f1b199"/><rect x="329.00" width="5.57" height="9.05" fill="#f1a78e"/><rect x="333.57" width="5.57" height="9.05" fill="#f09a80"/><rect x="338.15" width="5.57" height="9.05" fill="#f0957c"/><rect x="342.72" width="5.57" height="9.05" fill="#f1a78e"/><rect x="347.29" width="5.57" height="9.05" fill="#f2b9a2"/><rect x="351.87" width="5.57" height="9.05" fill="#f1af96"/><rect x="356.44" width="5.57" height="9.05" fill="#f1a78e"/><rect x="361.01" width="5.57" height="9.05" fill="#f1af96"/><rect x="365.59" width="5.57" height="9.05" fill="#f2bba5"/><rect x="370.16" width="5.57" height="9.05" fill="#f3bfa9"/><rect x="374.73" width="5.57" height="9.05" fill="#f2b9a2"/><rect x="379.31" width="5.57" height="9.05" fill="#f1a68c"/><rect x="383.88" width="5.57" height="9.05" fill="#f0987e"/><rect x="388.45" width="5.57" height="9.05" fill="#f2b49c"/><rect x="393.03" width="5.57" height="9.05" fill="#f3c6b2"/><rect x="397.60" width="5.57" height="9.05" fill="#f2b9a2"/><rect x="402.17" width="5.57" height="9.05" fill="#f1ab92"/><rect x="406.75" width="5.57" height="9.05" fill="#f3c2ad"/><rect x="411.32" width="5.57" height="9.05" fill="#f4cbb8"/><rect x="415.89" width="5.57" height="9.05" fill="#f2b69f"/><rect x="420.47" width="5.57" height="9.05" fill="#f2b39a"/><rect x="425.04" width="10.15" height="9.05" fill="#f2bba5"/><rect x="434.19" width="5.57" height="9.05" fill="#f3c5b0"/><rect x="438.76" width="5.57" height="9.05" fill="#f4c6b2"/><rect x="443.33" width="10.15" height="9.05" fill="#f3bda7"/><rect x="452.48" width="5.57" height="9.05" fill="#f2b7a0"/><rect x="457.05" width="5.57" height="9.05" fill="#f1af96"/><rect x="461.63" width="5.57" height="9.05" fill="#f1ab92"/><rect x="466.20" width="5.57" height="9.05" fill="#f2bba5"/><rect x="470.77" width="5.57" height="9.05" fill="#f3c5b0"/><rect x="475.35" width="5.57" height="9.05" fill="#f3bda7"/><rect x="479.92" width="5.57" height="9.05" fill="#f2b7a0"/><rect x="484.49" width="5.57" height="9.05" fill="#f2b199"/><rect x="489.07" width="5.57" height="9.05" fill="#f1a88f"/><rect x="493.64" width="5.57" height="9.05" fill="#f1a68c"/><rect x="498.21" width="5.57" height="9.05" fill="#f2bca6"/><rect x="502.79" width="5.57" height="9.05" fill="#f4cbb8"/><rect x="507.36" width="5.57" height="9.05" fill="#f3c0aa"/><rect x="511.93" width="5.57" height="9.05" fill="#f2b49c"/><rect x="516.51" width="5.57" height="9.05" fill="#f2b9a2"/><rect x="521.08" width="5.57" height="9.05" fill="#f2b59d"/><rect x="525.65" width="5.57" height="9.05" fill="#f1a78e"/><rect x="530.23" width="5.57" height="9.05" fill="#f1a88f"/><rect x="534.80" width="5.57" height="9.05" fill="#f1aa90"/><rect x="539.37" width="5.57" height="9.05" fill="#ef8e74"/><rect x="543.95" width="5.57" height="9.05" fill="#f0947a"/><rect x="548.52" width="5.57" height="9.05" fill="#f09379"/><rect x="553.09" width="5.57" height="9.05" fill="#f1a289"/><rect x="557.67" width="5.57" height="9.05" fill="#f1ae95"/><rect x="562.24" width="5.57" height="9.05" fill="#f3c2ad"/><rect x="566.81" width="5.57" height="9.05" fill="#f4cbb8"/><rect x="571.39" width="5.57" height="9.05" fill="#f4c7b4"/><rect x="575.96" width="5.57" height="9.05" fill="#f3c5b0"/><rect x="580.53" width="5.57" height="9.05" fill="#f3c6b2"/><rect x="585.11" width="5.57" height="9.05" fill="#f2bba5"/><rect x="589.68" width="5.57" height="9.05" fill="#f1a086"/><rect x="594.25" width="5.57" height="9.05" fill="#f1a78e"/><rect x="598.83" width="14.72" height="9.05" fill="#f2b7a0"/></g>
<g transform="translate(0 167.453)"><rect x="45.45" width="14.72" height="9.05" fill="#f2b7a0"/><rect x="59.17" width="5.57" height="9.05" fill="#f4c9b7"/><rect x="63.75" width="5.57" height="9.05" fill="#f6d7c8"/><rect x="68.32" width="5.57" height="9.05" fill="#f7d9cb"/><rect x="72.89" width="5.57" height="9.05" fill="#f6d4c5"/><rect x="77.47" width="5.57" height="9.05" fill="#f5d2c2"/><rect x="82.04" width="5.57" height="9.05" fill="#f6d7c8"/><rect x="86.61" width="5.57" height="9.05" fill="#f6d5c6"/><rect x="91.19" width="5.57" height="9.05" fill="#f5d2c2"/><rect x="95.76" width="10.15" height="9.05" fill="#f6d8ca"/><rect x="104.91" width="5.57" height="9.05" fill="#f5cdbb"/><rect x="109.48" width="5.57" height="9.05" fill="#f3bfa9"/><rect x="114.05" width="5.57" height="9.05" fill="#f2b69f"/><rect x="118.63" width="5.57" height="9.05" fill="#f1b199"/><rect x="123.20" width="5.57" height="9.05" fill="#f2b39a"/><rect x="127.77" width="5.57" height="9.05" fill="#f3c1ac"/><rect x="132.35" width="5.57" height="9.05" fill="#f4c6b2"/><rect x="136.92" width="5.57" height="9.05" fill="#f2bba5"/><rect x="141.49" width="5.57" height="9.05" fill="#f2b59d"/><rect x="146.07" width="5.57" height="9.05" fill="#f3c5b0"/><rect x="150.64" width="5.57" height="9.05" fill="#f5cebd"/><rect x="155.21" width="5.57" height="9.05" fill="#f6d4c5"/><rect x="159.79" width="5.57" height="9.05" fill="#f6d8c9"/><rect x="164.36" width="5.57" height="9.05" fill="#f7d8ca"/><rect x="168.93" width="5.57" height="9.05" fill="#f6d8c9"/><rect x="173.51" width="5.57" height="9.05" fill="#f4cbb8"/><rect x="178.08" width="5.57" height="9.05" fill="#f1ae95"/><rect x="182.65" width="5.57" height="9.05" fill="#f09a80"/><rect x="187.23" width="5.57" height="9.05" fill="#f09b82"/><rect x="191.80" width="5.57" height="9.05" fill="#f1b097"/><rect x="196.37" width="5.57" height="9.05" fill="#f3c0aa"/><rect x="200.95" width="5.57" height="9.05" fill="#f3bda7"/><rect x="205.52" width="5.57" height="9.05" fill="#f2b7a0"/><rect x="210.09" width="5.57" height="9.05" fill="#f1aa90"/><rect x="214.67" width="5.57" height="9.05" fill="#ef8e75"/><rect x="219.24" width="5.57" height="9.05" fill="#ee7f66"/><rect x="223.81" width="5.57" height="9.05" fill="#f09177"/><rect x="228.39" width="5.57" height="9.05" fill="#f09a80"/><rect x="232.96" width="5.57" height="9.05" fill="#ef9177"/><rect x="237.53" width="5.57" height="9.05" fill="#ef8a70"/><rect x="242.11" width="5.57" height="9.05" fill="#f09e84"/><rect x="246.68" width="5.57" height="9.05" fill="#f1a88f"/><rect x="251.25" width="5.57" height="9.05" fill="#f1a48b"/><rect x="255.83" width="5.57" height="9.05" fill="#f2b69f"/><rect x="260.40" width="5.57" height="9.05" fill="#f3c5b0"/><rect x="264.97" width="5.57" height="9.05" fill="#f2b49c"/><rect x="269.55" width="5.57" height="9.05" fill="#f1a68c"/><rect x="274.12" width="5.57" height="9.05" fill="#f2b59d"/><rect x="278.69" width="5.57" height="9.05" fill="#f2bba5"/><rect x="283.27" width="5.57" height="9.05" fill="#f2b49c"/><rect x="287.84" width="5.57" height="9.05" fill="#f2b59d"/><rect x="292.41" width="5.57" height="9.05" fill="#f3bda7"/><rect x="296.99" width="5.57" height="9.05" fill="#f2b59d"/><rect x="301.56" width="5.57" height="9.05" fill="#f1a78e"/><rect x="306.13" width="5.57" height="9.05" fill="#f09f85"/><rect x="310.71" width="5.57" height="9.05" fill="#f1a48b"/><rect x="315.28" width="10.15" height="9.05" fill="#f2b39a"/><rect x="324.43" width="5.57" height="9.05" fill="#f2b199"/><rect x="329.00" width="5.57" height="9.05" fill="#f2b9a2"/><rect x="333.57" width="5.57" height="9.05" fill="#f3c2ad"/><rect x="338.15" width="5.57" height="9.05" fill="#f4ccba"/><rect x="342.72" width="5.57" height="9.05" fill="#f5d2c2"/><rect x="347.29" width="5.57" height="9.05" fill="#f6d3c3"/><rect x="351.87" width="5.57" height="9.05" fill="#f6d5c6"/><rect x="356.44" width="5.57" height="9.05" fill="#f5d2c2"/><rect x="361.01" width="5.57" height="9.05" fill="#f5cebd"/><rect x="365.59" width="5.57" height="9.05" fill="#f6d6c7"/><rect x="370.16" width="5.57" height="9.05" fill="#f6d4c5"/><rect x="374.73" width="10.15" height="9.05" fill="#f4c9b7"/><rect x="383.88" width="5.57" height="9.05" fill="#f4cbb8"/><rect x="388.45" width="5.57" height="9.05" fill="#f5cebd"/><rect x="393.03" width="5.57" height="9.05" fill="#f5cdbb"/><rect x="397.60" width="5.57" height="9.05" fill="#f2bca6"/><rect x="402.17" width="5.57" height="9.05" fill="#f1a88f"/><rect x="406.75" width="5.57" height="9.05" fill="#f2bba5"/><rect x="411.32" width="5.57" height="9.05" fill="#f5cdbb"/><rect x="415.89" width="5.57" height="9.05" fill="#f3c3af"/><rect x="420.47" width="5.57" height="9.05" fill="#f2b69f"/><rect x="425.04" width="5.57" height="9.05" fill="#f3bfa9"/><rect x="429.61" width="5.57" height="9.05" fill="#f4c9b7"/><rect x="434.19" width="5.57" height="9.05" fill="#f2bca6"/><rect x="438.76" width="5.57" height="9.05" fill="#f1af96"/><rect x="443.33" width="5.57" height="9.05" fill="#f3bda7"/><rect x="447.91" width="5.57" height="9.05" fill="#f3c3af"/><rect x="452.48" width="5.57" height="9.05" fill="#f3c6b2"/><rect x="457.05" width="5.57" height="9.05" fill="#f4c7b3"/><rect x="461.63" width="5.57" height="9.05" fill="#f1ab92"/><rect x="466.20" width="5.57" height="9.05" fill="#ee7d64"/><rect x="470.77" width="5.57" height="9.05" fill="#ed735b"/><rect x="475.35" width="5.57" height="9.05" fill="#ef8d73"/><rect x="479.92" width="5.57" height="9.05" fill="#f09d84"/><rect x="484.49" width="5.57" height="9.05" fill="#f1a289"/><rect x="489.07" width="5.57" height="9.05" fill="#f09c83"/><rect x="493.64" width="5.57" height="9.05" fill="#ee7e65"/><rect x="498.21" width="5.57" height="9.05" fill="#ee6a52"/><rect x="502.79" width="5.57" height="9.05" fill="#ee7d64"/><rect x="507.36" width="5.57" height="9.05" fill="#f09379"/><rect x="511.93" width="5.57" height="9.05" fill="#ef8e75"/><rect x="516.51" width="5.57" height="9.05" fill="#f0947b"/><rect x="521.08" width="5.57" height="9.05" fill="#f1aa90"/><rect x="525.65" width="5.57" height="9.05" fill="#f2b39a"/><rect x="530.23" width="5.57" height="9.05" fill="#f2b49c"/><rect x="534.80" width="5.57" height="9.05" fill="#f1a78e"/><rect x="539.37" width="5.57" height="9.05" fill="#f1a38a"/><rect x="543.95" width="5.57" height="9.05" fill="#f3bda7"/><rect x="548.52" width="5.57" height="9.05" fill="#f3c5b0"/><rect x="553.09" width="5.57" height="9.05" fill="#f2b7a0"/><rect x="557.67" width="5.57" height="9.05" fill="#f3bfa9"/><rect x="562.24" width="5.57" height="9.05" fill="#f5cebd"/><rect x="566.81" width="5.57" height="9.05" fill="#f5d1c0"/><rect x="571.39" width="5.57" height="9.05" fill="#f5cfbf"/><rect x="575.96" width="5.57" height="9.05" fill="#f4c7b3"/><rect x="580.53" width="5.57" height="9.05" fill="#f2b49c"/><rect x="585.11" width="5.57" height="9.05" fill="#f1a78e"/><rect x="589.68" width="5.57" height="9.05" fill="#f1ae95"/><rect x="594.25" width="5.57" height="9.05" fill="#f2b39a"/><rect x="598.83" width="14.72" height="9.05" fill="#f1b097"/></g>
<g transform="translate(0 175.506)"><rect x="45.45" width="14.72" height="9.05" fill="#f6d5c6"/><rect x="59.17" width="5.57" height="9.05" fill="#f6d4c5"/><rect x="63.75" width="5.57" height="9.05" fill="#f4c6b2"/><rect x="68.32" width="5.57" height="9.05" fill="#f4ccba"/><rect x="72.89" width="5.57" height="9.05" fill="#f7d9cb"/><rect x="77.47" width="5.57" height="9.05" fill="#f7dccf"/><rect x="82.04" width="5.57" height="9.05" fill="#f6d7c8"/><rect x="86.61" width="5.57" height="9.05" fill="#f5cebd"/><rect x="91.19" width="5.57" height="9.05" fill="#f5d2c2"/><rect x="95.76" width="5.57" height="9.05" fill="#f6d4c5"/><rect x="100.33" width="5.57" height="9.05" fill="#f5cfbf"/><rect x="104.91" width="5.57" height="9.05" fill="#f3c5b0"/><rect x="109.48" width="5.57" height="9.05" fill="#f4c7b3"/><rect x="114.05" width="5.57" height="9.05" fill="#f6d4c5"/><rect x="118.63" width="5.57" height="9.05" fill="#f6d6c8"/><rect x="123.20" width="5.57" height="9.05" fill="#f6d5c6"/><rect x="127.77" width="5.57" height="9.05" fill="#f6d8c9"/><rect x="132.35" width="5.57" height="9.05" fill="#f6d7c8"/><rect x="136.92" width="5.57" height="9.05" fill="#f5cfbf"/><rect x="141.49" width="5.57" height="9.05" fill="#f4c9b7"/><rect x="146.07" width="5.57" height="9.05" fill="#f3c2ad"/><rect x="150.64" width="5.57" height="9.05" fill="#f3bfa9"/><rect x="155.21" width="5.57" height="9.05" fill="#f4c7b4"/><rect x="159.79" width="5.57" height="9.05" fill="#f4ccba"/><rect x="164.36" width="5.57" height="9.05" fill="#f5cebd"/><rect x="168.93" width="5.57" height="9.05" fill="#f5cdbb"/><rect x="173.51" width="5.57" height="9.05" fill="#f4cbb8"/><rect x="178.08" width="5.57" height="9.05" fill="#f5cfbf"/><rect x="182.65" width="5.57" height="9.05" fill="#f5cebd"/><rect x="187.23" width="5.57" height="9.05" fill="#f3c1ac"/><rect x="191.80" width="5.57" height="9.05" fill="#f3c6b2"/><rect x="196.37" width="5.57" height="9.05" fill="#f6d6c8"/><rect x="200.95" width="5.57" height="9.05" fill="#f7d9cb"/><rect x="205.52" width="5.57" height="9.05" fill="#f5d2c2"/><rect x="210.09" width="5.57" height="9.05" fill="#f3c3af"/><rect x="214.67" width="5.57" height="9.05" fill="#f3bda7"/><rect x="219.24" width="5.57" height="9.05" fill="#f3c0aa"/><rect x="223.81" width="5.57" height="9.05" fill="#f3c3af"/><rect x="228.39" width="5.57" height="9.05" fill="#f4c7b3"/><rect x="232.96" width="5.57" height="9.05" fill="#f4ccba"/><rect x="237.53" width="5.57" height="9.05" fill="#f3c2ad"/><rect x="242.11" width="5.57" height="9.05" fill="#f2b9a2"/><rect x="246.68" width="10.15" height="9.05" fill="#f3bfa9"/><rect x="255.83" width="5.57" height="9.05" fill="#f2b59d"/><rect x="260.40" width="5.57" height="9.05" fill="#f1a68c"/><rect x="264.97" width="5.57" height="9.05" fill="#f1a086"/><rect x="269.55" width="5.57" height="9.05" fill="#f1a38a"/><rect x="274.12" width="5.57" height="9.05" fill="#f1a188"/><rect x="278.69" width="5.57" height="9.05" fill="#f1af96"/><rect x="283.27" width="5.57" height="9.05" fill="#f2baa3"/><rect x="287.84" width="5.57" height="9.05" fill="#f2b69f"/><rect x="292.41" width="5.57" height="9.05" fill="#f1b199"/><rect x="296.99" width="5.57" height="9.05" fill="#f1ac93"/><rect x="301.56" width="5.57" height="9.05" fill="#f1a48b"/><rect x="306.13" width="5.57" height="9.05" fill="#f0977d"/><rect x="310.71" width="5.57" height="9.05" fill="#ef876d"/><rect x="315.28" width="5.57" height="9.05" fill="#f0997f"/><rect x="319.85" width="5.57" height="9.05" fill="#f1ac93"/><rect x="324.43" width="5.57" height="9.05" fill="#f1a78e"/><rect x="329.00" width="5.57" height="9.05" fill="#f1a68c"/><rect x="333.57" width="5.57" height="9.05" fill="#f2b49c"/><rect x="338.15" width="5.57" height="9.05" fill="#f3bfa9"/><rect x="342.72" width="5.57" height="9.05" fill="#f2bca6"/><rect x="347.29" width="5.57" height="9.05" fill="#f1aa90"/><rect x="351.87" width="5.57" height="9.05" fill="#f09a80"/><rect x="356.44" width="5.57" height="9.05" fill="#f09c83"/><rect x="361.01" width="10.15" height="9.05" fill="#f19f85"/><rect x="370.16" width="5.57" height="9.05" fill="#f1a289"/><rect x="374.73" width="5.57" height="9.05" fill="#f0987e"/><rect x="379.31" width="5.57" height="9.05" fill="#ef836a"/><rect x="383.88" width="5.57" height="9.05" fill="#ee7b62"/><rect x="388.45" width="5.57" height="9.05" fill="#ef856b"/><rect x="393.03" width="5.57" height="9.05" fill="#f0987e"/><rect x="397.60" width="10.15" height="9.05" fill="#f1a68c"/><rect x="406.75" width="5.57" height="9.05" fill="#f0997f"/><rect x="411.32" width="5.57" height="9.05" fill="#f09d84"/><rect x="415.89" width="5.57" height="9.05" fill="#f1aa90"/><rect x="420.47" width="5.57" height="9.05" fill="#f1a187"/><rect x="425.04" width="5.57" height="9.05" fill="#f1a188"/><rect x="429.61" width="5.57" height="9.05" fill="#f1ab92"/><rect x="434.19" width="5.57" height="9.05" fill="#f09c83"/><rect x="438.76" width="5.57" height="9.05" fill="#ee8369"/><rect x="443.33" width="5.57" height="9.05" fill="#ee8168"/><rect x="447.91" width="5.57" height="9.05" fill="#f0957c"/><rect x="452.48" width="5.57" height="9.05" fill="#f1a086"/><rect x="457.05" width="5.57" height="9.05" fill="#ef8e75"/><rect x="461.63" width="5.57" height="9.05" fill="#ef836a"/><rect x="466.20" width="5.57" height="9.05" fill="#f0997f"/><rect x="470.77" width="5.57" height="9.05" fill="#f1a78e"/><rect x="475.35" width="5.57" height="9.05" fill="#f09a80"/><rect x="479.92" width="5.57" height="9.05" fill="#f09177"/><rect x="484.49" width="5.57" height="9.05" fill="#f1a086"/><rect x="489.07" width="5.57" height="9.05" fill="#f1aa90"/><rect x="493.64" width="5.57" height="9.05" fill="#f1a78e"/><rect x="498.21" width="5.57" height="9.05" fill="#f1a48b"/><rect x="502.79" width="5.57" height="9.05" fill="#f1af96"/><rect x="507.36" width="5.57" height="9.05" fill="#f2bca6"/><rect x="511.93" width="5.57" height="9.05" fill="#f4c9b7"/><rect x="516.51" width="5.57" height="9.05" fill="#f3c6b2"/><rect x="521.08" width="5.57" height="9.05" fill="#f1a78e"/><rect x="525.65" width="5.57" height="9.05" fill="#ef8d73"/><rect x="530.23" width="5.57" height="9.05" fill="#ef8c72"/><rect x="534.80" width="5.57" height="9.05" fill="#f0957c"/><rect x="539.37" width="5.57" height="9.05" fill="#f1a68c"/><rect x="543.95" width="5.57" height="9.05" fill="#f1a78e"/><rect x="548.52" width="5.57" height="9.05" fill="#f19f85"/><rect x="553.09" width="5.57" height="9.05" fill="#f0977d"/><rect x="557.67" width="5.57" height="9.05" fill="#f0957c"/><rect x="562.24" width="5.57" height="9.05" fill="#f1ab92"/><rect x="566.81" width="5.57" height="9.05" fill="#f2b39a"/><rect x="571.39" width="5.57" height="9.05" fill="#f1ae95"/><rect x="575.96" width="5.57" height="9.05" fill="#f1b097"/><rect x="580.53" width="5.57" height="9.05" fill="#f2bca6"/><rect x="585.11" width="5.57" height="9.05" fill="#f4c8b5"/><rect x="589.68" width="5.57" height="9.05" fill="#f2bca6"/><rect x="594.25" width="5.57" height="9.05" fill="#f2b49c"/><rect x="598.83" width="14.72" height="9.05" fill="#f2b69f"/></g>
<g transform="translate(0 183.559)"><rect x="45.45" width="14.72" height="9.05" fill="#f4c9b7"/><rect x="59.17" width="10.15" height="9.05" fill="#f5cebd"/><rect x="68.32" width="5.57" height="9.05" fill="#f5d2c2"/><rect x="72.89" width="5.57" height="9.05" fill="#f6d7c9"/><rect x="77.47" width="5.57" height="9.05" fill="#f6d8c9"/><rect x="82.04" width="5.57" height="9.05" fill="#f6d5c6"/><rect x="86.61" width="5.57" height="9.05" fill="#f6d3c3"/><rect x="91.19" width="5.57" height="9.05" fill="#f5cebd"/><rect x="95.76" width="5.57" height="9.05" fill="#f5cdbb"/><rect x="100.33" width="5.57" height="9.05" fill="#f5d1c0"/><rect x="104.91" width="10.15" height="9.05" fill="#f5cfbf"/><rect x="114.05" width="5.57" height="9.05" fill="#f5cebd"/><rect x="118.63" width="5.57" height="9.05" fill="#f4c9b7"/><rect x="123.20" width="5.57" height="9.05" fill="#f4ccba"/><rect x="127.77" width="5.57" height="9.05" fill="#f6d5c6"/><rect x="132.35" width="5.57" height="9.05" fill="#f6d8c9"/><rect x="136.92" width="5.57" height="9.05" fill="#f6d6c8"/><rect x="141.49" width="5.57" height="9.05" fill="#f6d8c9"/><rect x="146.07" width="5.57" height="9.05" fill="#f5d3c3"/><rect x="150.64" width="5.57" height="9.05" fill="#f3c0aa"/><rect x="155.21" width="5.57" height="9.05" fill="#f3c1ac"/><rect x="159.79" width="5.57" height="9.05" fill="#f6d5c6"/><rect x="164.36" width="5.57" height="9.05" fill="#f7d8ca"/><rect x="168.93" width="5.57" height="9.05" fill="#f6d4c5"/><rect x="173.51" width="5.57" height="9.05" fill="#f5d1c0"/><rect x="178.08" width="10.15" height="9.05" fill="#f6d4c5"/><rect x="187.23" width="5.57" height="9.05" fill="#f3c3af"/><rect x="191.80" width="5.57" height="9.05" fill="#f2bba5"/><rect x="196.37" width="5.57" height="9.05" fill="#f4ccba"/><rect x="200.95" width="5.57" height="9.05" fill="#f5d3c3"/><rect x="205.52" width="5.57" height="9.05" fill="#f5cdbb"/><rect x="210.09" width="5.57" height="9.05" fill="#f4c9b7"/><rect x="214.67" width="5.57" height="9.05" fill="#f5cdbb"/><rect x="219.24" width="5.57" height="9.05" fill="#f4c6b2"/><rect x="223.81" width="10.15" height="9.05" fill="#f3c3af"/><rect x="232.96" width="5.57" height="9.05" fill="#f3c6b2"/><rect x="237.53" width="5.57" height="9.05" fill="#f5d3c3"/><rect x="242.11" width="5.57" height="9.05" fill="#f6d6c8"/><rect x="246.68" width="5.57" height="9.05" fill="#f5cfbf"/><rect x="251.25" width="5.57" height="9.05" fill="#f4cbb8"/><rect x="255.83" width="5.57" height="9.05" fill="#f5cfbf"/><rect x="260.40" width="5.57" height="9.05" fill="#f5d2c2"/><rect x="264.97" width="5.57" height="9.05" fill="#f5cdbb"/><rect x="269.55" width="5.57" height="9.05" fill="#f5cebd"/><rect x="274.12" width="5.57" height="9.05" fill="#f5cfbf"/><rect x="278.69" width="5.57" height="9.05" fill="#f4cbb8"/><rect x="283.27" width="5.57" height="9.05" fill="#f2baa3"/><rect x="287.84" width="5.57" height="9.05" fill="#f2b199"/><rect x="292.41" width="5.57" height="9.05" fill="#f3c2ad"/><rect x="296.99" width="5.57" height="9.05" fill="#f4c6b2"/><rect x="301.56" width="5.57" height="9.05" fill="#f3c5b0"/><rect x="306.13" width="5.57" height="9.05" fill="#f3c0aa"/><rect x="310.71" width="5.57" height="9.05" fill="#f2b39a"/><rect x="315.28" width="5.57" height="9.05" fill="#f2b49c"/><rect x="319.85" width="5.57" height="9.05" fill="#f3c0aa"/><rect x="324.43" width="5.57" height="9.05" fill="#f4ccba"/><rect x="329.00" width="5.57" height="9.05" fill="#f5cebd"/><rect x="333.57" width="5.57" height="9.05" fill="#f4c9b7"/><rect x="338.15" width="5.57" height="9.05" fill="#f4c8b5"/><rect x="342.72" width="5.57" height="9.05" fill="#f4c7b3"/><rect x="347.29" width="5.57" height="9.05" fill="#f3c3af"/><rect x="351.87" width="5.57" height="9.05" fill="#f4c9b7"/><rect x="356.44" width="5.57" height="9.05" fill="#f3c6b2"/><rect x="361.01" width="5.57" height="9.05" fill="#f2b59d"/><rect x="365.59" width="5.57" height="9.05" fill="#f1ae95"/><rect x="370.16" width="5.57" height="9.05" fill="#f1b098"/><rect x="374.73" width="5.57" height="9.05" fill="#f1b199"/><rect x="379.31" width="5.57" height="9.05" fill="#f1ae95"/><rect x="383.88" width="5.57" height="9.05" fill="#f1a68c"/><rect x="388.45" width="5.57" height="9.05" fill="#f0947a"/><rect x="393.03" width="5.57" height="9.05" fill="#f09278"/><rect x="397.60" width="5.57" height="9.05" fill="#f0957c"/><rect x="402.17" width="5.57" height="9.05" fill="#f0947b"/><rect x="406.75" width="5.57" height="9.05" fill="#f1a68c"/><rect x="411.32" width="5.57" height="9.05" fill="#f1af96"/><rect x="415.89" width="5.57" height="9.05" fill="#f1a289"/><rect x="420.47" width="5.57" height="9.05" fill="#f09e84"/><rect x="425.04" width="5.57" height="9.05" fill="#f1a086"/><rect x="429.61" width="5.57" height="9.05" fill="#f19f85"/><rect x="434.19" width="5.57" height="9.05" fill="#f1a38a"/><rect x="438.76" width="5.57" height="9.05" fill="#f2b7a0"/><rect x="443.33" width="5.57" height="9.05" fill="#f3c5b0"/><rect x="447.91" width="5.57" height="9.05" fill="#f3bfa9"/><rect x="452.48" width="5.57" height="9.05" fill="#f2b7a0"/><rect x="457.05" width="5.57" height="9.05" fill="#f3c6b2"/><rect x="461.63" width="5.57" height="9.05" fill="#f5d1c0"/><rect x="466.20" width="5.57" height="9.05" fill="#f5cebd"/><rect x="470.77" width="5.57" height="9.05" fill="#f3c5b0"/><rect x="475.35" width="5.57" height="9.05" fill="#f3c1ac"/><rect x="479.92" width="5.57" height="9.05" fill="#f3c5b0"/><rect x="484.49" width="5.57" height="9.05" fill="#f3bfa9"/><rect x="489.07" width="5.57" height="9.05" fill="#f2baa3"/><rect x="493.64" width="5.57" height="9.05" fill="#f2b69f"/><rect x="498.21" width="5.57" height="9.05" fill="#f2baa3"/><rect x="502.79" width="10.15" height="9.05" fill="#f3c3af"/><rect x="511.93" width="5.57" height="9.05" fill="#f3bda7"/><rect x="516.51" width="5.57" height="9.05" fill="#f2b9a2"/><rect x="521.08" width="5.57" height="9.05" fill="#f2b69f"/><rect x="525.65" width="5.57" height="9.05" fill="#f2b49c"/><rect x="530.23" width="14.72" height="9.05" fill="#f1b097"/><rect x="543.95" width="10.15" height="9.05" fill="#f2b59d"/><rect x="553.09" width="5.57" height="9.05" fill="#f1aa90"/><rect x="557.67" width="5.57" height="9.05" fill="#f1a086"/><rect x="562.24" width="5.57" height="9.05" fill="#f09d84"/><rect x="566.81" width="5.57" height="9.05" fill="#f1a188"/><rect x="571.39" width="5.57" height="9.05" fill="#f1a68c"/><rect x="575.96" width="5.57" height="9.05" fill="#f1a289"/><rect x="580.53" width="5.57" height="9.05" fill="#f1aa90"/><rect x="585.11" width="5.57" height="9.05" fill="#f2b9a2"/><rect x="589.68" width="5.57" height="9.05" fill="#f1af96"/><rect x="594.25" width="5.57" height="9.05" fill="#f09379"/><rect x="598.83" width="14.72" height="9.05" fill="#f1a88f"/></g>
<g transform="translate(0 191.612)"><rect x="45.45" width="14.72" height="9.05" fill="#f4cbb8"/><rect x="59.17" width="5.57" height="9.05" fill="#f4c7b4"/><rect x="63.75" width="5.57" height="9.05" fill="#f2b59d"/><rect x="68.32" width="5.57" height="9.05" fill="#f2b39a"/><rect x="72.89" width="5.57" height="9.05" fill="#f3c1ac"/><rect x="77.47" width="5.57" height="9.05" fill="#f4c8b5"/><rect x="82.04" width="5.57" height="9.05" fill="#f3c5b0"/><rect x="86.61" width="5.57" height="9.05" fill="#f3bfa9"/><rect x="91.19" width="5.57" height="9.05" fill="#f3c2ad"/><rect x="95.76" width="5.57" height="9.05" fill="#f4c9b7"/><rect x="100.33" width="5.57" height="9.05" fill="#f4c7b4"/><rect x="104.91" width="5.57" height="9.05" fill="#f3c3af"/><rect x="109.48" width="5.57" height="9.05" fill="#f4c8b5"/><rect x="114.05" width="5.57" height="9.05" fill="#f5cdbb"/><rect x="118.63" width="5.57" height="9.05" fill="#f4c9b7"/><rect x="123.20" width="5.57" height="9.05" fill="#f3c5b0"/><rect x="127.77" width="5.57" height="9.05" fill="#f3c3af"/><rect x="132.35" width="5.57" height="9.05" fill="#f4c8b5"/><rect x="136.92" width="5.57" height="9.05" fill="#f4cbb8"/><rect x="141.49" width="5.57" height="9.05" fill="#f2bca6"/><rect x="146.07" width="5.57" height="9.05" fill="#f2bba5"/><rect x="150.64" width="5.57" height="9.05" fill="#f4c7b3"/><rect x="155.21" width="5.57" height="9.05" fill="#f4c8b5"/><rect x="159.79" width="5.57" height="9.05" fill="#f4c7b4"/><rect x="164.36" width="5.57" height="9.05" fill="#f3c0aa"/><rect x="168.93" width="5.57" height="9.05" fill="#f1af96"/><rect x="173.51" width="5.57" height="9.05" fill="#f1a187"/><rect x="178.08" width="5.57" height="9.05" fill="#f1a188"/><rect x="182.65" width="5.57" height="9.05" fill="#f2b9a2"/><rect x="187.23" width="5.57" height="9.05" fill="#f3c5b0"/><rect x="191.80" width="5.57" height="9.05" fill="#f3c6b2"/><rect x="196.37" width="5.57" height="9.05" fill="#f3c2ad"/><rect x="200.95" width="5.57" height="9.05" fill="#f1ab92"/><rect x="205.52" width="5.57" height="9.05" fill="#f1a289"/><rect x="210.09" width="5.57" height="9.05" fill="#f1aa90"/><rect x="214.67" width="5.57" height="9.05" fill="#f1b097"/><rect x="219.24" width="5.57" height="9.05" fill="#f2b7a0"/><rect x="223.81" width="5.57" height="9.05" fill="#f2b9a2"/><rect x="228.39" width="5.57" height="9.05" fill="#f2baa3"/><rect x="232.96" width="5.57" height="9.05" fill="#f2b69f"/><rect x="237.53" width="5.57" height="9.05" fill="#f2b49c"/><rect x="242.11" width="5.57" height="9.05" fill="#f1b097"/><rect x="246.68" width="5.57" height="9.05" fill="#f1a48b"/><rect x="251.25" width="5.57" height="9.05" fill="#f1a68c"/><rect x="255.83" width="5.57" height="9.05" fill="#f1a88f"/><rect x="260.40" width="5.57" height="9.05" fill="#f2b39a"/><rect x="264.97" width="5.57" height="9.05" fill="#f2b7a0"/><rect x="269.55" width="5.57" height="9.05" fill="#f1a78e"/><rect x="274.12" width="5.57" height="9.05" fill="#f1a086"/><rect x="278.69" width="5.57" height="9.05" fill="#f19f85"/><rect x="283.27" width="5.57" height="9.05" fill="#f09b82"/><rect x="287.84" width="5.57" height="9.05" fill="#f0957c"/><rect x="292.41" width="5.57" height="9.05" fill="#f09278"/><rect x="296.99" width="5.57" height="9.05" fill="#f09379"/><rect x="301.56" width="5.57" height="9.05" fill="#ef8d73"/><rect x="306.13" width="5.57" height="9.05" fill="#ef8e75"/><rect x="310.71" width="5.57" height="9.05" fill="#f1a38a"/><rect x="315.28" width="10.15" height="9.05" fill="#f1ac93"/><rect x="324.43" width="5.57" height="9.05" fill="#f1ae95"/><rect x="329.00" width="5.57" height="9.05" fill="#f1aa90"/><rect x="333.57" width="5.57" height="9.05" fill="#f09a80"/><rect x="338.15" width="5.57" height="9.05" fill="#ef8e75"/><rect x="342.72" width="5.57" height="9.05" fill="#f0957c"/><rect x="347.29" width="5.57" height="9.05" fill="#f09a80"/><rect x="351.87" width="5.57" height="9.05" fill="#ef896f"/><rect x="356.44" width="5.57" height="9.05" fill="#ee7e65"/><rect x="361.01" width="5.57" height="9.05" fill="#ef8c72"/><rect x="365.59" width="5.57" height="9.05" fill="#f09b82"/><rect x="370.16" width="5.57" height="9.05" fill="#ef9076"/><rect x="374.73" width="5.57" height="9.05" fill="#ee6c54"/><rect x="379.31" width="5.57" height="9.05" fill="#ee654d"/><rect x="383.88" width="5.57" height="9.05" fill="#ef836a"/><rect x="388.45" width="5.57" height="9.05" fill="#f09177"/><rect x="393.03" width="5.57" height="9.05" fill="#ef856c"/><rect x="397.60" width="5.57" height="9.05" fill="#ee7c63"/><rect x="402.17" width="5.57" height="9.05" fill="#ee7e65"/><rect x="406.75" width="5.57" height="9.05" fill="#ef886e"/><rect x="411.32" width="5.57" height="9.05" fill="#ef8b71"/><rect x="415.89" width="5.57" height="9.05" fill="#ef876d"/><rect x="420.47" width="5.57" height="9.05" fill="#ef886e"/><rect x="425.04" width="5.57" height="9.05" fill="#ef896f"/><rect x="429.61" width="5.57" height="9.05" fill="#ef876d"/><rect x="434.19" width="5.57" height="9.05" fill="#ef9076"/><rect x="438.76" width="5.57" height="9.05" fill="#f0977d"/><rect x="443.33" width="5.57" height="9.05" fill="#ef8c72"/><rect x="447.91" width="5.57" height="9.05" fill="#f0987e"/><rect x="452.48" width="5.57" height="9.05" fill="#f1a78e"/><rect x="457.05" width="5.57" height="9.05" fill="#f09e84"/><rect x="461.63" width="5.57" height="9.05" fill="#f09177"/><rect x="466.20" width="5.57" height="9.05" fill="#ef866c"/><rect x="470.77" width="5.57" height="9.05" fill="#ee7f66"/><rect x="475.35" width="5.57" height="9.05" fill="#f09379"/><rect x="479.92" width="5.57" height="9.05" fill="#f1a48b"/><rect x="484.49" width="5.57" height="9.05" fill="#f1af96"/><rect x="489.07" width="5.57" height="9.05" fill="#f1ab92"/><rect x="493.64" width="5.57" height="9.05" fill="#f09b81"/><rect x="498.21" width="5.57" height="9.05" fill="#f0947a"/><rect x="502.79" width="5.57" height="9.05" fill="#ef9076"/><rect x="507.36" width="5.57" height="9.05" fill="#ef886e"/><rect x="511.93" width="5.57" height="9.05" fill="#ee8168"/><rect x="516.51" width="5.57" height="9.05" fill="#ef876d"/><rect x="521.08" width="5.57" height="9.05" fill="#ef9076"/><rect x="525.65" width="5.57" height="9.05" fill="#f0977d"/><rect x="530.23" width="5.57" height="9.05" fill="#f09b82"/><rect x="534.80" width="5.57" height="9.05" fill="#f0947a"/><rect x="539.37" width="5.57" height="9.05" fill="#f09278"/><rect x="543.95" width="5.57" height="9.05" fill="#f1ac93"/><rect x="548.52" width="5.57" height="9.05" fill="#f3bfa9"/><rect x="553.09" width="5.57" height="9.05" fill="#f1a289"/><rect x="557.67" width="5.57" height="9.05" fill="#ee7a61"/><rect x="562.24" width="5.57" height="9.05" fill="#ef8c72"/><rect x="566.81" width="5.57" height="9.05" fill="#f19f85"/><rect x="571.39" width="5.57" height="9.05" fill="#f09379"/><rect x="575.96" width="5.57" height="9.05" fill="#ef876d"/><rect x="580.53" width="5.57" height="9.05" fill="#ef8d73"/><rect x="585.11" width="5.57" height="9.05" fill="#f1a086"/><rect x="589.68" width="10.15" height="9.05" fill="#f1aa91"/><rect x="598.83" width="14.72" height="9.05" fill="#f1a48b"/></g>
<g transform="translate(0 199.665)"><rect x="45.45" width="14.72" height="9.05" fill="#f3c2ad"/><rect x="59.17" width="5.57" height="9.05" fill="#f5d2c2"/><rect x="63.75" width="5.57" height="9.05" fill="#f6d8c9"/><rect x="68.32" width="5.57" height="9.05" fill="#f6d7c8"/><rect x="72.89" width="5.57" height="9.05" fill="#f4ccba"/><rect x="77.47" width="5.57" height="9.05" fill="#f3c1ac"/><rect x="82.04" width="5.57" height="9.05" fill="#f3c0aa"/><rect x="86.61" width="5.57" height="9.05" fill="#f5cdbb"/><rect x="91.19" width="5.57" height="9.05" fill="#f7dacc"/><rect x="95.76" width="5.57" height="9.05" fill="#f6d8c9"/><rect x="100.33" width="5.57" height="9.05" fill="#f3c0aa"/><rect x="104.91" width="5.57" height="9.05" fill="#f3bfa9"/><rect x="109.48" width="5.57" height="9.05" fill="#f3c2ad"/><rect x="114.05" width="5.57" height="9.05" fill="#f6d6c8"/><rect x="118.63" width="5.57" height="9.05" fill="#f6d8c9"/><rect x="123.20" width="5.57" height="9.05" fill="#f2b7a0"/><rect x="127.77" width="5.57" height="9.05" fill="#f2bba5"/><rect x="132.35" width="5.57" height="9.05" fill="#f3c1ac"/><rect x="136.92" width="5.57" height="9.05" fill="#f4ccba"/><rect x="141.49" width="5.57" height="9.05" fill="#f5d1c0"/><rect x="146.07" width="5.57" height="9.05" fill="#f6d6c6"/><rect x="150.64" width="5.57" height="9.05" fill="#f6d8c9"/><rect x="155.21" width="10.15" height="9.05" fill="#f7d8ca"/><rect x="164.36" width="5.57" height="9.05" fill="#f6d4c5"/><rect x="168.93" width="5.57" height="9.05" fill="#f3bfa9"/><rect x="173.51" width="5.57" height="9.05" fill="#f1ae95"/><rect x="178.08" width="5.57" height="9.05" fill="#f3c6b2"/><rect x="182.65" width="5.57" height="9.05" fill="#f4c9b7"/><rect x="187.23" width="5.57" height="9.05" fill="#f2bba5"/><rect x="191.80" width="5.57" height="9.05" fill="#f1af96"/><rect x="196.37" width="5.57" height="9.05" fill="#f1ac93"/><rect x="200.95" width="5.57" height="9.05" fill="#f2b69f"/><rect x="205.52" width="10.15" height="9.05" fill="#f2b9a2"/><rect x="214.67" width="10.15" height="9.05" fill="#f2b59d"/><rect x="223.81" width="5.57" height="9.05" fill="#f2bba5"/><rect x="228.39" width="5.57" height="9.05" fill="#f4c8b5"/><rect x="232.96" width="5.57" height="9.05" fill="#f5d0bf"/><rect x="237.53" width="5.57" height="9.05" fill="#f4c7b4"/><rect x="242.11" width="5.57" height="9.05" fill="#f2b69f"/><rect x="246.68" width="5.57" height="9.05" fill="#f2b199"/><rect x="251.25" width="5.57" height="9.05" fill="#f2b7a0"/><rect x="255.83" width="5.57" height="9.05" fill="#f2bba5"/><rect x="260.40" width="5.57" height="9.05" fill="#f1ae95"/><rect x="264.97" width="5.57" height="9.05" fill="#f1ac93"/><rect x="269.55" width="5.57" height="9.05" fill="#f2b9a2"/><rect x="274.12" width="5.57" height="9.05" fill="#f09e84"/><rect x="278.69" width="5.57" height="9.05" fill="#ef866c"/><rect x="283.27" width="5.57" height="9.05" fill="#f09177"/><rect x="287.84" width="5.57" height="9.05" fill="#f0947b"/><rect x="292.41" width="5.57" height="9.05" fill="#f1a086"/><rect x="296.99" width="10.15" height="9.05" fill="#f2b69f"/><rect x="306.13" width="5.57" height="9.05" fill="#f1ae95"/><rect x="310.71" width="5.57" height="9.05" fill="#f09d84"/><rect x="315.28" width="5.57" height="9.05" fill="#f19f85"/><rect x="319.85" width="5.57" height="9.05" fill="#f1a48b"/><rect x="324.43" width="5.57" height="9.05" fill="#f19f85"/><rect x="329.00" width="5.57" height="9.05" fill="#f09379"/><rect x="333.57" width="5.57" height="9.05" fill="#f1a086"/><rect x="338.15" width="5.57" height="9.05" fill="#f1b199"/><rect x="342.72" width="5.57" height="9.05" fill="#f1ac93"/><rect x="347.29" width="5.57" height="9.05" fill="#f1ab92"/><rect x="351.87" width="5.57" height="9.05" fill="#f2b199"/><rect x="356.44" width="5.57" height="9.05" fill="#f1a188"/><rect x="361.01" width="5.57" height="9.05" fill="#ef896f"/><rect x="365.59" width="5.57" height="9.05" fill="#ef8b71"/><rect x="370.16" width="5.57" height="9.05" fill="#f1a086"/><rect x="374.73" width="5.57" height="9.05" fill="#f1aa90"/><rect x="379.31" width="5.57" height="9.05" fill="#f1a188"/><rect x="383.88" width="5.57" height="9.05" fill="#f0957c"/><rect x="388.45" width="5.57" height="9.05" fill="#f09177"/><rect x="393.03" width="5.57" height="9.05" fill="#f1a086"/><rect x="397.60" width="5.57" height="9.05" fill="#f2b59d"/><rect x="402.17" width="5.57" height="9.05" fill="#f2bca6"/><rect x="406.75" width="5.57" height="9.05" fill="#f2b59d"/><rect x="411.32" width="5.57" height="9.05" fill="#f1a38a"/><rect x="415.89" width="5.57" height="9.05" fill="#f09a80"/><rect x="420.47" width="5.57" height="9.05" fill="#f0997f"/><rect x="425.04" width="5.57" height="9.05" fill="#ef9076"/><rect x="429.61" width="5.57" height="9.05" fill="#f09a81"/><rect x="434.19" width="5.57" height="9.05" fill="#f2b7a0"/><rect x="438.76" width="5.57" height="9.05" fill="#f3c3af"/><rect x="443.33" width="5.57" height="9.05" fill="#f3c1ac"/><rect x="447.91" width="5.57" height="9.05" fill="#f3c0aa"/><rect x="452.48" width="5.57" height="9.05" fill="#f2bca6"/><rect x="457.05" width="5.57" height="9.05" fill="#f1b098"/><rect x="461.63" width="5.57" height="9.05" fill="#f19f85"/><rect x="466.20" width="5.57" height="9.05" fill="#f0997f"/><rect x="470.77" width="5.57" height="9.05" fill="#f1a187"/><rect x="475.35" width="5.57" height="9.05" fill="#f1a38a"/><rect x="479.92" width="5.57" height="9.05" fill="#f09d84"/><rect x="484.49" width="5.57" height="9.05" fill="#f1a289"/><rect x="489.07" width="5.57" height="9.05" fill="#f1a48b"/><rect x="493.64" width="5.57" height="9.05" fill="#f1a086"/><rect x="498.21" width="5.57" height="9.05" fill="#f1a68c"/><rect x="502.79" width="5.57" height="9.05" fill="#f2b39a"/><rect x="507.36" width="5.57" height="9.05" fill="#f09b82"/><rect x="511.93" width="5.57" height="9.05" fill="#ef846b"/><rect x="516.51" width="5.57" height="9.05" fill="#ef8b71"/><rect x="521.08" width="5.57" height="9.05" fill="#f09278"/><rect x="525.65" width="5.57" height="9.05" fill="#ef9076"/><rect x="530.23" width="5.57" height="9.05" fill="#ee8168"/><rect x="534.80" width="5.57" height="9.05" fill="#ef8269"/><rect x="539.37" width="5.57" height="9.05" fill="#ef8d73"/><rect x="543.95" width="5.57" height="9.05" fill="#f09379"/><rect x="548.52" width="5.57" height="9.05" fill="#f19f85"/><rect x="553.09" width="5.57" height="9.05" fill="#f1a289"/><rect x="557.67" width="5.57" height="9.05" fill="#f1a88f"/><rect x="562.24" width="5.57" height="9.05" fill="#f2b49c"/><rect x="566.81" width="5.57" height="9.05" fill="#f1af96"/><rect x="571.39" width="5.57" height="9.05" fill="#f1a68c"/><rect x="575.96" width="5.57" height="9.05" fill="#f1a38a"/><rect x="580.53" width="5.57" height="9.05" fill="#f2b49c"/><rect x="585.11" width="5.57" height="9.05" fill="#f3c1ac"/><rect x="589.68" width="5.57" height="9.05" fill="#f2bba5"/><rect x="594.25" width="5.57" height="9.05" fill="#f1aa90"/><rect x="598.83" width="14.72" height="9.05" fill="#f09e84"/></g>
<g transform="translate(0 207.718)"><rect x="45.45" width="14.72" height="9.05" fill="#f3c0aa"/><rect x="59.17" width="5.57" height="9.05" fill="#f3c3af"/><rect x="63.75" width="5.57" height="9.05" fill="#f3c1ac"/><rect x="68.32" width="5.57" height="9.05" fill="#f2baa3"/><rect x="72.89" width="5.57" height="9.05" fill="#f3c5b0"/><rect x="77.47" width="5.57" height="9.05" fill="#f4cbb8"/><rect x="82.04" width="5.57" height="9.05" fill="#f3bfa9"/><rect x="86.61" width="5.57" height="9.05" fill="#f2bca6"/><rect x="91.19" width="5.57" height="9.05" fill="#f3bda7"/><rect x="95.76" width="5.57" height="9.05" fill="#f2baa3"/><rect x="100.33" width="10.15" height="9.05" fill="#f3bda7"/><rect x="109.48" width="10.15" height="9.05" fill="#f1af96"/><rect x="118.63" width="5.57" height="9.05" fill="#f3c5b0"/><rect x="123.20" width="5.57" height="9.05" fill="#f3c6b2"/><rect x="127.77" width="5.57" height="9.05" fill="#f2b7a0"/><rect x="132.35" width="5.57" height="9.05" fill="#f2b9a2"/><rect x="136.92" width="5.57" height="9.05" fill="#f4c6b2"/><rect x="141.49" width="5.57" height="9.05" fill="#f3bfa9"/><rect x="146.07" width="5.57" height="9.05" fill="#f1a289"/><rect x="150.64" width="5.57" height="9.05" fill="#f1a78e"/><rect x="155.21" width="5.57" height="9.05" fill="#f1a38a"/><rect x="159.79" width="5.57" height="9.05" fill="#f1a289"/><rect x="164.36" width="5.57" height="9.05" fill="#f1a48b"/><rect x="168.93" width="5.57" height="9.05" fill="#f3c3af"/><rect x="173.51" width="5.57" height="9.05" fill="#f4ccba"/><rect x="178.08" width="5.57" height="9.05" fill="#f4c7b4"/><rect x="182.65" width="5.57" height="9.05" fill="#f3c3af"/><rect x="187.23" width="5.57" height="9.05" fill="#f3c0aa"/><rect x="191.80" width="5.57" height="9.05" fill="#f3c2ad"/><rect x="196.37" width="5.57" height="9.05" fill="#f4c7b4"/><rect x="200.95" width="5.57" height="9.05" fill="#f3c5b0"/><rect x="205.52" width="5.57" height="9.05" fill="#f3c2ad"/><rect x="210.09" width="5.57" height="9.05" fill="#f4c8b5"/><rect x="214.67" width="5.57" height="9.05" fill="#f5cebd"/><rect x="219.24" width="5.57" height="9.05" fill="#f6d3c3"/><rect x="223.81" width="5.57" height="9.05" fill="#f5cfbf"/><rect x="228.39" width="5.57" height="9.05" fill="#f3c2ad"/><rect x="232.96" width="5.57" height="9.05" fill="#f4ccba"/><rect x="237.53" width="5.57" height="9.05" fill="#f6d6c8"/><rect x="242.11" width="5.57" height="9.05" fill="#f6d4c5"/><rect x="246.68" width="5.57" height="9.05" fill="#f5cfbf"/><rect x="251.25" width="5.57" height="9.05" fill="#f5cebd"/><rect x="255.83" width="5.57" height="9.05" fill="#f4c8b5"/><rect x="260.40" width="5.57" height="9.05" fill="#f3c6b2"/><rect x="264.97" width="10.15" height="9.05" fill="#f3c2ad"/><rect x="274.12" width="5.57" height="9.05" fill="#f3c6b2"/><rect x="278.69" width="5.57" height="9.05" fill="#f3c5b0"/><rect x="283.27" width="5.57" height="9.05" fill="#f4c8b5"/><rect x="287.84" width="5.57" height="9.05" fill="#f4c7b4"/><rect x="292.41" width="5.57" height="9.05" fill="#f3bfa9"/><rect x="296.99" width="5.57" height="9.05" fill="#f3c3af"/><rect x="301.56" width="5.57" height="9.05" fill="#f5cdbb"/><rect x="306.13" width="5.57" height="9.05" fill="#f5cebd"/><rect x="310.71" width="10.15" height="9.05" fill="#f5d1c0"/><rect x="319.85" width="5.57" height="9.05" fill="#f4c7b3"/><rect x="324.43" width="5.57" height="9.05" fill="#f4c8b5"/><rect x="329.00" width="5.57" height="9.05" fill="#f5d2c2"/><rect x="333.57" width="5.57" height="9.05" fill="#f5cebd"/><rect x="338.15" width="5.57" height="9.05" fill="#f4c7b4"/><rect x="342.72" width="5.57" height="9.05" fill="#f3c3af"/><rect x="347.29" width="5.57" height="9.05" fill="#f3bfa9"/><rect x="351.87" width="5.57" height="9.05" fill="#f4c7b4"/><rect x="356.44" width="5.57" height="9.05" fill="#f6d4c5"/><rect x="361.01" width="5.57" height="9.05" fill="#f7d8ca"/><rect x="365.59" width="5.57" height="9.05" fill="#f6d7c8"/><rect x="370.16" width="5.57" height="9.05" fill="#f5cebd"/><rect x="374.73" width="5.57" height="9.05" fill="#f4c8b5"/><rect x="379.31" width="5.57" height="9.05" fill="#f4c7b3"/><rect x="383.88" width="5.57" height="9.05" fill="#f3bfa9"/><rect x="388.45" width="5.57" height="9.05" fill="#f1a88f"/><rect x="393.03" width="5.57" height="9.05" fill="#f1b097"/><rect x="397.60" width="5.57" height="9.05" fill="#f3bfa9"/><rect x="402.17" width="5.57" height="9.05" fill="#f4c8b5"/><rect x="406.75" width="5.57" height="9.05" fill="#f5d2c2"/><rect x="411.32" width="5.57" height="9.05" fill="#f3c5b0"/><rect x="415.89" width="5.57" height="9.05" fill="#f1ae95"/><rect x="420.47" width="5.57" height="9.05" fill="#f2b199"/><rect x="425.04" width="5.57" height="9.05" fill="#f2b9a2"/><rect x="429.61" width="5.57" height="9.05" fill="#f2b69f"/><rect x="434.19" width="5.57" height="9.05" fill="#f1a88f"/><rect x="438.76" width="10.15" height="9.05" fill="#f1a48b"/><rect x="447.91" width="5.57" height="9.05" fill="#f0947b"/><rect x="452.48" width="5.57" height="9.05" fill="#ef896f"/><rect x="457.05" width="5.57" height="9.05" fill="#f1a289"/><rect x="461.63" width="5.57" height="9.05" fill="#f2b9a2"/><rect x="466.20" width="5.57" height="9.05" fill="#f1b097"/><rect x="470.77" width="5.57" height="9.05" fill="#f1af96"/><rect x="475.35" width="5.57" height="9.05" fill="#f4c7b4"/><rect x="479.92" width="5.57" height="9.05" fill="#f5d2c2"/><rect x="484.49" width="5.57" height="9.05" fill="#f5cebd"/><rect x="489.07" width="5.57" height="9.05" fill="#f4ccba"/><rect x="493.64" width="5.57" height="9.05" fill="#f5cebd"/><rect x="498.21" width="5.57" height="9.05" fill="#f5d1c0"/><rect x="502.79" width="5.57" height="9.05" fill="#f5cebd"/><rect x="507.36" width="5.57" height="9.05" fill="#f4ccba"/><rect x="511.93" width="5.57" height="9.05" fill="#f4cbb8"/><rect x="516.51" width="5.57" height="9.05" fill="#f4c9b7"/><rect x="521.08" width="5.57" height="9.05" fill="#f5cebd"/><rect x="525.65" width="5.57" height="9.05" fill="#f5d1c0"/><rect x="530.23" width="5.57" height="9.05" fill="#f3c2ad"/><rect x="534.80" width="5.57" height="9.05" fill="#f1a086"/><rect x="539.37" width="5.57" height="9.05" fill="#f09e84"/><rect x="543.95" width="5.57" height="9.05" fill="#f3bfa9"/><rect x="548.52" width="5.57" height="9.05" fill="#f3c6b2"/><rect x="553.09" width="5.57" height="9.05" fill="#f2bba5"/><rect x="557.67" width="5.57" height="9.05" fill="#f2b59d"/><rect x="562.24" width="5.57" height="9.05" fill="#f1b199"/><rect x="566.81" width="5.57" height="9.05" fill="#f09a80"/><rect x="571.39" width="5.57" height="9.05" fill="#ef886e"/><rect x="575.96" width="5.57" height="9.05" fill="#f0947b"/><rect x="580.53" width="5.57" height="9.05" fill="#f09177"/><rect x="585.11" width="5.57" height="9.05" fill="#ee7f66"/><rect x="589.68" width="5.57" height="9.05" fill="#f09177"/><rect x="594.25" width="5.57" height="9.05" fill="#f1a086"/><rect x="598.83" width="14.72" height="9.05" fill="#f09379"/></g>
<g transform="translate(0 215.771)"><rect x="45.45" width="14.72" height="9.05" fill="#f6d5c6"/><rect x="59.17" width="5.57" height="9.05" fill="#f6d8c9"/><rect x="63.75" width="5.57" height="9.05" fill="#f6d7c8"/><rect x="68.32" width="5.57" height="9.05" fill="#f6d6c8"/><rect x="72.89" width="5.57" height="9.05" fill="#f7dacc"/><rect x="77.47" width="5.57" height="9.05" fill="#f7ddd0"/><rect x="82.04" width="5.57" height="9.05" fill="#f7dccf"/><rect x="86.61" width="10.15" height="9.05" fill="#f7dbce"/><rect x="95.76" width="5.57" height="9.05" fill="#f6d8c9"/><rect x="100.33" width="5.57" height="9.05" fill="#f6d6c7"/><rect x="104.91" width="5.57" height="9.05" fill="#f5d1c0"/><rect x="109.48" width="5.57" height="9.05" fill="#f5cdbb"/><rect x="114.05" width="5.57" height="9.05" fill="#f6d3c3"/><rect x="118.63" width="5.57" height="9.05" fill="#f6d6c8"/><rect x="123.20" width="5.57" height="9.05" fill="#f7d8ca"/><rect x="127.77" width="5.57" height="9.05" fill="#f7dbce"/><rect x="132.35" width="5.57" height="9.05" fill="#f7ddd0"/><rect x="136.92" width="5.57" height="9.05" fill="#f7dacd"/><rect x="141.49" width="5.57" height="9.05" fill="#f7dbce"/><rect x="146.07" width="5.57" height="9.05" fill="#f8ddd1"/><rect x="150.64" width="5.57" height="9.05" fill="#f6d4c5"/><rect x="155.21" width="5.57" height="9.05" fill="#f2baa3"/><rect x="159.79" width="5.57" height="9.05" fill="#f1ac93"/><rect x="164.36" width="5.57" height="9.05" fill="#f1a68c"/><rect x="168.93" width="5.57" height="9.05" fill="#f1ac93"/><rect x="173.51" width="5.57" height="9.05" fill="#f1af96"/><rect x="178.08" width="10.15" height="9.05" fill="#f1a78e"/><rect x="187.23" width="5.57" height="9.05" fill="#f1a58b"/><rect x="191.80" width="5.57" height="9.05" fill="#f09379"/><rect x="196.37" width="5.57" height="9.05" fill="#f0947b"/><rect x="200.95" width="5.57" height="9.05" fill="#f09d84"/><rect x="205.52" width="5.57" height="9.05" fill="#f09b82"/><rect x="210.09" width="5.57" height="9.05" fill="#f0987e"/><rect x="214.67" width="5.57" height="9.05" fill="#ef8b71"/><rect x="219.24" width="5.57" height="9.05" fill="#ef8a70"/><rect x="223.81" width="5.57" height="9.05" fill="#f1a38a"/><rect x="228.39" width="5.57" height="9.05" fill="#f1a88f"/><rect x="232.96" width="5.57" height="9.05" fill="#ef866c"/><rect x="237.53" width="5.57" height="9.05" fill="#ee7c63"/><rect x="242.11" width="5.57" height="9.05" fill="#f1a38a"/><rect x="246.68" width="5.57" height="9.05" fill="#f2b9a2"/><rect x="251.25" width="5.57" height="9.05" fill="#f2b7a0"/><rect x="255.83" width="5.57" height="9.05" fill="#f1ab92"/><rect x="260.40" width="5.57" height="9.05" fill="#f1a48b"/><rect x="264.97" width="5.57" height="9.05" fill="#f1a187"/><rect x="269.55" width="5.57" height="9.05" fill="#f09d84"/><rect x="274.12" width="5.57" height="9.05" fill="#f1a78e"/><rect x="278.69" width="5.57" height="9.05" fill="#f1af96"/><rect x="283.27" width="5.57" height="9.05" fill="#f1a58b"/><rect x="287.84" width="5.57" height="9.05" fill="#ef876d"/><rect x="292.41" width="5.57" height="9.05" fill="#ee755c"/><rect x="296.99" width="5.57" height="9.05" fill="#ee8067"/><rect x="301.56" width="5.57" height="9.05" fill="#ef8c72"/><rect x="306.13" width="5.57" height="9.05" fill="#ef846b"/><rect x="310.71" width="5.57" height="9.05" fill="#ee8369"/><rect x="315.28" width="5.57" height="9.05" fill="#ef876d"/><rect x="319.85" width="5.57" height="9.05" fill="#ef8d73"/><rect x="324.43" width="5.57" height="9.05" fill="#f09b82"/><rect x="329.00" width="5.57" height="9.05" fill="#f1aa90"/><rect x="333.57" width="5.57" height="9.05" fill="#f2b39a"/><rect x="338.15" width="5.57" height="9.05" fill="#f1a88f"/><rect x="342.72" width="5.57" height="9.05" fill="#f1a086"/><rect x="347.29" width="5.57" height="9.05" fill="#f1a289"/><rect x="351.87" width="5.57" height="9.05" fill="#f0947a"/><rect x="356.44" width="5.57" height="9.05" fill="#ef8b71"/><rect x="361.01" width="5.57" height="9.05" fill="#f19f85"/><rect x="365.59" width="5.57" height="9.05" fill="#f1b097"/><rect x="370.16" width="5.57" height="9.05" fill="#f1a78e"/><rect x="374.73" width="5.57" height="9.05" fill="#ef8a70"/><rect x="379.31" width="5.57" height="9.05" fill="#ee755c"/><rect x="383.88" width="5.57" height="9.05" fill="#ef846b"/><rect x="388.45" width="5.57" height="9.05" fill="#f09c83"/><rect x="393.03" width="5.57" height="9.05" fill="#f1a68c"/><rect x="397.60" width="5.57" height="9.05" fill="#f09c83"/><rect x="402.17" width="5.57" height="9.05" fill="#f0987e"/><rect x="406.75" width="5.57" height="9.05" fill="#f1a68c"/><rect x="411.32" width="10.15" height="9.05" fill="#f1b097"/><rect x="420.47" width="5.57" height="9.05" fill="#f1a187"/><rect x="425.04" width="14.72" height="9.05" fill="#f0977d"/><rect x="438.76" width="5.57" height="9.05" fill="#f1a289"/><rect x="443.33" width="5.57" height="9.05" fill="#f2b39a"/><rect x="447.91" width="5.57" height="9.05" fill="#f2b9a2"/><rect x="452.48" width="5.57" height="9.05" fill="#f1b097"/><rect x="457.05" width="5.57" height="9.05" fill="#f1a68c"/><rect x="461.63" width="5.57" height="9.05" fill="#f09b82"/><rect x="466.20" width="5.57" height="9.05" fill="#ef8d73"/><rect x="470.77" width="5.57" height="9.05" fill="#ef8269"/><rect x="475.35" width="5.57" height="9.05" fill="#ee7d64"/><rect x="479.92" width="5.57" height="9.05" fill="#ef876d"/><rect x="484.49" width="5.57" height="9.05" fill="#f0957c"/><rect x="489.07" width="5.57" height="9.05" fill="#f1a187"/><rect x="493.64" width="5.57" height="9.05" fill="#f1a086"/><rect x="498.21" width="5.57" height="9.05" fill="#ef8b71"/><rect x="502.79" width="5.57" height="9.05" fill="#ef8c72"/><rect x="507.36" width="5.57" height="9.05" fill="#ef856b"/><rect x="511.93" width="5.57" height="9.05" fill="#ee745b"/><rect x="516.51" width="10.15" height="9.05" fill="#ee7f66"/><rect x="525.65" width="5.57" height="9.05" fill="#ed745c"/><rect x="530.23" width="5.57" height="9.05" fill="#ee745b"/><rect x="534.80" width="5.57" height="9.05" fill="#ed745c"/><rect x="539.37" width="5.57" height="9.05" fill="#ed7159"/><rect x="543.95" width="5.57" height="9.05" fill="#ed725a"/><rect x="548.52" width="5.57" height="9.05" fill="#ee755c"/><rect x="553.09" width="5.57" height="9.05" fill="#ee7b62"/><rect x="557.67" width="5.57" height="9.05" fill="#ef846a"/><rect x="562.24" width="5.57" height="9.05" fill="#ee7f66"/><rect x="566.81" width="5.57" height="9.05" fill="#ef856b"/><rect x="571.39" width="5.57" height="9.05" fill="#f09a80"/><rect x="575.96" width="5.57" height="9.05" fill="#f0997f"/><rect x="580.53" width="5.57" height="9.05" fill="#f09a80"/><rect x="585.11" width="5.57" height="9.05" fill="#f2b59d"/><rect x="589.68" width="5.57" height="9.05" fill="#f2b9a2"/><rect x="594.25" width="5.57" height="9.05" fill="#f1a38a"/><rect x="598.83" width="14.72" height="9.05" fill="#f09379"/></g>
<g transform="translate(0 223.824)"><rect x="45.45" width="14.72" height="9.05" fill="#f6d6c8"/><rect x="59.17" width="5.57" height="9.05" fill="#f6d7c8"/><rect x="63.75" width="5.57" height="9.05" fill="#f6d8c9"/><rect x="68.32" width="5.57" height="9.05" fill="#f7d9cb"/><rect x="72.89" width="5.57" height="9.05" fill="#f6d6c8"/><rect x="77.47" width="5.57" height="9.05" fill="#f5cdbb"/><rect x="82.04" width="5.57" height="9.05" fill="#f4ccba"/><rect x="86.61" width="5.57" height="9.05" fill="#f5cfbf"/><rect x="91.19" width="5.57" height="9.05" fill="#f6d4c5"/><rect x="95.76" width="10.15" height="9.05" fill="#f7d8ca"/><rect x="104.91" width="5.57" height="9.05" fill="#f6d6c7"/><rect x="109.48" width="5.57" height="9.05" fill="#f6d7c8"/><rect x="114.05" width="5.57" height="9.05" fill="#f7d8ca"/><rect x="118.63" width="5.57" height="9.05" fill="#f7d9cb"/><rect x="123.20" width="5.57" height="9.05" fill="#f6d5c6"/><rect x="127.77" width="5.57" height="9.05" fill="#f5d2c2"/><rect x="132.35" width="5.57" height="9.05" fill="#f7d9cb"/><rect x="136.92" width="5.57" height="9.05" fill="#f7dbce"/><rect x="141.49" width="5.57" height="9.05" fill="#f7d9cb"/><rect x="146.07" width="5.57" height="9.05" fill="#f6d7c8"/><rect x="150.64" width="5.57" height="9.05" fill="#f7d8ca"/><rect x="155.21" width="5.57" height="9.05" fill="#f6d8c9"/><rect x="159.79" width="5.57" height="9.05" fill="#f6d3c3"/><rect x="164.36" width="5.57" height="9.05" fill="#f6d5c6"/><rect x="168.93" width="5.57" height="9.05" fill="#f6d6c7"/><rect x="173.51" width="5.57" height="9.05" fill="#f5d2c2"/><rect x="178.08" width="5.57" height="9.05" fill="#f6d6c6"/><rect x="182.65" width="5.57" height="9.05" fill="#f6d7c8"/><rect x="187.23" width="5.57" height="9.05" fill="#f5cebd"/><rect x="191.80" width="5.57" height="9.05" fill="#f4c6b2"/><rect x="196.37" width="5.57" height="9.05" fill="#f3c2ad"/><rect x="200.95" width="5.57" height="9.05" fill="#f3c6b2"/><rect x="205.52" width="5.57" height="9.05" fill="#f3c0aa"/><rect x="210.09" width="5.57" height="9.05" fill="#f2b59d"/><rect x="214.67" width="5.57" height="9.05" fill="#f2b69f"/><rect x="219.24" width="5.57" height="9.05" fill="#f2b9a2"/><rect x="223.81" width="10.15" height="9.05" fill="#f2b69f"/><rect x="232.96" width="5.57" height="9.05" fill="#f2b9a2"/><rect x="237.53" width="5.57" height="9.05" fill="#f2baa3"/><rect x="242.11" width="5.57" height="9.05" fill="#f1af96"/><rect x="246.68" width="5.57" height="9.05" fill="#f09b82"/><rect x="251.25" width="5.57" height="9.05" fill="#f09a80"/><rect x="255.83" width="10.15" height="9.05" fill="#f09e84"/><rect x="264.97" width="5.57" height="9.05" fill="#ef8e75"/><rect x="269.55" width="5.57" height="9.05" fill="#ef886e"/><rect x="274.12" width="5.57" height="9.05" fill="#ef8c72"/><rect x="278.69" width="10.15" height="9.05" fill="#ee7f66"/><rect x="287.84" width="10.15" height="9.05" fill="#ee7d64"/><rect x="296.99" width="5.57" height="9.05" fill="#ee7f66"/><rect x="301.56" width="5.57" height="9.05" fill="#ee775e"/><rect x="306.13" width="5.57" height="9.05" fill="#ef886e"/><rect x="310.71" width="5.57" height="9.05" fill="#f1a78e"/><rect x="315.28" width="5.57" height="9.05" fill="#f1aa90"/><rect x="319.85" width="5.57" height="9.05" fill="#f0997f"/><rect x="324.43" width="5.57" height="9.05" fill="#ef8e75"/><rect x="329.00" width="5.57" height="9.05" fill="#f09278"/><rect x="333.57" width="5.57" height="9.05" fill="#ef8b71"/><rect x="338.15" width="5.57" height="9.05" fill="#ee8168"/><rect x="342.72" width="5.57" height="9.05" fill="#ee8369"/><rect x="347.29" width="5.57" height="9.05" fill="#ef846a"/><rect x="351.87" width="5.57" height="9.05" fill="#ee7f66"/><rect x="356.44" width="5.57" height="9.05" fill="#ee6a52"/><rect x="361.01" width="5.57" height="9.05" fill="#ee654d"/><rect x="365.59" width="5.57" height="9.05" fill="#ee8067"/><rect x="370.16" width="5.57" height="9.05" fill="#ef8e75"/><rect x="374.73" width="5.57" height="9.05" fill="#ee7e65"/><rect x="379.31" width="5.57" height="9.05" fill="#ef664e"/><rect x="383.88" width="5.57" height="9.05" fill="#ec5745"/><rect x="388.45" width="5.57" height="9.05" fill="#ec5242"/><rect x="393.03" width="10.15" height="9.05" fill="#ed5c48"/><rect x="402.17" width="5.57" height="9.05" fill="#ec493e"/><rect x="406.75" width="5.57" height="9.05" fill="#ec3233"/><rect x="411.32" width="5.57" height="9.05" fill="#ec5544"/><rect x="415.89" width="5.57" height="9.05" fill="#ee3835"/><rect x="420.47" width="5.57" height="9.05" fill="#d51e2c"/><rect x="425.04" width="5.57" height="9.05" fill="#eb2f32"/><rect x="429.61" width="5.57" height="9.05" fill="#df242e"/><rect x="434.19" width="5.57" height="9.05" fill="#e72a30"/><rect x="438.76" width="5.57" height="9.05" fill="#ed3e38"/><rect x="443.33" width="5.57" height="9.05" fill="#ed3a36"/><rect x="447.91" width="5.57" height="9.05" fill="#ec3433"/><rect x="452.48" width="5.57" height="9.05" fill="#e62930"/><rect x="457.05" width="5.57" height="9.05" fill="#ea2e31"/><rect x="461.63" width="5.57" height="9.05" fill="#ed3c37"/><rect x="466.20" width="5.57" height="9.05" fill="#ed433b"/><rect x="470.77" width="5.57" height="9.05" fill="#ed453c"/><rect x="475.35" width="5.57" height="9.05" fill="#eb3032"/><rect x="479.92" width="5.57" height="9.05" fill="#ec4d40"/><rect x="484.49" width="5.57" height="9.05" fill="#ed3a36"/><rect x="489.07" width="5.57" height="9.05" fill="#ea2e31"/><rect x="493.64" width="5.57" height="9.05" fill="#ed423a"/><rect x="498.21" width="5.57" height="9.05" fill="#d21b2b"/><rect x="502.79" width="5.57" height="9.05" fill="#d01b2b"/><rect x="507.36" width="5.57" height="9.05" fill="#e2262f"/><rect x="511.93" width="5.57" height="9.05" fill="#ed3734"/><rect x="516.51" width="5.57" height="9.05" fill="#e62930"/><rect x="521.08" width="5.57" height="9.05" fill="#e72a30"/><rect x="525.65" width="5.57" height="9.05" fill="#bd1424"/><rect x="530.23" width="5.57" height="9.05" fill="#ce192a"/><rect x="534.80" width="5.57" height="9.05" fill="#b91323"/><rect x="539.37" width="5.57" height="9.05" fill="#c71727"/><rect x="543.95" width="5.57" height="9.05" fill="#bf1525"/><rect x="548.52" width="5.57" height="9.05" fill="#ed3835"/><rect x="553.09" width="5.57" height="9.05" fill="#df242e"/><rect x="557.67" width="5.57" height="9.05" fill="#ea2f32"/><rect x="562.24" width="5.57" height="9.05" fill="#dc232d"/><rect x="566.81" width="5.57" height="9.05" fill="#ee3634"/><rect x="571.39" width="5.57" height="9.05" fill="#ec3233"/><rect x="575.96" width="5.57" height="9.05" fill="#b61222"/><rect x="580.53" width="5.57" height="9.05" fill="#c71728"/><rect x="585.11" width="5.57" height="9.05" fill="#bf1525"/><rect x="589.68" width="5.57" height="9.05" fill="#ed3534"/><rect x="594.25" width="5.57" height="9.05" fill="#ed473d"/><rect x="598.83" width="14.72" height="9.05" fill="#ec493e"/></g>
<g transform="translate(0 231.876)"><rect x="45.45" width="14.72" height="9.05" fill="#f7dacc"/><rect x="59.17" width="5.57" height="9.05" fill="#f6d6c7"/><rect x="63.75" width="5.57" height="9.05" fill="#f6d5c6"/><rect x="68.32" width="5.57" height="9.05" fill="#f6d8c9"/><rect x="72.89" width="5.57" height="9.05" fill="#f7d9cb"/><rect x="77.47" width="5.57" height="9.05" fill="#f7dacd"/><rect x="82.04" width="5.57" height="9.05" fill="#f7dbce"/><rect x="86.61" width="10.15" height="9.05" fill="#f7dccf"/><rect x="95.76" width="5.57" height="9.05" fill="#f7dacc"/><rect x="100.33" width="5.57" height="9.05" fill="#f7d9cb"/><rect x="104.91" width="5.57" height="9.05" fill="#f7dacc"/><rect x="109.48" width="5.57" height="9.05" fill="#f7d8ca"/><rect x="114.05" width="5.57" height="9.05" fill="#f7d9cb"/><rect x="118.63" width="5.57" height="9.05" fill="#f7dbce"/><rect x="123.20" width="5.57" height="9.05" fill="#f7dccf"/><rect x="127.77" width="5.57" height="9.05" fill="#f7d9cb"/><rect x="132.35" width="5.57" height="9.05" fill="#f6d7c8"/><rect x="136.92" width="5.57" height="9.05" fill="#f7dacc"/><rect x="141.49" width="5.57" height="9.05" fill="#f6d8c9"/><rect x="146.07" width="5.57" height="9.05" fill="#f6d5c6"/><rect x="150.64" width="5.57" height="9.05" fill="#f7dacc"/><rect x="155.21" width="10.15" height="9.05" fill="#f7dbce"/><rect x="164.36" width="5.57" height="9.05" fill="#f7d9cb"/><rect x="168.93" width="5.57" height="9.05" fill="#f5cfbf"/><rect x="173.51" width="5.57" height="9.05" fill="#f5d1c0"/><rect x="178.08" width="5.57" height="9.05" fill="#f6d7c8"/><rect x="182.65" width="5.57" height="9.05" fill="#f6d6c6"/><rect x="187.23" width="5.57" height="9.05" fill="#f5d1c0"/><rect x="191.80" width="5.57" height="9.05" fill="#f6d3c3"/><rect x="196.37" width="5.57" height="9.05" fill="#f6d4c5"/><rect x="200.95" width="5.57" height="9.05" fill="#f5d2c2"/><rect x="205.52" width="5.57" height="9.05" fill="#f6d4c5"/><rect x="210.09" width="5.57" height="9.05" fill="#f6d3c3"/><rect x="214.67" width="14.72" height="9.05" fill="#f5cfbf"/><rect x="228.39" width="5.57" height="9.05" fill="#f3c6b2"/><rect x="232.96" width="5.57" height="9.05" fill="#f1ae95"/><rect x="237.53" width="5.57" height="9.05" fill="#f1a88f"/><rect x="242.11" width="5.57" height="9.05" fill="#f1b097"/><rect x="246.68" width="5.57" height="9.05" fill="#f3c2ad"/><rect x="251.25" width="5.57" height="9.05" fill="#f5cebd"/><rect x="255.83" width="5.57" height="9.05" fill="#f4cbb8"/><rect x="260.40" width="10.15" height="9.05" fill="#f4c8b5"/><rect x="269.55" width="5.57" height="9.05" fill="#f3c1ac"/><rect x="274.12" width="5.57" height="9.05" fill="#f2b39a"/><rect x="278.69" width="5.57" height="9.05" fill="#f09c83"/><rect x="283.27" width="5.57" height="9.05" fill="#f19f85"/><rect x="287.84" width="5.57" height="9.05" fill="#f1aa90"/><rect x="292.41" width="5.57" height="9.05" fill="#f1a086"/><rect x="296.99" width="5.57" height="9.05" fill="#f1a68c"/><rect x="301.56" width="5.57" height="9.05" fill="#f3c1ac"/><rect x="306.13" width="5.57" height="9.05" fill="#f4c9b7"/><rect x="310.71" width="5.57" height="9.05" fill="#f3bda7"/><rect x="315.28" width="5.57" height="9.05" fill="#f1af96"/><rect x="319.85" width="5.57" height="9.05" fill="#f2b9a2"/><rect x="324.43" width="5.57" height="9.05" fill="#f3bda7"/><rect x="329.00" width="5.57" height="9.05" fill="#f2b7a0"/><rect x="333.57" width="5.57" height="9.05" fill="#f3c1ac"/><rect x="338.15" width="5.57" height="9.05" fill="#f3c3af"/><rect x="342.72" width="5.57" height="9.05" fill="#f3bfa9"/><rect x="347.29" width="5.57" height="9.05" fill="#f4cbb8"/><rect x="351.87" width="5.57" height="9.05" fill="#f7d8ca"/><rect x="356.44" width="5.57" height="9.05" fill="#f6d6c6"/><rect x="361.01" width="5.57" height="9.05" fill="#f4ccba"/><rect x="365.59" width="5.57" height="9.05" fill="#f4c8b5"/><rect x="370.16" width="5.57" height="9.05" fill="#f3c1ac"/><rect x="374.73" width="5.57" height="9.05" fill="#f3bfa9"/><rect x="379.31" width="5.57" height="9.05" fill="#f3c1ac"/><rect x="383.88" width="5.57" height="9.05" fill="#f4c8b5"/><rect x="388.45" width="5.57" height="9.05" fill="#f6d3c3"/><rect x="393.03" width="5.57" height="9.05" fill="#f6d4c5"/><rect x="397.60" width="5.57" height="9.05" fill="#f5d1c0"/><rect x="402.17" width="5.57" height="9.05" fill="#f3c5b0"/><rect x="406.75" width="5.57" height="9.05" fill="#f2b9a2"/><rect x="411.32" width="5.57" height="9.05" fill="#f3c0aa"/><rect x="415.89" width="5.57" height="9.05" fill="#f4ccba"/><rect x="420.47" width="5.57" height="9.05" fill="#f6d3c3"/><rect x="425.04" width="5.57" height="9.05" fill="#f5cfbf"/><rect x="429.61" width="5.57" height="9.05" fill="#f4cbb8"/><rect x="434.19" width="5.57" height="9.05" fill="#f4c8b5"/><rect x="438.76" width="5.57" height="9.05" fill="#f3c0aa"/><rect x="443.33" width="5.57" height="9.05" fill="#f3bda7"/><rect x="447.91" width="5.57" height="9.05" fill="#f3c6b2"/><rect x="452.48" width="5.57" height="9.05" fill="#f5cdbb"/><rect x="457.05" width="5.57" height="9.05" fill="#f5d1c0"/><rect x="461.63" width="5.57" height="9.05" fill="#f4cbb8"/><rect x="466.20" width="5.57" height="9.05" fill="#f5cfbf"/><rect x="470.77" width="5.57" height="9.05" fill="#f6d6c8"/><rect x="475.35" width="5.57" height="9.05" fill="#f6d4c5"/><rect x="479.92" width="5.57" height="9.05" fill="#f5d1c0"/><rect x="484.49" width="5.57" height="9.05" fill="#f4c9b7"/><rect x="489.07" width="5.57" height="9.05" fill="#f4c6b2"/><rect x="493.64" width="5.57" height="9.05" fill="#f3c3af"/><rect x="498.21" width="5.57" height="9.05" fill="#f3c0aa"/><rect x="502.79" width="5.57" height="9.05" fill="#f4c8b5"/><rect x="507.36" width="5.57" height="9.05" fill="#f5cfbf"/><rect x="511.93" width="5.57" height="9.05" fill="#f5cdbb"/><rect x="516.51" width="5.57" height="9.05" fill="#f5cebd"/><rect x="521.08" width="5.57" height="9.05" fill="#f5cfbf"/><rect x="525.65" width="5.57" height="9.05" fill="#f4c9b7"/><rect x="530.23" width="5.57" height="9.05" fill="#f4cbb8"/><rect x="534.80" width="5.57" height="9.05" fill="#f6d6c6"/><rect x="539.37" width="5.57" height="9.05" fill="#f6d7c8"/><rect x="543.95" width="5.57" height="9.05" fill="#f4c8b5"/><rect x="548.52" width="5.57" height="9.05" fill="#f3bda7"/><rect x="553.09" width="5.57" height="9.05" fill="#f3c1ac"/><rect x="557.67" width="10.15" height="9.05" fill="#f3bda7"/><rect x="566.81" width="5.57" height="9.05" fill="#f3c3af"/><rect x="571.39" width="5.57" height="9.05" fill="#f4c7b4"/><rect x="575.96" width="5.57" height="9.05" fill="#f5d1c0"/><rect x="580.53" width="5.57" height="9.05" fill="#f6d6c7"/><rect x="585.11" width="5.57" height="9.05" fill="#f6d3c3"/><rect x="589.68" width="5.57" height="9.05" fill="#f5cfbf"/><rect x="594.25" width="5.57" height="9.05" fill="#f3c6b2"/><rect x="598.83" width="14.72" height="9.05" fill="#f3bda7"/></g>
<g transform="translate(0 239.929)"><rect x="45.45" width="14.72" height="9.05" fill="#f3bda7"/><rect x="59.17" width="5.57" height="9.05" fill="#f3c2ad"/><rect x="63.75" width="10.15" height="9.05" fill="#f5d1c0"/><rect x="72.89" width="5.57" height="9.05" fill="#f3c0aa"/><rect x="77.47" width="5.57" height="9.05" fill="#f3bda7"/><rect x="82.04" width="5.57" height="9.05" fill="#f3c5b0"/><rect x="86.61" width="5.57" height="9.05" fill="#f5d1c0"/><rect x="91.19" width="5.57" height="9.05" fill="#f3c1ac"/><rect x="95.76" width="10.15" height="9.05" fill="#f2bca6"/><rect x="104.91" width="5.57" height="9.05" fill="#f4ccba"/><rect x="109.48" width="5.57" height="9.05" fill="#f4c8b5"/><rect x="114.05" width="5.57" height="9.05" fill="#f5cfbf"/><rect x="118.63" width="5.57" height="9.05" fill="#f5cdbb"/><rect x="123.20" width="5.57" height="9.05" fill="#f3bfa9"/><rect x="127.77" width="5.57" height="9.05" fill="#f2b9a2"/><rect x="132.35" width="5.57" height="9.05" fill="#f3bfa9"/><rect x="136.92" width="10.15" height="9.05" fill="#f3c2ad"/><rect x="146.07" width="5.57" height="9.05" fill="#f3bfa9"/><rect x="150.64" width="5.57" height="9.05" fill="#f3c3af"/><rect x="155.21" width="5.57" height="9.05" fill="#f3c6b2"/><rect x="159.79" width="5.57" height="9.05" fill="#f4c6b2"/><rect x="164.36" width="5.57" height="9.05" fill="#f4c9b7"/><rect x="168.93" width="5.57" height="9.05" fill="#f4c7b4"/><rect x="173.51" width="5.57" height="9.05" fill="#f3c6b2"/><rect x="178.08" width="5.57" height="9.05" fill="#f3c0aa"/><rect x="182.65" width="5.57" height="9.05" fill="#f1a78e"/><rect x="187.23" width="5.57" height="9.05" fill="#f0987e"/><rect x="191.80" width="5.57" height="9.05" fill="#f1a68c"/><rect x="196.37" width="5.57" height="9.05" fill="#f2b49c"/><rect x="200.95" width="5.57" height="9.05" fill="#f2b199"/><rect x="205.52" width="5.57" height="9.05" fill="#f1ac93"/><rect x="210.09" width="5.57" height="9.05" fill="#f1aa90"/><rect x="214.67" width="5.57" height="9.05" fill="#f09c83"/><rect x="219.24" width="5.57" height="9.05" fill="#f0947b"/><rect x="223.81" width="5.57" height="9.05" fill="#f1a88f"/><rect x="228.39" width="5.57" height="9.05" fill="#f2b9a2"/><rect x="232.96" width="5.57" height="9.05" fill="#f2bca6"/><rect x="237.53" width="5.57" height="9.05" fill="#f4c9b7"/><rect x="242.11" width="5.57" height="9.05" fill="#f5cdbb"/><rect x="246.68" width="5.57" height="9.05" fill="#f2b69f"/><rect x="251.25" width="5.57" height="9.05" fill="#f09d84"/><rect x="255.83" width="5.57" height="9.05" fill="#f1ac93"/><rect x="260.40" width="5.57" height="9.05" fill="#f4ccba"/><rect x="264.97" width="5.57" height="9.05" fill="#f7d9cb"/><rect x="269.55" width="5.57" height="9.05" fill="#f5cfbf"/><rect x="274.12" width="5.57" height="9.05" fill="#f2bca6"/><rect x="278.69" width="10.15" height="9.05" fill="#f2b9a2"/><rect x="287.84" width="10.15" height="9.05" fill="#f3c0aa"/><rect x="296.99" width="5.57" height="9.05" fill="#f2bca6"/><rect x="301.56" width="5.57" height="9.05" fill="#f3c3af"/><rect x="306.13" width="5.57" height="9.05" fill="#f4c9b7"/><rect x="310.71" width="5.57" height="9.05" fill="#f3c2ad"/><rect x="315.28" width="5.57" height="9.05" fill="#f2baa3"/><rect x="319.85" width="5.57" height="9.05" fill="#f3c1ac"/><rect x="324.43" width="5.57" height="9.05" fill="#f4c7b4"/><rect x="329.00" width="5.57" height="9.05" fill="#f4c6b2"/><rect x="333.57" width="5.57" height="9.05" fill="#f3c1ac"/><rect x="338.15" width="5.57" height="9.05" fill="#f2b49c"/><rect x="342.72" width="5.57" height="9.05" fill="#f1a88f"/><rect x="347.29" width="5.57" height="9.05" fill="#f1af96"/><rect x="351.87" width="5.57" height="9.05" fill="#f2b69f"/><rect x="356.44" width="5.57" height="9.05" fill="#f2bba5"/><rect x="361.01" width="5.57" height="9.05" fill="#f3c2ad"/><rect x="365.59" width="5.57" height="9.05" fill="#f4c8b5"/><rect x="370.16" width="5.57" height="9.05" fill="#f2bba5"/><rect x="374.73" width="5.57" height="9.05" fill="#f1ac93"/><rect x="379.31" width="5.57" height="9.05" fill="#f1af96"/><rect x="383.88" width="5.57" height="9.05" fill="#f2b59d"/><rect x="388.45" width="5.57" height="9.05" fill="#f3bda7"/><rect x="393.03" width="5.57" height="9.05" fill="#f2bba5"/><rect x="397.60" width="5.57" height="9.05" fill="#f1b199"/><rect x="402.17" width="5.57" height="9.05" fill="#f1ae95"/><rect x="406.75" width="5.57" height="9.05" fill="#f1a68c"/><rect x="411.32" width="5.57" height="9.05" fill="#f2b59d"/><rect x="415.89" width="5.57" height="9.05" fill="#f5d2c2"/><rect x="420.47" width="5.57" height="9.05" fill="#f6d6c6"/><rect x="425.04" width="5.57" height="9.05" fill="#f4c8b5"/><rect x="429.61" width="5.57" height="9.05" fill="#f3c0aa"/><rect x="434.19" width="5.57" height="9.05" fill="#f3c1ac"/><rect x="438.76" width="5.57" height="9.05" fill="#f3c5b0"/><rect x="443.33" width="5.57" height="9.05" fill="#f4c8b5"/><rect x="447.91" width="5.57" height="9.05" fill="#f4c6b2"/><rect x="452.48" width="5.57" height="9.05" fill="#f2b7a0"/><rect x="457.05" width="5.57" height="9.05" fill="#f1aa90"/><rect x="461.63" width="5.57" height="9.05" fill="#f1a68c"/><rect x="466.20" width="5.57" height="9.05" fill="#f0977d"/><rect x="470.77" width="5.57" height="9.05" fill="#f1a48b"/><rect x="475.35" width="5.57" height="9.05" fill="#f3bda7"/><rect x="479.92" width="5.57" height="9.05" fill="#f3c0aa"/><rect x="484.49" width="5.57" height="9.05" fill="#f3c3af"/><rect x="489.07" width="10.15" height="9.05" fill="#f6d4c5"/><rect x="498.21" width="10.15" height="9.05" fill="#f4c9b7"/><rect x="507.36" width="5.57" height="9.05" fill="#f3c3af"/><rect x="511.93" width="5.57" height="9.05" fill="#f3c6b2"/><rect x="516.51" width="5.57" height="9.05" fill="#f5cdbb"/><rect x="521.08" width="5.57" height="9.05" fill="#f3c1ac"/><rect x="525.65" width="5.57" height="9.05" fill="#f1ae95"/><rect x="530.23" width="5.57" height="9.05" fill="#f1aa90"/><rect x="534.80" width="5.57" height="9.05" fill="#f1b097"/><rect x="539.37" width="5.57" height="9.05" fill="#f2b39a"/><rect x="543.95" width="5.57" height="9.05" fill="#f2b9a2"/><rect x="548.52" width="5.57" height="9.05" fill="#f2baa3"/><rect x="553.09" width="5.57" height="9.05" fill="#f1af96"/><rect x="557.67" width="5.57" height="9.05" fill="#f1ab92"/><rect x="562.24" width="5.57" height="9.05" fill="#f1b097"/><rect x="566.81" width="5.57" height="9.05" fill="#f2b49c"/><rect x="571.39" width="5.57" height="9.05" fill="#f2bba5"/><rect x="575.96" width="5.57" height="9.05" fill="#f4c7b4"/><rect x="580.53" width="5.57" height="9.05" fill="#f4c7b3"/><rect x="585.11" width="5.57" height="9.05" fill="#f2bca6"/><rect x="589.68" width="5.57" height="9.05" fill="#f3c1ac"/><rect x="594.25" width="5.57" height="9.05" fill="#f3c6b2"/><rect x="598.83" width="14.72" height="9.05" fill="#f4c8b5"/></g>
<g transform="translate(0 247.982)"><rect x="45.45" width="14.72" height="9.05" fill="#f6d4c5"/><rect x="59.17" width="5.57" height="9.05" fill="#f7d8ca"/><rect x="63.75" width="5.57" height="9.05" fill="#f6d8c9"/><rect x="68.32" width="5.57" height="9.05" fill="#f5cebd"/><rect x="72.89" width="5.57" height="9.05" fill="#f6d3c3"/><rect x="77.47" width="5.57" height="9.05" fill="#f7dbce"/><rect x="82.04" width="5.57" height="9.05" fill="#f8ded1"/><rect x="86.61" width="5.57" height="9.05" fill="#f8e0d4"/><rect x="91.19" width="5.57" height="9.05" fill="#f8e1d6"/><rect x="95.76" width="5.57" height="9.05" fill="#f8e0d4"/><rect x="100.33" width="5.57" height="9.05" fill="#f7dbce"/><rect x="104.91" width="5.57" height="9.05" fill="#f6d3c3"/><rect x="109.48" width="5.57" height="9.05" fill="#f4c8b5"/><rect x="114.05" width="5.57" height="9.05" fill="#f4c6b2"/><rect x="118.63" width="5.57" height="9.05" fill="#f3c5b0"/><rect x="123.20" width="5.57" height="9.05" fill="#f4ccba"/><rect x="127.77" width="10.15" height="9.05" fill="#f7d8ca"/><rect x="136.92" width="5.57" height="9.05" fill="#f5d2c2"/><rect x="141.49" width="10.15" height="9.05" fill="#f3c5b0"/><rect x="150.64" width="5.57" height="9.05" fill="#f5d2c2"/><rect x="155.21" width="5.57" height="9.05" fill="#f5cebd"/><rect x="159.79" width="5.57" height="9.05" fill="#f2b59d"/><rect x="164.36" width="5.57" height="9.05" fill="#f1ae95"/><rect x="168.93" width="5.57" height="9.05" fill="#f1b097"/><rect x="173.51" width="5.57" height="9.05" fill="#f2baa3"/><rect x="178.08" width="5.57" height="9.05" fill="#f3c1ac"/><rect x="182.65" width="5.57" height="9.05" fill="#f2b39a"/><rect x="187.23" width="5.57" height="9.05" fill="#f1a38a"/><rect x="191.80" width="5.57" height="9.05" fill="#f09c83"/><rect x="196.37" width="5.57" height="9.05" fill="#f1a88f"/><rect x="200.95" width="5.57" height="9.05" fill="#f2bca6"/><rect x="205.52" width="5.57" height="9.05" fill="#f2b7a0"/><rect x="210.09" width="5.57" height="9.05" fill="#f2b39a"/><rect x="214.67" width="5.57" height="9.05" fill="#f2bca6"/><rect x="219.24" width="10.15" height="9.05" fill="#f2b9a2"/><rect x="228.39" width="5.57" height="9.05" fill="#f4c8b5"/><rect x="232.96" width="5.57" height="9.05" fill="#f4c7b4"/><rect x="237.53" width="5.57" height="9.05" fill="#f2baa3"/><rect x="242.11" width="5.57" height="9.05" fill="#f2b199"/><rect x="246.68" width="5.57" height="9.05" fill="#f2baa3"/><rect x="251.25" width="5.57" height="9.05" fill="#f2bca6"/><rect x="255.83" width="5.57" height="9.05" fill="#f2baa3"/><rect x="260.40" width="5.57" height="9.05" fill="#f2bca6"/><rect x="264.97" width="5.57" height="9.05" fill="#f2baa3"/><rect x="269.55" width="5.57" height="9.05" fill="#f2bba5"/><rect x="274.12" width="5.57" height="9.05" fill="#f3bda7"/><rect x="278.69" width="5.57" height="9.05" fill="#f2b69f"/><rect x="283.27" width="5.57" height="9.05" fill="#f2bca6"/><rect x="287.84" width="5.57" height="9.05" fill="#f4c9b7"/><rect x="292.41" width="5.57" height="9.05" fill="#f4c7b4"/><rect x="296.99" width="10.15" height="9.05" fill="#f3c6b2"/><rect x="306.13" width="5.57" height="9.05" fill="#f2baa3"/><rect x="310.71" width="5.57" height="9.05" fill="#f1b097"/><rect x="315.28" width="5.57" height="9.05" fill="#f2baa3"/><rect x="319.85" width="5.57" height="9.05" fill="#f3c5b0"/><rect x="324.43" width="5.57" height="9.05" fill="#f4ccba"/><rect x="329.00" width="10.15" height="9.05" fill="#f4c9b7"/><rect x="338.15" width="5.57" height="9.05" fill="#f1ab92"/><rect x="342.72" width="5.57" height="9.05" fill="#ed3534"/><rect x="347.29" width="5.57" height="9.05" fill="#c31626"/><rect x="351.87" width="10.15" height="9.05" fill="#870616"/><rect x="361.01" width="5.57" height="9.05" fill="#b71322"/><rect x="365.59" width="5.57" height="9.05" fill="#ce192a"/><rect x="370.16" width="5.57" height="9.05" fill="#c31626"/><rect x="374.73" width="5.57" height="9.05" fill="#9b0b1a"/><rect x="379.31" width="5.57" height="9.05" fill="#910818"/><rect x="383.88" width="5.57" height="9.05" fill="#c31626"/><rect x="388.45" width="5.57" height="9.05" fill="#d51e2c"/><rect x="393.03" width="5.57" height="9.05" fill="#da212d"/><rect x="397.60" width="5.57" height="9.05" fill="#ed3534"/><rect x="402.17" width="5.57" height="9.05" fill="#ed7159"/><rect x="406.75" width="5.57" height="9.05" fill="#f3c5b0"/><rect x="411.32" width="5.57" height="9.05" fill="#f3c1ac"/><rect x="415.89" width="5.57" height="9.05" fill="#f09e84"/><rect x="420.47" width="5.57" height="9.05" fill="#ef8c72"/><rect x="425.04" width="5.57" height="9.05" fill="#ee7b62"/><rect x="429.61" width="5.57" height="9.05" fill="#ee6b53"/><rect x="434.19" width="5.57" height="9.05" fill="#ed5e4a"/><rect x="438.76" width="5.57" height="9.05" fill="#ed3e38"/><rect x="443.33" width="5.57" height="9.05" fill="#e62930"/><rect x="447.91" width="5.57" height="9.05" fill="#d51e2c"/><rect x="452.48" width="5.57" height="9.05" fill="#c81728"/><rect x="457.05" width="10.15" height="9.05" fill="#c31626"/><rect x="466.20" width="5.57" height="9.05" fill="#b31121"/><rect x="470.77" width="5.57" height="9.05" fill="#ae101f"/><rect x="475.35" width="5.57" height="9.05" fill="#b61222"/><rect x="479.92" width="5.57" height="9.05" fill="#d61e2c"/><rect x="484.49" width="5.57" height="9.05" fill="#e52930"/><rect x="489.07" width="5.57" height="9.05" fill="#d21c2b"/><rect x="493.64" width="5.57" height="9.05" fill="#bf1525"/><rect x="498.21" width="5.57" height="9.05" fill="#d31c2b"/><rect x="502.79" width="5.57" height="9.05" fill="#e92c31"/><rect x="507.36" width="5.57" height="9.05" fill="#ed4039"/><rect x="511.93" width="5.57" height="9.05" fill="#ec4d40"/><rect x="516.51" width="5.57" height="9.05" fill="#ed5846"/><rect x="521.08" width="5.57" height="9.05" fill="#ee634d"/><rect x="525.65" width="5.57" height="9.05" fill="#ef674f"/><rect x="530.23" width="5.57" height="9.05" fill="#ee624c"/><rect x="534.80" width="5.57" height="9.05" fill="#ed7057"/><rect x="539.37" width="5.57" height="9.05" fill="#ee755c"/><rect x="543.95" width="5.57" height="9.05" fill="#ee6b53"/><rect x="548.52" width="5.57" height="9.05" fill="#ee7a61"/><rect x="553.09" width="5.57" height="9.05" fill="#ef896f"/><rect x="557.67" width="5.57" height="9.05" fill="#ef8269"/><rect x="562.24" width="5.57" height="9.05" fill="#ef896f"/><rect x="566.81" width="5.57" height="9.05" fill="#ef8b71"/><rect x="571.39" width="5.57" height="9.05" fill="#ee785f"/><rect x="575.96" width="5.57" height="9.05" fill="#ee6a52"/><rect x="580.53" width="5.57" height="9.05" fill="#ee755c"/><rect x="585.11" width="5.57" height="9.05" fill="#ee8067"/><rect x="589.68" width="5.57" height="9.05" fill="#ef846a"/><rect x="594.25" width="5.57" height="9.05" fill="#ef8d73"/><rect x="598.83" width="14.72" height="9.05" fill="#f0987e"/></g>
<g transform="translate(0 256.035)"><rect x="45.45" width="14.72" height="9.05" fill="#f7dbce"/><rect x="59.17" width="5.57" height="9.05" fill="#f6d7c8"/><rect x="63.75" width="5.57" height="9.05" fill="#f5d1c0"/><rect x="68.32" width="5.57" height="9.05" fill="#f6d4c5"/><rect x="72.89" width="5.57" height="9.05" fill="#f6d7c8"/><rect x="77.47" width="5.57" height="9.05" fill="#f6d8c9"/><rect x="82.04" width="5.57" height="9.05" fill="#f7dacc"/><rect x="86.61" width="5.57" height="9.05" fill="#f6d8c9"/><rect x="91.19" width="5.57" height="9.05" fill="#f6d6c6"/><rect x="95.76" width="5.57" height="9.05" fill="#f6d8c9"/><rect x="100.33" width="10.15" height="9.05" fill="#f7d8ca"/><rect x="109.48" width="5.57" height="9.05" fill="#f7dacc"/><rect x="114.05" width="5.57" height="9.05" fill="#f7d8ca"/><rect x="118.63" width="5.57" height="9.05" fill="#f7d9cb"/><rect x="123.20" width="5.57" height="9.05" fill="#f7dacd"/><rect x="127.77" width="5.57" height="9.05" fill="#f6d6c7"/><rect x="132.35" width="5.57" height="9.05" fill="#f5d1c0"/><rect x="136.92" width="5.57" height="9.05" fill="#f6d6c6"/><rect x="141.49" width="5.57" height="9.05" fill="#f7d8ca"/><rect x="146.07" width="5.57" height="9.05" fill="#f6d8c9"/><rect x="150.64" width="5.57" height="9.05" fill="#f6d3c3"/><rect x="155.21" width="5.57" height="9.05" fill="#f4cbb8"/><rect x="159.79" width="5.57" height="9.05" fill="#f3c1ac"/><rect x="164.36" width="5.57" height="9.05" fill="#f3c2ad"/><rect x="168.93" width="5.57" height="9.05" fill="#f5d2c2"/><rect x="173.51" width="5.57" height="9.05" fill="#f7dacd"/><rect x="178.08" width="5.57" height="9.05" fill="#f7d9cb"/><rect x="182.65" width="10.15" height="9.05" fill="#f5d2c2"/><rect x="191.80" width="5.57" height="9.05" fill="#f6d8c9"/><rect x="196.37" width="5.57" height="9.05" fill="#f6d6c8"/><rect x="200.95" width="5.57" height="9.05" fill="#f6d3c3"/><rect x="205.52" width="5.57" height="9.05" fill="#f6d5c6"/><rect x="210.09" width="5.57" height="9.05" fill="#f4ccba"/><rect x="214.67" width="5.57" height="9.05" fill="#f3bda7"/><rect x="219.24" width="10.15" height="9.05" fill="#f2bca6"/><rect x="228.39" width="5.57" height="9.05" fill="#f4c7b3"/><rect x="232.96" width="5.57" height="9.05" fill="#f5cfbf"/><rect x="237.53" width="5.57" height="9.05" fill="#f5cdbb"/><rect x="242.11" width="5.57" height="9.05" fill="#f5cebd"/><rect x="246.68" width="5.57" height="9.05" fill="#f6d6c6"/><rect x="251.25" width="5.57" height="9.05" fill="#f6d8ca"/><rect x="255.83" width="5.57" height="9.05" fill="#f6d4c5"/><rect x="260.40" width="5.57" height="9.05" fill="#f4ccba"/><rect x="264.97" width="5.57" height="9.05" fill="#f4c6b2"/><rect x="269.55" width="5.57" height="9.05" fill="#f4c7b4"/><rect x="274.12" width="5.57" height="9.05" fill="#f5cfbf"/><rect x="278.69" width="5.57" height="9.05" fill="#f5d2c2"/><rect x="283.27" width="10.15" height="9.05" fill="#f5cebd"/><rect x="292.41" width="5.57" height="9.05" fill="#f4c9b7"/><rect x="296.99" width="10.15" height="9.05" fill="#f3bda7"/><rect x="306.13" width="5.57" height="9.05" fill="#f2b9a2"/><rect x="310.71" width="5.57" height="9.05" fill="#f1af96"/><rect x="315.28" width="5.57" height="9.05" fill="#f2b199"/><rect x="319.85" width="5.57" height="9.05" fill="#f1b199"/><rect x="324.43" width="5.57" height="9.05" fill="#f1ae95"/><rect x="329.00" width="5.57" height="9.05" fill="#f1ab92"/><rect x="333.57" width="5.57" height="9.05" fill="#f1af96"/><rect x="338.15" width="5.57" height="9.05" fill="#f2b69f"/><rect x="342.72" width="5.57" height="9.05" fill="#f3bfa9"/><rect x="347.29" width="5.57" height="9.05" fill="#f3c6b2"/><rect x="351.87" width="5.57" height="9.05" fill="#f4c8b5"/><rect x="356.44" width="5.57" height="9.05" fill="#f4c7b4"/><rect x="361.01" width="5.57" height="9.05" fill="#f3bfa9"/><rect x="365.59" width="5.57" height="9.05" fill="#f2bca6"/><rect x="370.16" width="5.57" height="9.05" fill="#f4cbb8"/><rect x="374.73" width="5.57" height="9.05" fill="#f6d3c3"/><rect x="379.31" width="5.57" height="9.05" fill="#f5d2c2"/><rect x="383.88" width="5.57" height="9.05" fill="#f4c9b7"/><rect x="388.45" width="5.57" height="9.05" fill="#f3c2ad"/><rect x="393.03" width="5.57" height="9.05" fill="#f3c6b2"/><rect x="397.60" width="5.57" height="9.05" fill="#f5cebd"/><rect x="402.17" width="5.57" height="9.05" fill="#f6d4c5"/><rect x="406.75" width="5.57" height="9.05" fill="#f5cdbb"/><rect x="411.32" width="5.57" height="9.05" fill="#f3c5b0"/><rect x="415.89" width="5.57" height="9.05" fill="#f5cdbb"/><rect x="420.47" width="5.57" height="9.05" fill="#f5cfbf"/><rect x="425.04" width="5.57" height="9.05" fill="#f3c3af"/><rect x="429.61" width="5.57" height="9.05" fill="#f2b49c"/><rect x="434.19" width="5.57" height="9.05" fill="#f1ac93"/><rect x="438.76" width="5.57" height="9.05" fill="#f2b9a2"/><rect x="443.33" width="5.57" height="9.05" fill="#f3c1ac"/><rect x="447.91" width="5.57" height="9.05" fill="#f3c0aa"/><rect x="452.48" width="10.15" height="9.05" fill="#f3c5b0"/><rect x="461.63" width="5.57" height="9.05" fill="#f2b69f"/><rect x="466.20" width="5.57" height="9.05" fill="#f2b49c"/><rect x="470.77" width="5.57" height="9.05" fill="#f3c2ad"/><rect x="475.35" width="5.57" height="9.05" fill="#f3c5b0"/><rect x="479.92" width="5.57" height="9.05" fill="#f3c0aa"/><rect x="484.49" width="5.57" height="9.05" fill="#f3c2ad"/><rect x="489.07" width="10.15" height="9.05" fill="#f4c7b4"/><rect x="498.21" width="5.57" height="9.05" fill="#f4c7b3"/><rect x="502.79" width="5.57" height="9.05" fill="#f4ccba"/><rect x="507.36" width="5.57" height="9.05" fill="#f5cfbf"/><rect x="511.93" width="5.57" height="9.05" fill="#f5d2c2"/><rect x="516.51" width="5.57" height="9.05" fill="#f6d6c6"/><rect x="521.08" width="5.57" height="9.05" fill="#f7d8ca"/><rect x="525.65" width="5.57" height="9.05" fill="#f6d8c9"/><rect x="530.23" width="5.57" height="9.05" fill="#f5cebd"/><rect x="534.80" width="5.57" height="9.05" fill="#f4c8b5"/><rect x="539.37" width="5.57" height="9.05" fill="#f6d6c7"/><rect x="543.95" width="5.57" height="9.05" fill="#f8ddd1"/><rect x="548.52" width="5.57" height="9.05" fill="#f7d9cb"/><rect x="553.09" width="5.57" height="9.05" fill="#f3c6b2"/><rect x="557.67" width="5.57" height="9.05" fill="#f2b39a"/><rect x="562.24" width="5.57" height="9.05" fill="#f2b9a2"/><rect x="566.81" width="5.57" height="9.05" fill="#f3c6b2"/><rect x="571.39" width="5.57" height="9.05" fill="#f4cbb8"/><rect x="575.96" width="5.57" height="9.05" fill="#f3c1ac"/><rect x="580.53" width="5.57" height="9.05" fill="#f2b39a"/><rect x="585.11" width="5.57" height="9.05" fill="#f2bba5"/><rect x="589.68" width="5.57" height="9.05" fill="#f3c3af"/><rect x="594.25" width="5.57" height="9.05" fill="#f2b9a2"/><rect x="598.83" width="14.72" height="9.05" fill="#f3bda7"/></g>
<g transform="translate(0 264.088)"><rect x="45.45" width="14.72" height="9.05" fill="#f3c0aa"/><rect x="59.17" width="5.57" height="9.05" fill="#f3c3af"/><rect x="63.75" width="5.57" height="9.05" fill="#f3c6b2"/><rect x="68.32" width="5.57" height="9.05" fill="#f6d6c6"/><rect x="72.89" width="5.57" height="9.05" fill="#f5cebd"/><rect x="77.47" width="5.57" height="9.05" fill="#f5d2c2"/><rect x="82.04" width="5.57" height="9.05" fill="#f6d7c8"/><rect x="86.61" width="5.57" height="9.05" fill="#f6d4c5"/><rect x="91.19" width="5.57" height="9.05" fill="#f5cdbb"/><rect x="95.76" width="5.57" height="9.05" fill="#f5d1c0"/><rect x="100.33" width="5.57" height="9.05" fill="#f5d2c2"/><rect x="104.91" width="5.57" height="9.05" fill="#f4c9b7"/><rect x="109.48" width="5.57" height="9.05" fill="#f5d2c2"/><rect x="114.05" width="5.57" height="9.05" fill="#f7dacd"/><rect x="118.63" width="5.57" height="9.05" fill="#f7dacc"/><rect x="123.20" width="5.57" height="9.05" fill="#f7d9cb"/><rect x="127.77" width="5.57" height="9.05" fill="#f3c0aa"/><rect x="132.35" width="5.57" height="9.05" fill="#f3c1ac"/><rect x="136.92" width="5.57" height="9.05" fill="#f3c6b2"/><rect x="141.49" width="5.57" height="9.05" fill="#f3bda7"/><rect x="146.07" width="5.57" height="9.05" fill="#f3c6b2"/><rect x="150.64" width="5.57" height="9.05" fill="#f3c5b0"/><rect x="155.21" width="5.57" height="9.05" fill="#f4c9b7"/><rect x="159.79" width="5.57" height="9.05" fill="#f4c8b5"/><rect x="164.36" width="5.57" height="9.05" fill="#f3bfa9"/><rect x="168.93" width="5.57" height="9.05" fill="#f2b7a0"/><rect x="173.51" width="5.57" height="9.05" fill="#f2b49c"/><rect x="178.08" width="5.57" height="9.05" fill="#f2bba5"/><rect x="182.65" width="5.57" height="9.05" fill="#f4c9b7"/><rect x="187.23" width="5.57" height="9.05" fill="#f4ccba"/><rect x="191.80" width="5.57" height="9.05" fill="#f4c8b5"/><rect x="196.37" width="5.57" height="9.05" fill="#f3c3af"/><rect x="200.95" width="5.57" height="9.05" fill="#f3bfa9"/><rect x="205.52" width="5.57" height="9.05" fill="#f3c3af"/><rect x="210.09" width="5.57" height="9.05" fill="#f3c2ad"/><rect x="214.67" width="5.57" height="9.05" fill="#f2b39a"/><rect x="219.24" width="5.57" height="9.05" fill="#f1b097"/><rect x="223.81" width="5.57" height="9.05" fill="#f3c3af"/><rect x="228.39" width="5.57" height="9.05" fill="#f5cebd"/><rect x="232.96" width="5.57" height="9.05" fill="#f5cdbb"/><rect x="237.53" width="5.57" height="9.05" fill="#f4c9b7"/><rect x="242.11" width="5.57" height="9.05" fill="#f4cbb8"/><rect x="246.68" width="5.57" height="9.05" fill="#f4c9b7"/><rect x="251.25" width="5.57" height="9.05" fill="#f3c5b0"/><rect x="255.83" width="10.15" height="9.05" fill="#f2bca6"/><rect x="264.97" width="5.57" height="9.05" fill="#f3c0aa"/><rect x="269.55" width="5.57" height="9.05" fill="#f2b59d"/><rect x="274.12" width="5.57" height="9.05" fill="#f1a78e"/><rect x="278.69" width="10.15" height="9.05" fill="#f2b69f"/><rect x="287.84" width="5.57" height="9.05" fill="#f1a38a"/><rect x="292.41" width="5.57" height="9.05" fill="#f2b59d"/><rect x="296.99" width="5.57" height="9.05" fill="#f3c5b0"/><rect x="301.56" width="5.57" height="9.05" fill="#f3c1ac"/><rect x="306.13" width="5.57" height="9.05" fill="#f3c5b0"/><rect x="310.71" width="5.57" height="9.05" fill="#f3c1ac"/><rect x="315.28" width="5.57" height="9.05" fill="#f2b9a2"/><rect x="319.85" width="5.57" height="9.05" fill="#f3c2ad"/><rect x="324.43" width="5.57" height="9.05" fill="#f4cbb8"/><rect x="329.00" width="5.57" height="9.05" fill="#f3c1ac"/><rect x="333.57" width="5.57" height="9.05" fill="#f3c5b0"/><rect x="338.15" width="5.57" height="9.05" fill="#f5d2c2"/><rect x="342.72" width="5.57" height="9.05" fill="#f5cfbf"/><rect x="347.29" width="5.57" height="9.05" fill="#f3c6b2"/><rect x="351.87" width="5.57" height="9.05" fill="#f3c3af"/><rect x="356.44" width="5.57" height="9.05" fill="#f4c6b2"/><rect x="361.01" width="5.57" height="9.05" fill="#f5cdbb"/><rect x="365.59" width="5.57" height="9.05" fill="#f6d3c3"/><rect x="370.16" width="5.57" height="9.05" fill="#f6d4c5"/><rect x="374.73" width="5.57" height="9.05" fill="#f6d3c3"/><rect x="379.31" width="5.57" height="9.05" fill="#f6d8c9"/><rect x="383.88" width="10.15" height="9.05" fill="#f8ded2"/><rect x="393.03" width="5.57" height="9.05" fill="#f6d8c9"/><rect x="397.60" width="5.57" height="9.05" fill="#f6d3c3"/><rect x="402.17" width="5.57" height="9.05" fill="#f6d6c8"/><rect x="406.75" width="5.57" height="9.05" fill="#f6d7c8"/><rect x="411.32" width="5.57" height="9.05" fill="#f7d9cb"/><rect x="415.89" width="5.57" height="9.05" fill="#f7d8ca"/><rect x="420.47" width="5.57" height="9.05" fill="#f5d2c2"/><rect x="425.04" width="5.57" height="9.05" fill="#f5cdbb"/><rect x="429.61" width="5.57" height="9.05" fill="#f5d1c0"/><rect x="434.19" width="5.57" height="9.05" fill="#f5cfbf"/><rect x="438.76" width="5.57" height="9.05" fill="#f4c8b5"/><rect x="443.33" width="5.57" height="9.05" fill="#f3c5b0"/><rect x="447.91" width="5.57" height="9.05" fill="#f4c6b2"/><rect x="452.48" width="5.57" height="9.05" fill="#f3c6b2"/><rect x="457.05" width="5.57" height="9.05" fill="#f3c1ac"/><rect x="461.63" width="5.57" height="9.05" fill="#f3c2ad"/><rect x="466.20" width="5.57" height="9.05" fill="#f3c3af"/><rect x="470.77" width="5.57" height="9.05" fill="#f3c2ad"/><rect x="475.35" width="5.57" height="9.05" fill="#f3c0aa"/><rect x="479.92" width="5.57" height="9.05" fill="#f5cdbb"/><rect x="484.49" width="5.57" height="9.05" fill="#f6d3c3"/><rect x="489.07" width="5.57" height="9.05" fill="#f5cebd"/><rect x="493.64" width="10.15" height="9.05" fill="#f4c9b7"/><rect x="502.79" width="5.57" height="9.05" fill="#f6d3c3"/><rect x="507.36" width="5.57" height="9.05" fill="#f5cdbb"/><rect x="511.93" width="5.57" height="9.05" fill="#f2bca6"/><rect x="516.51" width="5.57" height="9.05" fill="#f2bba5"/><rect x="521.08" width="5.57" height="9.05" fill="#f3bda7"/><rect x="525.65" width="5.57" height="9.05" fill="#f3c2ad"/><rect x="530.23" width="5.57" height="9.05" fill="#f4c9b7"/><rect x="534.80" width="5.57" height="9.05" fill="#f5cebd"/><rect x="539.37" width="5.57" height="9.05" fill="#f6d4c5"/><rect x="543.95" width="5.57" height="9.05" fill="#f4cbb8"/><rect x="548.52" width="5.57" height="9.05" fill="#f2baa3"/><rect x="553.09" width="5.57" height="9.05" fill="#f3c2ad"/><rect x="557.67" width="5.57" height="9.05" fill="#f5cdbb"/><rect x="562.24" width="5.57" height="9.05" fill="#f5cebd"/><rect x="566.81" width="5.57" height="9.05" fill="#f4c8b5"/><rect x="571.39" width="5.57" height="9.05" fill="#f5cdbb"/><rect x="575.96" width="5.57" height="9.05" fill="#f6d3c3"/><rect x="580.53" width="5.57" height="9.05" fill="#f5d3c3"/><rect x="585.11" width="5.57" height="9.05" fill="#f6d6c7"/><rect x="589.68" width="5.57" height="9.05" fill="#f6d8c9"/><rect x="594.25" width="5.57" height="9.05" fill="#f6d7c8"/><rect x="598.83" width="14.72" height="9.05" fill="#f6d6c6"/></g>
<g transform="translate(0 272.141)"><rect x="45.45" width="14.72" height="9.05" fill="#f7dacd"/><rect x="59.17" width="5.57" height="9.05" fill="#f7d8ca"/><rect x="63.75" width="5.57" height="9.05" fill="#f7d9cb"/><rect x="68.32" width="5.57" height="9.05" fill="#f7dacd"/><rect x="72.89" width="5.57" height="9.05" fill="#f7dacc"/><rect x="77.47" width="5.57" height="9.05" fill="#f6d7c9"/><rect x="82.04" width="5.57" height="9.05" fill="#f6d3c3"/><rect x="86.61" width="5.57" height="9.05" fill="#f5d2c2"/><rect x="91.19" width="5.57" height="9.05" fill="#f5d3c3"/><rect x="95.76" width="5.57" height="9.05" fill="#f6d5c6"/><rect x="100.33" width="5.57" height="9.05" fill="#f6d6c8"/><rect x="104.91" width="5.57" height="9.05" fill="#f6d4c5"/><rect x="109.48" width="5.57" height="9.05" fill="#f6d6c8"/><rect x="114.05" width="10.15" height="9.05" fill="#f7d8ca"/><rect x="123.20" width="5.57" height="9.05" fill="#f6d6c8"/><rect x="127.77" width="5.57" height="9.05" fill="#f5cdbb"/><rect x="132.35" width="5.57" height="9.05" fill="#f6d3c3"/><rect x="136.92" width="5.57" height="9.05" fill="#f7dbce"/><rect x="141.49" width="5.57" height="9.05" fill="#f7dacd"/><rect x="146.07" width="5.57" height="9.05" fill="#f6d7c8"/><rect x="150.64" width="5.57" height="9.05" fill="#f5d1c0"/><rect x="155.21" width="5.57" height="9.05" fill="#f4c7b3"/><rect x="159.79" width="5.57" height="9.05" fill="#f2bca6"/><rect x="164.36" width="5.57" height="9.05" fill="#f2b9a2"/><rect x="168.93" width="5.57" height="9.05" fill="#f3c1ac"/><rect x="173.51" width="5.57" height="9.05" fill="#f3c6b2"/><rect x="178.08" width="5.57" height="9.05" fill="#f2baa3"/><rect x="182.65" width="5.57" height="9.05" fill="#f3bda7"/><rect x="187.23" width="5.57" height="9.05" fill="#f4ccba"/><rect x="191.80" width="5.57" height="9.05" fill="#f3c6b2"/><rect x="196.37" width="5.57" height="9.05" fill="#f2baa3"/><rect x="200.95" width="5.57" height="9.05" fill="#f1af96"/><rect x="205.52" width="5.57" height="9.05" fill="#f09a80"/><rect x="210.09" width="5.57" height="9.05" fill="#f0997f"/><rect x="214.67" width="5.57" height="9.05" fill="#f1ac93"/><rect x="219.24" width="5.57" height="9.05" fill="#f3c1ac"/><rect x="223.81" width="5.57" height="9.05" fill="#f4c9b7"/><rect x="228.39" width="10.15" height="9.05" fill="#f3c6b2"/><rect x="237.53" width="5.57" height="9.05" fill="#f5d1c0"/><rect x="242.11" width="5.57" height="9.05" fill="#f7d8ca"/><rect x="246.68" width="5.57" height="9.05" fill="#f6d7c8"/><rect x="251.25" width="5.57" height="9.05" fill="#f5cdbb"/><rect x="255.83" width="5.57" height="9.05" fill="#f4c7b4"/><rect x="260.40" width="10.15" height="9.05" fill="#f4ccba"/><rect x="269.55" width="5.57" height="9.05" fill="#f4c7b3"/><rect x="274.12" width="5.57" height="9.05" fill="#f3bda7"/><rect x="278.69" width="5.57" height="9.05" fill="#f2b9a2"/><rect x="283.27" width="5.57" height="9.05" fill="#f3bfa9"/><rect x="287.84" width="5.57" height="9.05" fill="#f3c3af"/><rect x="292.41" width="5.57" height="9.05" fill="#f3c1ac"/><rect x="296.99" width="5.57" height="9.05" fill="#f2b39a"/><rect x="301.56" width="10.15" height="9.05" fill="#f1a38a"/><rect x="310.71" width="5.57" height="9.05" fill="#f1aa90"/><rect x="315.28" width="5.57" height="9.05" fill="#f2b9a2"/><rect x="319.85" width="5.57" height="9.05" fill="#f2bca6"/><rect x="324.43" width="10.15" height="9.05" fill="#f1ab92"/><rect x="333.57" width="5.57" height="9.05" fill="#f2b9a2"/><rect x="338.15" width="5.57" height="9.05" fill="#f1b199"/><rect x="342.72" width="5.57" height="9.05" fill="#f2b39a"/><rect x="347.29" width="5.57" height="9.05" fill="#f2baa3"/><rect x="351.87" width="5.57" height="9.05" fill="#f2bca6"/><rect x="356.44" width="5.57" height="9.05" fill="#f2b7a0"/><rect x="361.01" width="5.57" height="9.05" fill="#f1b097"/><rect x="365.59" width="5.57" height="9.05" fill="#f1aa90"/><rect x="370.16" width="5.57" height="9.05" fill="#f1a289"/><rect x="374.73" width="5.57" height="9.05" fill="#f1a88f"/><rect x="379.31" width="5.57" height="9.05" fill="#f2b39a"/><rect x="383.88" width="5.57" height="9.05" fill="#f2b9a2"/><rect x="388.45" width="5.57" height="9.05" fill="#f2bba5"/><rect x="393.03" width="5.57" height="9.05" fill="#f2b59d"/><rect x="397.60" width="5.57" height="9.05" fill="#f1a289"/><rect x="402.17" width="5.57" height="9.05" fill="#f0997f"/><rect x="406.75" width="5.57" height="9.05" fill="#f1b199"/><rect x="411.32" width="5.57" height="9.05" fill="#f3c5b0"/><rect x="415.89" width="5.57" height="9.05" fill="#f3c6b2"/><rect x="420.47" width="5.57" height="9.05" fill="#f3c0aa"/><rect x="425.04" width="5.57" height="9.05" fill="#f1b199"/><rect x="429.61" width="5.57" height="9.05" fill="#f1aa90"/><rect x="434.19" width="5.57" height="9.05" fill="#f1ae95"/><rect x="438.76" width="5.57" height="9.05" fill="#f1a289"/><rect x="443.33" width="5.57" height="9.05" fill="#f09177"/><rect x="447.91" width="5.57" height="9.05" fill="#f0977d"/><rect x="452.48" width="5.57" height="9.05" fill="#f1a38a"/><rect x="457.05" width="5.57" height="9.05" fill="#f1a188"/><rect x="461.63" width="5.57" height="9.05" fill="#f1a187"/><rect x="466.20" width="5.57" height="9.05" fill="#f1a78e"/><rect x="470.77" width="5.57" height="9.05" fill="#f0987e"/><rect x="475.35" width="5.57" height="9.05" fill="#f0957c"/><rect x="479.92" width="5.57" height="9.05" fill="#f1a88f"/><rect x="484.49" width="5.57" height="9.05" fill="#f1ab92"/><rect x="489.07" width="10.15" height="9.05" fill="#f1aa90"/><rect x="498.21" width="10.15" height="9.05" fill="#f1a38a"/><rect x="507.36" width="5.57" height="9.05" fill="#f1aa90"/><rect x="511.93" width="5.57" height="9.05" fill="#f1a88f"/><rect x="516.51" width="5.57" height="9.05" fill="#f1a38a"/><rect x="521.08" width="5.57" height="9.05" fill="#f1b097"/><rect x="525.65" width="5.57" height="9.05" fill="#f3bda7"/><rect x="530.23" width="5.57" height="9.05" fill="#f1b097"/><rect x="534.80" width="5.57" height="9.05" fill="#f09b81"/><rect x="539.37" width="5.57" height="9.05" fill="#f1a086"/><rect x="543.95" width="5.57" height="9.05" fill="#f2b69f"/><rect x="548.52" width="5.57" height="9.05" fill="#f3c1ac"/><rect x="553.09" width="5.57" height="9.05" fill="#f1af96"/><rect x="557.67" width="5.57" height="9.05" fill="#f09177"/><rect x="562.24" width="5.57" height="9.05" fill="#ef9076"/><rect x="566.81" width="5.57" height="9.05" fill="#f1a289"/><rect x="571.39" width="5.57" height="9.05" fill="#f1a78e"/><rect x="575.96" width="5.57" height="9.05" fill="#f1a58b"/><rect x="580.53" width="5.57" height="9.05" fill="#f1ab92"/><rect x="585.11" width="5.57" height="9.05" fill="#f2b39a"/><rect x="589.68" width="5.57" height="9.05" fill="#f1ac93"/><rect x="594.25" width="5.57" height="9.05" fill="#f1a48b"/><rect x="598.83" width="14.72" height="9.05" fill="#f0997f"/></g>
<g transform="translate(0 280.194)"><rect x="45.45" width="14.72" height="9.05" fill="#f4c7b3"/><rect x="59.17" width="10.15" height="9.05" fill="#f3bfa9"/><rect x="68.32" width="5.57" height="9.05" fill="#f2bca6"/><rect x="72.89" width="5.57" height="9.05" fill="#f2bba5"/><rect x="77.47" width="5.57" height="9.05" fill="#f4c8b5"/><rect x="82.04" width="5.57" height="9.05" fill="#f5cdbb"/><rect x="86.61" width="5.57" height="9.05" fill="#f5cebd"/><rect x="91.19" width="5.57" height="9.05" fill="#f5d2c2"/><rect x="95.76" width="5.57" height="9.05" fill="#f5d3c3"/><rect x="100.33" width="5.57" height="9.05" fill="#f5d1c0"/><rect x="104.91" width="5.57" height="9.05" fill="#f5cdbb"/><rect x="109.48" width="5.57" height="9.05" fill="#f5cfbf"/><rect x="114.05" width="5.57" height="9.05" fill="#f5d1c0"/><rect x="118.63" width="5.57" height="9.05" fill="#f5cfbf"/><rect x="123.20" width="5.57" height="9.05" fill="#f5d1c0"/><rect x="127.77" width="10.15" height="9.05" fill="#f5cdbb"/><rect x="136.92" width="5.57" height="9.05" fill="#f6d6c6"/><rect x="141.49" width="5.57" height="9.05" fill="#f6d3c3"/><rect x="146.07" width="5.57" height="9.05" fill="#f4c7b3"/><rect x="150.64" width="5.57" height="9.05" fill="#f4c7b4"/><rect x="155.21" width="5.57" height="9.05" fill="#f5cebd"/><rect x="159.79" width="5.57" height="9.05" fill="#f4c9b7"/><rect x="164.36" width="5.57" height="9.05" fill="#f3bfa9"/><rect x="168.93" width="5.57" height="9.05" fill="#f4c9b7"/><rect x="173.51" width="5.57" height="9.05" fill="#f5d1c0"/><rect x="178.08" width="5.57" height="9.05" fill="#f4ccba"/><rect x="182.65" width="5.57" height="9.05" fill="#f4c9b7"/><rect x="187.23" width="5.57" height="9.05" fill="#f3c0aa"/><rect x="191.80" width="5.57" height="9.05" fill="#f1af96"/><rect x="196.37" width="5.57" height="9.05" fill="#f09c83"/><rect x="200.95" width="5.57" height="9.05" fill="#f09b81"/><rect x="205.52" width="5.57" height="9.05" fill="#f0997f"/><rect x="210.09" width="5.57" height="9.05" fill="#ee7e65"/><rect x="214.67" width="5.57" height="9.05" fill="#ee7a61"/><rect x="219.24" width="5.57" height="9.05" fill="#f0997f"/><rect x="223.81" width="5.57" height="9.05" fill="#f09d84"/><rect x="228.39" width="5.57" height="9.05" fill="#f09c83"/><rect x="232.96" width="5.57" height="9.05" fill="#f1ac93"/><rect x="237.53" width="5.57" height="9.05" fill="#f3bfa9"/><rect x="242.11" width="5.57" height="9.05" fill="#f2baa3"/><rect x="246.68" width="5.57" height="9.05" fill="#f1a58b"/><rect x="251.25" width="5.57" height="9.05" fill="#f1aa90"/><rect x="255.83" width="5.57" height="9.05" fill="#f1ab92"/><rect x="260.40" width="5.57" height="9.05" fill="#f0957c"/><rect x="264.97" width="5.57" height="9.05" fill="#ef9076"/><rect x="269.55" width="5.57" height="9.05" fill="#f1a68c"/><rect x="274.12" width="5.57" height="9.05" fill="#f2b7a0"/><rect x="278.69" width="5.57" height="9.05" fill="#f1ae95"/><rect x="283.27" width="5.57" height="9.05" fill="#f1ab92"/><rect x="287.84" width="5.57" height="9.05" fill="#f3c5b0"/><rect x="292.41" width="5.57" height="9.05" fill="#f4ccba"/><rect x="296.99" width="5.57" height="9.05" fill="#f2bca6"/><rect x="301.56" width="5.57" height="9.05" fill="#f09a80"/><rect x="306.13" width="5.57" height="9.05" fill="#ef876d"/><rect x="310.71" width="5.57" height="9.05" fill="#ee8067"/><rect x="315.28" width="5.57" height="9.05" fill="#ef8b71"/><rect x="319.85" width="5.57" height="9.05" fill="#f09177"/><rect x="324.43" width="5.57" height="9.05" fill="#ee7a61"/><rect x="329.00" width="5.57" height="9.05" fill="#ee6e55"/><rect x="333.57" width="5.57" height="9.05" fill="#f09278"/><rect x="338.15" width="5.57" height="9.05" fill="#f1aa90"/><rect x="342.72" width="5.57" height="9.05" fill="#f1b097"/><rect x="347.29" width="5.57" height="9.05" fill="#f1aa90"/><rect x="351.87" width="5.57" height="9.05" fill="#f1ac93"/><rect x="356.44" width="5.57" height="9.05" fill="#f2b69f"/><rect x="361.01" width="5.57" height="9.05" fill="#f3bda7"/><rect x="365.59" width="5.57" height="9.05" fill="#f3c2ad"/><rect x="370.16" width="5.57" height="9.05" fill="#f3c3af"/><rect x="374.73" width="5.57" height="9.05" fill="#f4c7b4"/><rect x="379.31" width="5.57" height="9.05" fill="#f3bfa9"/><rect x="383.88" width="5.57" height="9.05" fill="#f1a48b"/><rect x="388.45" width="5.57" height="9.05" fill="#f1a086"/><rect x="393.03" width="5.57" height="9.05" fill="#f1a48b"/><rect x="397.60" width="5.57" height="9.05" fill="#f2b39a"/><rect x="402.17" width="10.15" height="9.05" fill="#f3c1ac"/><rect x="411.32" width="5.57" height="9.05" fill="#f3c2ad"/><rect x="415.89" width="5.57" height="9.05" fill="#f3c3af"/><rect x="420.47" width="5.57" height="9.05" fill="#f3bda7"/><rect x="425.04" width="5.57" height="9.05" fill="#f2baa3"/><rect x="429.61" width="5.57" height="9.05" fill="#f2b9a2"/><rect x="434.19" width="5.57" height="9.05" fill="#f2bba5"/><rect x="438.76" width="5.57" height="9.05" fill="#f3bda7"/><rect x="443.33" width="5.57" height="9.05" fill="#f2b69f"/><rect x="447.91" width="5.57" height="9.05" fill="#f1a188"/><rect x="452.48" width="5.57" height="9.05" fill="#f0957c"/><rect x="457.05" width="5.57" height="9.05" fill="#f1aa90"/><rect x="461.63" width="5.57" height="9.05" fill="#f2b9a2"/><rect x="466.20" width="5.57" height="9.05" fill="#f2b39a"/><rect x="470.77" width="5.57" height="9.05" fill="#f1a289"/><rect x="475.35" width="5.57" height="9.05" fill="#f09a80"/><rect x="479.92" width="5.57" height="9.05" fill="#f09379"/><rect x="484.49" width="5.57" height="9.05" fill="#f0977d"/><rect x="489.07" width="5.57" height="9.05" fill="#f1a68c"/><rect x="493.64" width="5.57" height="9.05" fill="#f2baa3"/><rect x="498.21" width="5.57" height="9.05" fill="#f3bda7"/><rect x="502.79" width="5.57" height="9.05" fill="#f1aa90"/><rect x="507.36" width="5.57" height="9.05" fill="#f1a78e"/><rect x="511.93" width="10.15" height="9.05" fill="#f2b49c"/><rect x="521.08" width="5.57" height="9.05" fill="#f2b59d"/><rect x="525.65" width="5.57" height="9.05" fill="#f1ae95"/><rect x="530.23" width="5.57" height="9.05" fill="#f1a188"/><rect x="534.80" width="5.57" height="9.05" fill="#f09b82"/><rect x="539.37" width="5.57" height="9.05" fill="#f0957c"/><rect x="543.95" width="5.57" height="9.05" fill="#f1a88f"/><rect x="548.52" width="5.57" height="9.05" fill="#f2b9a2"/><rect x="553.09" width="5.57" height="9.05" fill="#f1a68c"/><rect x="557.67" width="5.57" height="9.05" fill="#f09278"/><rect x="562.24" width="5.57" height="9.05" fill="#f1a086"/><rect x="566.81" width="5.57" height="9.05" fill="#f2b49c"/><rect x="571.39" width="5.57" height="9.05" fill="#f2baa3"/><rect x="575.96" width="5.57" height="9.05" fill="#f2b49c"/><rect x="580.53" width="5.57" height="9.05" fill="#f2b39a"/><rect x="585.11" width="5.57" height="9.05" fill="#f1a78e"/><rect x="589.68" width="5.57" height="9.05" fill="#f0957c"/><rect x="594.25" width="5.57" height="9.05" fill="#f09b82"/><rect x="598.83" width="14.72" height="9.05" fill="#f19f85"/></g>
<g transform="translate(0 288.247)"><rect x="45.45" width="14.72" height="9.05" fill="#f5cebd"/><rect x="59.17" width="5.57" height="9.05" fill="#f4c9b7"/><rect x="63.75" width="5.57" height="9.05" fill="#f5cebd"/><rect x="68.32" width="5.57" height="9.05" fill="#f6d4c5"/><rect x="72.89" width="5.57" height="9.05" fill="#f7d9cb"/><rect x="77.47" width="5.57" height="9.05" fill="#f7dacc"/><rect x="82.04" width="5.57" height="9.05" fill="#f6d6c7"/><rect x="86.61" width="5.57" height="9.05" fill="#f5cfbf"/><rect x="91.19" width="5.57" height="9.05" fill="#f4c9b7"/><rect x="95.76" width="5.57" height="9.05" fill="#f3c3af"/><rect x="100.33" width="5.57" height="9.05" fill="#f4cbb8"/><rect x="104.91" width="5.57" height="9.05" fill="#f6d4c5"/><rect x="109.48" width="5.57" height="9.05" fill="#f5d2c2"/><rect x="114.05" width="5.57" height="9.05" fill="#f5d1c0"/><rect x="118.63" width="5.57" height="9.05" fill="#f6d7c8"/><rect x="123.20" width="5.57" height="9.05" fill="#f7dacd"/><rect x="127.77" width="5.57" height="9.05" fill="#f6d8c9"/><rect x="132.35" width="5.57" height="9.05" fill="#f5cebd"/><rect x="136.92" width="5.57" height="9.05" fill="#f4c9b7"/><rect x="141.49" width="10.15" height="9.05" fill="#f5d1c0"/><rect x="150.64" width="5.57" height="9.05" fill="#f3c6b2"/><rect x="155.21" width="5.57" height="9.05" fill="#f4cbb8"/><rect x="159.79" width="5.57" height="9.05" fill="#f5d3c3"/><rect x="164.36" width="10.15" height="9.05" fill="#f5cfbf"/><rect x="173.51" width="5.57" height="9.05" fill="#f6d6c6"/><rect x="178.08" width="5.57" height="9.05" fill="#f6d8c9"/><rect x="182.65" width="5.57" height="9.05" fill="#f6d5c6"/><rect x="187.23" width="5.57" height="9.05" fill="#f4ccba"/><rect x="191.80" width="5.57" height="9.05" fill="#f3c6b2"/><rect x="196.37" width="5.57" height="9.05" fill="#f4c9b7"/><rect x="200.95" width="5.57" height="9.05" fill="#f6d3c3"/><rect x="205.52" width="5.57" height="9.05" fill="#f5d1c0"/><rect x="210.09" width="5.57" height="9.05" fill="#f5cdbb"/><rect x="214.67" width="5.57" height="9.05" fill="#f6d3c3"/><rect x="219.24" width="5.57" height="9.05" fill="#f6d8c9"/><rect x="223.81" width="5.57" height="9.05" fill="#f5cebd"/><rect x="228.39" width="5.57" height="9.05" fill="#f3bda7"/><rect x="232.96" width="5.57" height="9.05" fill="#f3c2ad"/><rect x="237.53" width="5.57" height="9.05" fill="#f4ccba"/><rect x="242.11" width="5.57" height="9.05" fill="#f5d2c2"/><rect x="246.68" width="5.57" height="9.05" fill="#f5d1c0"/><rect x="251.25" width="5.57" height="9.05" fill="#f4ccba"/><rect x="255.83" width="5.57" height="9.05" fill="#f4cbb8"/><rect x="260.40" width="5.57" height="9.05" fill="#f3c6b2"/><rect x="264.97" width="5.57" height="9.05" fill="#f2b69f"/><rect x="269.55" width="5.57" height="9.05" fill="#f1ae95"/><rect x="274.12" width="5.57" height="9.05" fill="#f2baa3"/><rect x="278.69" width="5.57" height="9.05" fill="#f4c9b7"/><rect x="283.27" width="5.57" height="9.05" fill="#f3c3af"/><rect x="287.84" width="5.57" height="9.05" fill="#f2baa3"/><rect x="292.41" width="5.57" height="9.05" fill="#f2bca6"/><rect x="296.99" width="5.57" height="9.05" fill="#f2b69f"/><rect x="301.56" width="5.57" height="9.05" fill="#f1b199"/><rect x="306.13" width="5.57" height="9.05" fill="#f2b59d"/><rect x="310.71" width="5.57" height="9.05" fill="#f3c1ac"/><rect x="315.28" width="5.57" height="9.05" fill="#f4ccba"/><rect x="319.85" width="5.57" height="9.05" fill="#f3c3af"/><rect x="324.43" width="5.57" height="9.05" fill="#f2b39a"/><rect x="329.00" width="5.57" height="9.05" fill="#f2bba5"/><rect x="333.57" width="5.57" height="9.05" fill="#f3c1ac"/><rect x="338.15" width="5.57" height="9.05" fill="#f2bca6"/><rect x="342.72" width="5.57" height="9.05" fill="#f3c2ad"/><rect x="347.29" width="5.57" height="9.05" fill="#f3bfa9"/><rect x="351.87" width="5.57" height="9.05" fill="#f2b39a"/><rect x="356.44" width="5.57" height="9.05" fill="#f1b097"/><rect x="361.01" width="5.57" height="9.05" fill="#f2b199"/><rect x="365.59" width="5.57" height="9.05" fill="#f3c2ad"/><rect x="370.16" width="5.57" height="9.05" fill="#f4ccba"/><rect x="374.73" width="5.57" height="9.05" fill="#f3c1ac"/><rect x="379.31" width="5.57" height="9.05" fill="#f2b7a0"/><rect x="383.88" width="5.57" height="9.05" fill="#f2b49c"/><rect x="388.45" width="5.57" height="9.05" fill="#f1a88f"/><rect x="393.03" width="5.57" height="9.05" fill="#f1a187"/><rect x="397.60" width="5.57" height="9.05" fill="#f09b81"/><rect x="402.17" width="5.57" height="9.05" fill="#ef846b"/><rect x="406.75" width="5.57" height="9.05" fill="#ee7c63"/><rect x="411.32" width="5.57" height="9.05" fill="#f0957c"/><rect x="415.89" width="5.57" height="9.05" fill="#f1b199"/><rect x="420.47" width="5.57" height="9.05" fill="#f2b7a0"/><rect x="425.04" width="5.57" height="9.05" fill="#f2b69f"/><rect x="429.61" width="5.57" height="9.05" fill="#f2b39a"/><rect x="434.19" width="5.57" height="9.05" fill="#f09b82"/><rect x="438.76" width="5.57" height="9.05" fill="#f0977d"/><rect x="443.33" width="5.57" height="9.05" fill="#f1a78e"/><rect x="447.91" width="5.57" height="9.05" fill="#f1ac93"/><rect x="452.48" width="5.57" height="9.05" fill="#f2b7a0"/><rect x="457.05" width="5.57" height="9.05" fill="#f2b9a2"/><rect x="461.63" width="5.57" height="9.05" fill="#f1ab92"/><rect x="466.20" width="5.57" height="9.05" fill="#f1a88f"/><rect x="470.77" width="5.57" height="9.05" fill="#f1a289"/><rect x="475.35" width="5.57" height="9.05" fill="#f0957c"/><rect x="479.92" width="5.57" height="9.05" fill="#ef896f"/><rect x="484.49" width="5.57" height="9.05" fill="#ef866c"/><rect x="489.07" width="5.57" height="9.05" fill="#ee8168"/><rect x="493.64" width="5.57" height="9.05" fill="#ef8e75"/><rect x="498.21" width="5.57" height="9.05" fill="#f1aa90"/><rect x="502.79" width="5.57" height="9.05" fill="#f2bba5"/><rect x="507.36" width="5.57" height="9.05" fill="#f2baa3"/><rect x="511.93" width="5.57" height="9.05" fill="#f2b59d"/><rect x="516.51" width="5.57" height="9.05" fill="#f2baa3"/><rect x="521.08" width="5.57" height="9.05" fill="#f2bca6"/><rect x="525.65" width="5.57" height="9.05" fill="#f2baa3"/><rect x="530.23" width="5.57" height="9.05" fill="#f1aa90"/><rect x="534.80" width="5.57" height="9.05" fill="#f0997f"/><rect x="539.37" width="5.57" height="9.05" fill="#f1a086"/><rect x="543.95" width="5.57" height="9.05" fill="#f09d84"/><rect x="548.52" width="5.57" height="9.05" fill="#ef9076"/><rect x="553.09" width="5.57" height="9.05" fill="#f09177"/><rect x="557.67" width="5.57" height="9.05" fill="#f09a80"/><rect x="562.24" width="5.57" height="9.05" fill="#f0957c"/><rect x="566.81" width="5.57" height="9.05" fill="#f0977d"/><rect x="571.39" width="5.57" height="9.05" fill="#f1a38a"/><rect x="575.96" width="5.57" height="9.05" fill="#f09e84"/><rect x="580.53" width="5.57" height="9.05" fill="#ef866c"/><rect x="585.11" width="5.57" height="9.05" fill="#ee7f66"/><rect x="589.68" width="5.57" height="9.05" fill="#ef8e75"/><rect x="594.25" width="5.57" height="9.05" fill="#f09c83"/><rect x="598.83" width="14.72" height="9.05" fill="#f1a289"/></g>
<g transform="translate(0 296.300)"><rect x="45.45" width="14.72" height="9.05" fill="#f5cebd"/><rect x="59.17" width="5.57" height="9.05" fill="#f4c9b7"/><rect x="63.75" width="5.57" height="9.05" fill="#f5cebd"/><rect x="68.32" width="5.57" height="9.05" fill="#f6d4c5"/><rect x="72.89" width="5.57" height="9.05" fill="#f7d9cb"/><rect x="77.47" width="5.57" height="9.05" fill="#f7dacc"/><rect x="82.04" width="5.57" height="9.05" fill="#f6d6c7"/><rect x="86.61" width="5.57" height="9.05" fill="#f5cfbf"/><rect x="91.19" width="5.57" height="9.05" fill="#f4c9b7"/><rect x="95.76" width="5.57" height="9.05" fill="#f3c3af"/><rect x="100.33" width="5.57" height="9.05" fill="#f4cbb8"/><rect x="104.91" width="5.57" height="9.05" fill="#f6d4c5"/><rect x="109.48" width="5.57" height="9.05" fill="#f5d2c2"/><rect x="114.05" width="5.57" height="9.05" fill="#f5d1c0"/><rect x="118.63" width="5.57" height="9.05" fill="#f6d7c8"/><rect x="123.20" width="5.57" height="9.05" fill="#f7dacd"/><rect x="127.77" width="5.57" height="9.05" fill="#f6d8c9"/><rect x="132.35" width="5.57" height="9.05" fill="#f5cebd"/><rect x="136.92" width="5.57" height="9.05" fill="#f4c9b7"/><rect x="141.49" width="10.15" height="9.05" fill="#f5d1c0"/><rect x="150.64" width="5.57" height="9.05" fill="#f3c6b2"/><rect x="155.21" width="5.57" height="9.05" fill="#f4cbb8"/><rect x="159.79" width="5.57" height="9.05" fill="#f5d3c3"/><rect x="164.36" width="10.15" height="9.05" fill="#f5cfbf"/><rect x="173.51" width="5.57" height="9.05" fill="#f6d6c6"/><rect x="178.08" width="5.57" height="9.05" fill="#f6d8c9"/><rect x="182.65" width="5.57" height="9.05" fill="#f6d5c6"/><rect x="187.23" width="5.57" height="9.05" fill="#f4ccba"/><rect x="191.80" width="5.57" height="9.05" fill="#f3c6b2"/><rect x="196.37" width="5.57" height="9.05" fill="#f4c9b7"/><rect x="200.95" width="5.57" height="9.05" fill="#f6d3c3"/><rect x="205.52" width="5.57" height="9.05" fill="#f5d1c0"/><rect x="210.09" width="5.57" height="9.05" fill="#f5cdbb"/><rect x="214.67" width="5.57" height="9.05" fill="#f6d3c3"/><rect x="219.24" width="5.57" height="9.05" fill="#f6d8c9"/><rect x="223.81" width="5.57" height="9.05" fill="#f5cebd"/><rect x="228.39" width="5.57" height="9.05" fill="#f3bda7"/><rect x="232.96" width="5.57" height="9.05" fill="#f3c2ad"/><rect x="237.53" width="5.57" height="9.05" fill="#f4ccba"/><rect x="242.11" width="5.57" height="9.05" fill="#f5d2c2"/><rect x="246.68" width="5.57" height="9.05" fill="#f5d1c0"/><rect x="251.25" width="5.57" height="9.05" fill="#f4ccba"/><rect x="255.83" width="5.57" height="9.05" fill="#f4cbb8"/><rect x="260.40" width="5.57" height="9.05" fill="#f3c6b2"/><rect x="264.97" width="5.57" height="9.05" fill="#f2b69f"/><rect x="269.55" width="5.57" height="9.05" fill="#f1ae95"/><rect x="274.12" width="5.57" height="9.05" fill="#f2baa3"/><rect x="278.69" width="5.57" height="9.05" fill="#f4c9b7"/><rect x="283.27" width="5.57" height="9.05" fill="#f3c3af"/><rect x="287.84" width="5.57" height="9.05" fill="#f2baa3"/><rect x="292.41" width="5.57" height="9.05" fill="#f2bca6"/><rect x="296.99" width="5.57" height="9.05" fill="#f2b69f"/><rect x="301.56" width="5.57" height="9.05" fill="#f1b199"/><rect x="306.13" width="5.57" height="9.05" fill="#f2b59d"/><rect x="310.71" width="5.57" height="9.05" fill="#f3c1ac"/><rect x="315.28" width="5.57" height="9.05" fill="#f4ccba"/><rect x="319.85" width="5.57" height="9.05" fill="#f3c3af"/><rect x="324.43" width="5.57" height="9.05" fill="#f2b39a"/><rect x="329.00" width="5.57" height="9.05" fill="#f2bba5"/><rect x="333.57" width="5.57" height="9.05" fill="#f3c1ac"/><rect x="338.15" width="5.57" height="9.05" fill="#f2bca6"/><rect x="342.72" width="5.57" height="9.05" fill="#f3c2ad"/><rect x="347.29" width="5.57" height="9.05" fill="#f3bfa9"/><rect x="351.87" width="5.57" height="9.05" fill="#f2b39a"/><rect x="356.44" width="5.57" height="9.05" fill="#f1b097"/><rect x="361.01" width="5.57" height="9.05" fill="#f2b199"/><rect x="365.59" width="5.57" height="9.05" fill="#f3c2ad"/><rect x="370.16" width="5.57" height="9.05" fill="#f4ccba"/><rect x="374.73" width="5.57" height="9.05" fill="#f3c1ac"/><rect x="379.31" width="5.57" height="9.05" fill="#f2b7a0"/><rect x="383.88" width="5.57" height="9.05" fill="#f2b49c"/><rect x="388.45" width="5.57" height="9.05" fill="#f1a88f"/><rect x="393.03" width="5.57" height="9.05" fill="#f1a187"/><rect x="397.60" width="5.57" height="9.05" fill="#f09b81"/><rect x="402.17" width="5.57" height="9.05" fill="#ef846b"/><rect x="406.75" width="5.57" height="9.05" fill="#ee7c63"/><rect x="411.32" width="5.57" height="9.05" fill="#f0957c"/><rect x="415.89" width="5.57" height="9.05" fill="#f1b199"/><rect x="420.47" width="5.57" height="9.05" fill="#f2b7a0"/><rect x="425.04" width="5.57" height="9.05" fill="#f2b69f"/><rect x="429.61" width="5.57" height="9.05" fill="#f2b39a"/><rect x="434.19" width="5.57" height="9.05" fill="#f09b82"/><rect x="438.76" width="5.57" height="9.05" fill="#f0977d"/><rect x="443.33" width="5.57" height="9.05" fill="#f1a78e"/><rect x="447.91" width="5.57" height="9.05" fill="#f1ac93"/><rect x="452.48" width="5.57" height="9.05" fill="#f2b7a0"/><rect x="457.05" width="5.57" height="9.05" fill="#f2b9a2"/><rect x="461.63" width="5.57" height="9.05" fill="#f1ab92"/><rect x="466.20" width="5.57" height="9.05" fill="#f1a88f"/><rect x="470.77" width="5.57" height="9.05" fill="#f1a289"/><rect x="475.35" width="5.57" height="9.05" fill="#f0957c"/><rect x="479.92" width="5.57" height="9.05" fill="#ef896f"/><rect x="484.49" width="5.57" height="9.05" fill="#ef866c"/><rect x="489.07" width="5.57" height="9.05" fill="#ee8168"/><rect x="493.64" width="5.57" height="9.05" fill="#ef8e75"/><rect x="498.21" width="5.57" height="9.05" fill="#f1aa90"/><rect x="502.79" width="5.57" height="9.05" fill="#f2bba5"/><rect x="507.36" width="5.57" height="9.05" fill="#f2baa3"/><rect x="511.93" width="5.57" height="9.05" fill="#f2b59d"/><rect x="516.51" width="5.57" height="9.05" fill="#f2baa3"/><rect x="521.08" width="5.57" height="9.05" fill="#f2bca6"/><rect x="525.65" width="5.57" height="9.05" fill="#f2baa3"/><rect x="530.23" width="5.57" height="9.05" fill="#f1aa90"/><rect x="534.80" width="5.57" height="9.05" fill="#f0997f"/><rect x="539.37" width="5.57" height="9.05" fill="#f1a086"/><rect x="543.95" width="5.57" height="9.05" fill="#f09d84"/><rect x="548.52" width="5.57" height="9.05" fill="#ef9076"/><rect x="553.09" width="5.57" height="9.05" fill="#f09177"/><rect x="557.67" width="5.57" height="9.05" fill="#f09a80"/><rect x="562.24" width="5.57" height="9.05" fill="#f0957c"/><rect x="566.81" width="5.57" height="9.05" fill="#f0977d"/><rect x="571.39" width="5.57" height="9.05" fill="#f1a38a"/><rect x="575.96" width="5.57" height="9.05" fill="#f09e84"/><rect x="580.53" width="5.57" height="9.05" fill="#ef866c"/><rect x="585.11" width="5.57" height="9.05" fill="#ee7f66"/><rect x="589.68" width="5.57" height="9.05" fill="#ef8e75"/><rect x="594.25" width="5.57" height="9.05" fill="#f09c83"/><rect x="598.83" width="14.72" height="9.05" fill="#f1a289"/></g>
</g></g>
<rect x="54.60" y="22.50" width="548.80" height="273.80" fill="none" stroke="#000" stroke-width="1.07"/>
<line x1="146.17" x2="146.17" y1="22.50" y2="296.30" stroke="#000" stroke-width="1.5" stroke-dasharray="5.7 2.46"/>
<line x1="146.17" x2="146.17" y1="330.10" y2="467.50" stroke="#000" stroke-width="1.5" stroke-dasharray="5.7 2.46"/>
<line x1="54.60" x2="54.60" y1="296.30" y2="301.50" stroke="#000" stroke-width="1.07"/>
<text transform="translate(54.60 318.20) scale(1.000 1)" font-size="15.3" text-anchor="middle">−0.2</text>
<line x1="146.07" x2="146.07" y1="296.30" y2="301.50" stroke="#000" stroke-width="1.07"/>
<text transform="translate(146.07 318.20) scale(1.000 1)" font-size="15.3" text-anchor="middle">0.0</text>
<line x1="237.53" x2="237.53" y1="296.30" y2="301.50" stroke="#000" stroke-width="1.07"/>
<text transform="translate(237.53 318.20) scale(1.000 1)" font-size="15.3" text-anchor="middle">0.2</text>
<line x1="329.00" x2="329.00" y1="296.30" y2="301.50" stroke="#000" stroke-width="1.07"/>
<text transform="translate(329.00 318.20) scale(1.000 1)" font-size="15.3" text-anchor="middle">0.4</text>
<line x1="420.47" x2="420.47" y1="296.30" y2="301.50" stroke="#000" stroke-width="1.07"/>
<text transform="translate(420.47 318.20) scale(1.000 1)" font-size="15.3" text-anchor="middle">0.6</text>
<line x1="511.93" x2="511.93" y1="296.30" y2="301.50" stroke="#000" stroke-width="1.07"/>
<text transform="translate(511.93 318.20) scale(1.000 1)" font-size="15.3" text-anchor="middle">0.8</text>
<line x1="603.40" x2="603.40" y1="296.30" y2="301.50" stroke="#000" stroke-width="1.07"/>
<text transform="translate(603.40 318.20) scale(1.000 1)" font-size="15.3" text-anchor="middle">1.0</text>
<line x1="54.60" x2="54.60" y1="467.50" y2="472.70" stroke="#000" stroke-width="1.07"/>
<text transform="translate(54.60 489.40) scale(1.000 1)" font-size="15.3" text-anchor="middle">−0.2</text>
<line x1="146.07" x2="146.07" y1="467.50" y2="472.70" stroke="#000" stroke-width="1.07"/>
<text transform="translate(146.07 489.40) scale(1.000 1)" font-size="15.3" text-anchor="middle">0.0</text>
<line x1="237.53" x2="237.53" y1="467.50" y2="472.70" stroke="#000" stroke-width="1.07"/>
<text transform="translate(237.53 489.40) scale(1.000 1)" font-size="15.3" text-anchor="middle">0.2</text>
<line x1="329.00" x2="329.00" y1="467.50" y2="472.70" stroke="#000" stroke-width="1.07"/>
<text transform="translate(329.00 489.40) scale(1.000 1)" font-size="15.3" text-anchor="middle">0.4</text>
<line x1="420.47" x2="420.47" y1="467.50" y2="472.70" stroke="#000" stroke-width="1.07"/>
<text transform="translate(420.47 489.40) scale(1.000 1)" font-size="15.3" text-anchor="middle">0.6</text>
<line x1="511.93" x2="511.93" y1="467.50" y2="472.70" stroke="#000" stroke-width="1.07"/>
<text transform="translate(511.93 489.40) scale(1.000 1)" font-size="15.3" text-anchor="middle">0.8</text>
<line x1="603.40" x2="603.40" y1="467.50" y2="472.70" stroke="#000" stroke-width="1.07"/>
<text transform="translate(603.40 489.40) scale(1.000 1)" font-size="15.3" text-anchor="middle">1.0</text>
<line x1="49.40" x2="54.60" y1="296.30" y2="296.30" stroke="#000" stroke-width="1.07"/>
<text transform="translate(44.00 302.00) scale(1.000 1)" font-size="15.3" text-anchor="end">0</text>
<line x1="49.40" x2="54.60" y1="256.04" y2="256.04" stroke="#000" stroke-width="1.07"/>
<text transform="translate(44.00 261.74) scale(1.000 1)" font-size="15.3" text-anchor="end">5</text>
<line x1="49.40" x2="54.60" y1="215.77" y2="215.77" stroke="#000" stroke-width="1.07"/>
<text transform="translate(44.00 221.47) scale(1.000 1)" font-size="15.3" text-anchor="end">10</text>
<line x1="49.40" x2="54.60" y1="175.51" y2="175.51" stroke="#000" stroke-width="1.07"/>
<text transform="translate(44.00 181.21) scale(1.000 1)" font-size="15.3" text-anchor="end">15</text>
<line x1="49.40" x2="54.60" y1="135.24" y2="135.24" stroke="#000" stroke-width="1.07"/>
<text transform="translate(44.00 140.94) scale(1.000 1)" font-size="15.3" text-anchor="end">20</text>
<line x1="49.40" x2="54.60" y1="94.98" y2="94.98" stroke="#000" stroke-width="1.07"/>
<text transform="translate(44.00 100.68) scale(1.000 1)" font-size="15.3" text-anchor="end">25</text>
<line x1="49.40" x2="54.60" y1="54.71" y2="54.71" stroke="#000" stroke-width="1.07"/>
<text transform="translate(44.00 60.41) scale(1.000 1)" font-size="15.3" text-anchor="end">30</text>
<text transform="translate(16.00 159.40) rotate(-90) scale(1.000 1)" font-size="15.3" text-anchor="middle">Epochs</text>
<text transform="translate(329.00 13.60) scale(1.000 1)" font-size="18.2" text-anchor="middle">EEG (GFP)</text>
<rect x="642.60" y="22.50" width="13.70" height="273.80" fill="url(#cb)" stroke="#000" stroke-width="1.07"/>
<line x1="656.30" x2="661.50" y1="296.30" y2="296.30" stroke="#000" stroke-width="1.07"/>
<text transform="translate(666.80 302.00) scale(1.000 1)" font-size="15.3" text-anchor="start">0</text>
<line x1="656.30" x2="661.50" y1="245.14" y2="245.14" stroke="#000" stroke-width="1.07"/>
<text transform="translate(666.80 250.84) scale(1.000 1)" font-size="15.3" text-anchor="start">5</text>
<line x1="656.30" x2="661.50" y1="193.98" y2="193.98" stroke="#000" stroke-width="1.07"/>
<text transform="translate(666.80 199.68) scale(1.000 1)" font-size="15.3" text-anchor="start">10</text>
<line x1="656.30" x2="661.50" y1="142.82" y2="142.82" stroke="#000" stroke-width="1.07"/>
<text transform="translate(666.80 148.52) scale(1.000 1)" font-size="15.3" text-anchor="start">15</text>
<line x1="656.30" x2="661.50" y1="91.67" y2="91.67" stroke="#000" stroke-width="1.07"/>
<text transform="translate(666.80 97.37) scale(1.000 1)" font-size="15.3" text-anchor="start">20</text>
<line x1="656.30" x2="661.50" y1="40.51" y2="40.51" stroke="#000" stroke-width="1.07"/>
<text transform="translate(666.80 46.21) scale(1.000 1)" font-size="15.3" text-anchor="start">25</text>
<text transform="translate(649.85 13.30) scale(1.000 1)" font-size="18.2" text-anchor="middle">µV</text>
<path d="M55.27 399.78C55.61 400.76 56.37 403.93 57.32 405.64C58.27 407.35 59.27 409.35 60.98 410.03C62.69 410.71 64.52 409.64 67.57 409.74C70.62 409.84 76.35 410.08 79.28 410.62C82.21 411.16 83.55 413.06 85.14 412.96C86.73 412.86 87.51 411.18 88.80 410.03C90.09 408.88 91.56 405.96 92.90 406.08C94.24 406.20 95.58 409.49 96.85 410.76C98.12 412.03 99.17 413.93 100.51 413.69C101.85 413.45 103.56 409.30 104.90 409.30C106.24 409.30 107.35 412.10 108.57 413.69C109.79 415.28 110.65 419.38 112.23 418.82C113.81 418.26 116.50 411.42 118.08 410.32C119.66 409.22 120.64 411.79 121.74 412.23C122.84 412.67 123.20 414.25 124.67 412.96C126.14 411.67 128.82 405.45 130.53 404.47C132.24 403.49 133.70 406.30 134.92 407.10C136.14 407.91 136.39 409.91 137.85 409.30C139.31 408.69 141.67 405.39 143.70 403.44C145.72 401.49 148.22 399.34 150.00 397.59C151.78 395.84 152.80 394.71 154.39 392.96C155.98 391.21 157.81 387.78 159.52 387.10C161.23 386.42 162.81 388.13 164.64 388.86C166.47 389.59 168.67 390.62 170.50 391.50C172.33 392.38 174.16 394.25 175.62 394.13C177.08 394.01 178.06 391.88 179.28 390.76C180.50 389.64 181.47 387.64 182.94 387.40C184.41 387.16 186.48 389.47 188.07 389.30C189.66 389.13 191.00 387.27 192.46 386.37C193.92 385.47 195.51 384.00 196.85 383.88C198.19 383.76 199.41 385.22 200.51 385.64C201.61 386.06 202.34 387.10 203.44 386.37C204.54 385.64 205.76 383.20 207.10 381.25C208.44 379.30 210.15 375.27 211.49 374.66C212.83 374.05 213.93 376.37 215.15 377.59C216.37 378.81 217.47 381.37 218.81 381.98C220.15 382.59 221.75 381.08 223.21 381.25C224.68 381.42 225.89 382.88 227.60 383.00C229.31 383.12 231.51 381.83 233.46 381.98C235.41 382.13 237.60 383.51 239.31 383.88C241.02 384.25 241.92 384.61 243.70 384.17C245.48 383.73 247.97 381.82 250.00 381.25C252.03 380.68 254.15 381.16 255.86 380.76C257.57 380.36 258.79 379.71 260.25 378.86C261.71 378.01 263.18 376.22 264.64 375.64C266.10 375.06 267.69 375.16 269.03 375.35C270.37 375.55 271.35 377.06 272.69 376.81C274.03 376.56 275.75 374.86 277.09 373.88C278.43 372.90 279.53 371.51 280.75 370.95C281.97 370.39 283.07 370.17 284.41 370.51C285.75 370.85 287.34 372.27 288.80 373.00C290.26 373.73 291.60 374.96 293.19 374.91C294.78 374.86 296.49 373.44 298.32 372.71C300.15 371.98 302.22 371.49 304.17 370.51C306.12 369.53 308.32 367.83 310.03 366.85C311.74 365.88 313.08 365.15 314.42 364.66C315.76 364.17 316.74 363.44 318.08 363.93C319.42 364.42 321.00 366.37 322.47 367.59C323.94 368.81 325.28 371.37 326.87 371.25C328.46 371.13 330.16 368.19 331.99 366.85C333.82 365.51 336.14 364.41 337.85 363.19C339.56 361.97 340.78 361.36 342.24 359.53C343.70 357.70 345.34 354.40 346.63 352.21C347.92 350.01 348.83 348.13 350.00 346.36C351.17 344.59 352.49 342.84 353.66 341.61C354.83 340.38 355.81 338.85 357.03 338.97C358.25 339.09 359.71 341.17 360.98 342.34C362.25 343.51 363.42 344.95 364.64 346.00C365.86 347.05 367.08 348.75 368.30 348.63C369.52 348.51 370.50 346.69 371.96 345.27C373.42 343.85 375.50 341.68 377.09 340.14C378.68 338.60 380.02 336.28 381.48 336.04C382.94 335.80 384.53 337.88 385.87 338.68C387.21 339.49 388.31 340.68 389.53 340.87C390.75 341.06 391.97 339.97 393.19 339.85C394.41 339.73 395.63 339.36 396.85 340.14C398.07 340.92 399.17 342.82 400.51 344.53C401.85 346.24 403.43 348.80 404.90 350.39C406.37 351.98 407.96 353.51 409.30 354.05C410.64 354.59 411.74 353.85 412.96 353.61C414.18 353.37 415.40 353.49 416.62 352.59C417.84 351.69 419.06 349.90 420.28 348.19C421.50 346.48 422.84 343.68 423.94 342.34C425.04 341.00 425.53 340.51 426.87 340.14C428.21 339.77 430.16 340.26 431.99 340.14C433.82 340.02 436.14 339.58 437.85 339.41C439.56 339.24 440.78 338.88 442.24 339.12C443.70 339.36 445.34 340.70 446.63 340.87C447.92 341.04 448.46 340.97 450.00 340.14C451.54 339.31 453.91 337.00 455.86 335.87C457.81 334.74 459.76 334.04 461.71 333.38C463.66 332.72 465.62 332.29 467.57 331.92C469.52 331.56 471.60 331.14 473.43 331.19C475.26 331.24 476.84 331.55 478.55 332.21C480.26 332.87 482.08 334.28 483.67 335.14C485.26 336.00 486.73 337.34 488.07 337.34C489.41 337.34 490.39 336.04 491.73 335.14C493.07 334.24 494.66 332.29 496.12 331.92C497.58 331.56 498.92 332.05 500.51 332.95C502.10 333.85 504.05 335.88 505.64 337.34C507.23 338.80 508.57 340.19 510.03 341.73C511.49 343.27 513.08 346.19 514.42 346.56C515.76 346.93 516.86 345.35 518.08 343.93C519.30 342.51 520.52 340.07 521.74 338.07C522.96 336.07 524.30 332.77 525.40 331.92C526.50 331.07 527.35 332.05 528.33 332.95C529.31 333.85 530.28 336.00 531.26 337.34C532.24 338.68 533.09 340.76 534.19 341.00C535.29 341.24 536.51 339.53 537.85 338.80C539.19 338.07 540.78 337.10 542.24 336.61C543.70 336.12 545.34 336.12 546.63 335.87C547.92 335.62 549.23 335.14 550.00 335.14C550.77 335.14 550.66 335.43 551.23 335.87C551.80 336.31 552.33 336.92 553.43 337.78C554.53 338.63 556.36 340.02 557.82 341.00C559.28 341.98 560.75 342.85 562.21 343.63C563.67 344.41 565.38 345.34 566.60 345.68C567.82 346.02 568.43 346.46 569.53 345.68C570.63 344.90 571.97 342.63 573.19 341.00C574.41 339.37 575.63 336.48 576.85 335.87C578.07 335.26 579.17 336.73 580.51 337.34C581.85 337.95 583.31 338.72 584.90 339.53C586.49 340.33 588.44 341.39 590.03 342.17C591.62 342.95 592.96 344.05 594.42 344.22C595.88 344.39 597.39 343.48 598.81 343.19C600.22 342.90 602.23 342.58 602.91 342.46 L602.91 372.21C602.23 372.45 600.22 373.13 598.81 373.67C597.39 374.21 595.88 375.43 594.42 375.43C592.96 375.43 591.49 374.16 590.03 373.67C588.57 373.18 587.11 372.69 585.64 372.50C584.17 372.31 582.71 372.25 581.24 372.50C579.77 372.75 578.19 373.41 576.85 373.97C575.51 374.53 574.41 375.38 573.19 375.87C571.97 376.36 570.87 376.96 569.53 376.89C568.19 376.82 566.60 375.92 565.14 375.43C563.68 374.94 562.22 374.51 560.75 373.97C559.28 373.43 557.82 372.87 556.35 372.21C554.88 371.55 553.02 369.77 551.96 370.01C550.90 370.25 550.89 373.30 550.00 373.67C549.11 374.04 547.92 372.75 546.63 372.21C545.34 371.67 543.70 370.33 542.24 370.45C540.78 370.57 539.31 372.11 537.85 372.94C536.39 373.77 534.80 375.55 533.46 375.43C532.12 375.31 531.02 373.11 529.80 372.21C528.58 371.31 527.47 369.64 526.13 370.01C524.79 370.38 523.20 372.93 521.74 374.40C520.28 375.87 518.81 377.90 517.35 378.80C515.89 379.70 514.42 380.19 512.96 379.82C511.50 379.45 510.03 377.50 508.57 376.60C507.11 375.70 505.88 374.94 504.17 374.40C502.46 373.86 500.03 373.99 498.32 373.38C496.61 372.77 495.26 370.94 493.92 370.74C492.58 370.55 491.60 371.84 490.26 372.21C488.92 372.58 487.21 373.31 485.87 372.94C484.53 372.57 483.55 370.99 482.21 370.01C480.87 369.03 479.28 367.44 477.82 367.08C476.36 366.71 475.14 367.16 473.43 367.82C471.72 368.48 469.52 369.94 467.57 371.04C465.62 372.14 463.66 373.40 461.71 374.40C459.76 375.40 457.81 376.82 455.86 377.04C453.91 377.26 451.78 375.71 450.00 375.74C448.22 375.77 446.71 377.16 445.17 377.21C443.63 377.26 442.25 376.41 440.78 376.04C439.31 375.67 437.84 375.55 436.38 375.01C434.92 374.47 433.45 373.92 431.99 372.82C430.53 371.72 429.06 368.54 427.60 368.42C426.14 368.30 424.67 370.74 423.21 372.08C421.75 373.42 420.27 375.19 418.81 376.48C417.35 377.77 416.00 378.94 414.42 379.84C412.84 380.74 410.89 381.96 409.30 381.89C407.71 381.82 406.37 380.42 404.90 379.40C403.43 378.38 401.85 376.72 400.51 375.74C399.17 374.76 398.07 373.67 396.85 373.55C395.63 373.43 394.41 374.40 393.19 375.01C391.97 375.62 390.75 376.96 389.53 377.21C388.31 377.45 387.09 376.85 385.87 376.48C384.65 376.11 383.55 374.77 382.21 375.01C380.87 375.25 379.28 377.21 377.82 377.94C376.36 378.67 375.14 379.08 373.43 379.40C371.72 379.72 369.52 379.96 367.57 379.84C365.62 379.72 363.66 379.11 361.71 378.67C359.76 378.23 357.81 376.78 355.86 377.21C353.91 377.64 352.03 380.07 350.00 381.23C347.97 382.39 345.72 383.55 343.70 384.16C341.68 384.77 339.80 384.28 337.85 384.89C335.90 385.50 333.82 386.97 331.99 387.82C330.16 388.67 328.33 389.77 326.87 390.01C325.41 390.25 324.55 389.94 323.21 389.28C321.87 388.62 320.27 386.30 318.81 386.06C317.35 385.82 316.13 386.99 314.42 387.82C312.71 388.65 310.28 389.94 308.57 391.04C306.86 392.14 305.88 393.84 304.17 394.40C302.46 394.96 300.27 394.15 298.32 394.40C296.37 394.64 294.17 396.11 292.46 395.87C290.75 395.63 289.53 393.92 288.07 392.94C286.61 391.96 284.89 390.25 283.67 390.01C282.45 389.77 281.85 390.68 280.75 391.48C279.65 392.29 278.31 393.94 277.09 394.84C275.87 395.74 274.89 397.08 273.43 396.89C271.97 396.69 269.76 394.45 268.30 393.67C266.84 392.89 265.98 392.01 264.64 392.21C263.30 392.40 261.71 394.23 260.25 394.84C258.79 395.45 257.57 396.11 255.86 395.87C254.15 395.63 251.78 393.46 250.00 393.42C248.22 393.38 246.95 395.01 245.17 395.62C243.39 396.23 241.26 396.71 239.31 397.08C237.36 397.45 235.41 397.45 233.46 397.82C231.51 398.19 229.31 399.72 227.60 399.28C225.89 398.84 224.68 395.67 223.21 395.18C221.75 394.69 220.15 396.64 218.81 396.35C217.47 396.06 216.37 393.91 215.15 393.42C213.93 392.93 212.83 392.44 211.49 393.42C210.15 394.40 208.56 397.81 207.10 399.28C205.64 400.74 204.17 402.09 202.71 402.21C201.25 402.33 199.78 400.13 198.32 400.01C196.85 399.89 195.38 400.87 193.92 401.48C192.45 402.09 191.24 403.55 189.53 403.67C187.82 403.79 185.38 401.96 183.67 402.21C181.96 402.45 180.62 404.29 179.28 405.14C177.94 405.99 177.33 407.21 175.62 407.33C173.91 407.45 171.10 406.24 169.03 405.87C166.96 405.50 164.89 404.90 163.18 405.14C161.47 405.38 160.25 406.23 158.78 407.33C157.31 408.43 155.85 410.96 154.39 411.73C152.93 412.50 151.78 411.43 150.00 411.96C148.22 412.49 145.72 413.47 143.70 414.89C141.67 416.31 139.92 420.16 137.85 420.45C135.78 420.74 132.97 416.47 131.26 416.64C129.55 416.81 128.94 419.82 127.60 421.48C126.26 423.14 124.80 426.28 123.21 426.60C121.62 426.92 119.91 423.01 118.08 423.38C116.25 423.75 113.81 428.38 112.23 428.80C110.65 429.22 109.79 426.85 108.57 425.87C107.35 424.89 106.24 423.11 104.90 422.94C103.56 422.77 101.85 424.84 100.51 424.84C99.17 424.84 98.12 423.87 96.85 422.94C95.58 422.01 94.12 419.28 92.90 419.28C91.68 419.28 90.70 421.77 89.53 422.94C88.36 424.11 87.58 425.99 85.87 426.31C84.16 426.63 81.60 425.40 79.28 424.84C76.96 424.28 74.40 423.62 71.96 422.94C69.52 422.26 66.84 421.72 64.64 420.74C62.44 419.76 60.34 418.66 58.78 417.08C57.22 415.50 55.86 412.21 55.27 411.23 Z" fill="#000" fill-opacity="0.33" stroke="#000" stroke-opacity="0.22" stroke-width="1.1" stroke-linejoin="round"/>
<path d="M55.27 406.90C55.61 407.58 56.49 409.83 57.32 411.00C58.15 412.17 59.03 413.14 60.25 413.92C61.47 414.70 62.69 415.19 64.64 415.68C66.59 416.17 69.52 416.51 71.96 416.85C74.40 417.19 77.45 417.44 79.28 417.73C81.11 418.02 81.72 418.27 82.94 418.61C84.16 418.95 85.50 420.07 86.60 419.78C87.70 419.49 88.48 418.02 89.53 416.85C90.58 415.68 91.80 412.87 92.90 412.75C94.00 412.63 94.97 414.95 96.12 416.12C97.27 417.29 98.68 419.41 99.78 419.78C100.88 420.15 101.73 418.86 102.71 418.32C103.69 417.78 104.66 416.32 105.64 416.56C106.62 416.80 107.47 418.56 108.57 419.78C109.67 421.00 111.13 423.76 112.23 423.88C113.33 424.00 114.10 421.63 115.15 420.51C116.20 419.39 117.42 417.38 118.52 417.14C119.62 416.90 120.79 418.56 121.74 419.05C122.69 419.54 123.25 420.68 124.23 420.07C125.21 419.46 126.43 416.95 127.60 415.39C128.77 413.83 130.04 411.19 131.26 410.70C132.48 410.21 133.82 411.87 134.92 412.46C136.02 413.05 136.75 414.59 137.85 414.22C138.95 413.85 140.29 411.41 141.51 410.26C142.73 409.11 143.75 408.12 145.17 407.34C146.58 406.56 148.46 406.47 150.00 405.58C151.54 404.69 152.93 403.31 154.39 401.98C155.85 400.65 157.31 398.44 158.78 397.58C160.25 396.72 161.72 396.78 163.18 396.85C164.65 396.92 166.11 397.48 167.57 398.02C169.03 398.56 170.62 399.53 171.96 400.07C173.30 400.61 174.40 401.53 175.62 401.24C176.84 400.95 178.06 399.25 179.28 398.32C180.50 397.39 181.72 395.97 182.94 395.68C184.16 395.39 185.38 396.32 186.60 396.56C187.82 396.80 189.04 397.46 190.26 397.14C191.48 396.82 192.82 395.39 193.92 394.66C195.02 393.93 195.87 392.92 196.85 392.75C197.83 392.58 198.80 393.31 199.78 393.63C200.76 393.95 201.61 394.98 202.71 394.66C203.81 394.34 205.15 392.95 206.37 391.73C207.59 390.51 208.93 388.37 210.03 387.34C211.13 386.31 211.98 385.51 212.96 385.58C213.94 385.65 214.91 387.16 215.89 387.77C216.86 388.38 217.71 389.14 218.81 389.24C219.91 389.34 221.25 388.19 222.47 388.36C223.69 388.53 225.03 389.70 226.13 390.26C227.23 390.82 227.84 391.73 229.06 391.73C230.28 391.73 232.00 390.38 233.46 390.26C234.93 390.14 236.39 390.88 237.85 391.00C239.31 391.12 240.78 391.25 242.24 391.00C243.70 390.75 245.34 389.97 246.63 389.53C247.92 389.09 248.46 388.56 250.00 388.36C251.54 388.16 254.15 388.52 255.86 388.32C257.57 388.12 258.91 387.68 260.25 387.14C261.59 386.60 262.81 385.69 263.91 385.10C265.01 384.52 265.86 383.63 266.84 383.63C267.82 383.63 268.67 384.56 269.77 385.10C270.87 385.64 272.21 386.92 273.43 386.85C274.65 386.78 275.99 385.51 277.09 384.66C278.19 383.81 279.03 382.51 280.01 381.73C280.99 380.95 281.96 380.02 282.94 379.97C283.92 379.92 284.77 380.72 285.87 381.43C286.97 382.14 288.31 383.51 289.53 384.22C290.75 384.93 291.97 385.73 293.19 385.68C294.41 385.63 295.63 384.38 296.85 383.92C298.07 383.46 299.29 383.14 300.51 382.90C301.73 382.66 302.83 383.07 304.17 382.46C305.51 381.85 307.11 380.22 308.57 379.24C310.03 378.26 311.38 377.33 312.96 376.60C314.54 375.87 316.62 374.73 318.08 374.85C319.54 374.97 320.40 376.37 321.74 377.34C323.08 378.31 324.79 380.46 326.13 380.70C327.47 380.94 328.34 379.65 329.80 378.80C331.26 377.95 332.97 376.56 334.92 375.58C336.87 374.60 339.56 374.11 341.51 372.94C343.46 371.77 345.21 369.89 346.63 368.55C348.05 367.21 348.83 366.05 350.00 364.89C351.17 363.73 352.44 362.39 353.66 361.60C354.88 360.81 355.98 359.94 357.32 360.14C358.66 360.33 360.25 361.92 361.71 362.77C363.17 363.62 364.77 364.67 366.11 365.26C367.45 365.85 368.43 366.46 369.77 366.29C371.11 366.12 372.70 365.14 374.16 364.24C375.62 363.34 377.09 361.92 378.55 360.87C380.01 359.82 381.72 358.26 382.94 357.94C384.16 357.62 384.77 358.48 385.87 358.97C386.97 359.46 388.31 360.80 389.53 360.87C390.75 360.94 391.97 359.78 393.19 359.41C394.41 359.04 395.63 358.31 396.85 358.67C398.07 359.04 399.17 360.38 400.51 361.60C401.85 362.82 403.43 364.83 404.90 366.00C406.37 367.17 407.96 368.26 409.30 368.63C410.64 369.00 411.62 368.68 412.96 368.19C414.30 367.70 416.01 366.80 417.35 365.70C418.69 364.60 419.91 363.02 421.01 361.60C422.11 360.19 422.96 358.31 423.94 357.21C424.92 356.11 425.77 355.13 426.87 355.01C427.97 354.89 429.31 355.99 430.53 356.48C431.75 356.97 432.73 357.57 434.19 357.94C435.65 358.31 437.73 358.30 439.31 358.67C440.89 359.04 442.48 359.77 443.70 360.14C444.92 360.51 445.58 360.87 446.63 360.87C447.68 360.87 448.46 360.66 450.00 360.14C451.54 359.62 453.91 358.60 455.86 357.77C457.81 356.94 459.88 355.94 461.71 355.14C463.54 354.33 465.13 353.80 466.84 352.94C468.55 352.08 470.38 350.55 471.96 350.01C473.54 349.47 475.01 349.48 476.35 349.72C477.69 349.97 478.67 350.58 480.01 351.48C481.35 352.38 483.19 354.24 484.41 355.14C485.63 356.04 486.24 356.90 487.34 356.90C488.44 356.90 489.78 355.68 491.00 355.14C492.22 354.60 493.32 353.72 494.66 353.67C496.00 353.62 497.47 354.24 499.05 354.85C500.63 355.46 502.58 356.56 504.17 357.34C505.76 358.12 507.23 358.60 508.57 359.53C509.91 360.46 511.13 362.09 512.23 362.90C513.33 363.70 514.17 364.38 515.15 364.36C516.12 364.34 516.98 363.92 518.08 362.75C519.18 361.58 520.64 358.90 521.74 357.34C522.84 355.78 523.81 354.16 524.67 353.38C525.52 352.60 526.01 352.23 526.87 352.65C527.73 353.06 528.70 354.72 529.80 355.87C530.90 357.02 532.24 359.28 533.46 359.53C534.68 359.77 535.90 358.07 537.12 357.34C538.34 356.61 539.44 355.55 540.78 355.14C542.12 354.73 543.63 354.97 545.17 354.85C546.71 354.73 548.99 354.53 550.00 354.41C551.01 354.29 550.41 353.87 551.23 354.11C552.05 354.35 553.67 355.09 554.89 355.87C556.11 356.65 557.21 358.00 558.55 358.80C559.89 359.61 561.48 360.21 562.94 360.70C564.41 361.19 566.12 361.49 567.34 361.73C568.56 361.98 569.28 362.54 570.26 362.17C571.24 361.80 572.09 360.58 573.19 359.53C574.29 358.48 575.63 356.31 576.85 355.87C578.07 355.43 579.17 356.48 580.51 356.90C581.85 357.31 583.31 357.97 584.90 358.36C586.49 358.75 588.44 358.85 590.03 359.24C591.62 359.63 593.32 360.41 594.42 360.70C595.52 360.99 595.76 361.19 596.62 361.00C597.48 360.81 598.50 360.02 599.55 359.53C600.60 359.04 602.35 358.31 602.91 358.07" fill="none" stroke="#000" stroke-width="2.5" stroke-linejoin="round" stroke-linecap="butt"/>
<line x1="54.60" x2="54.60" y1="330.10" y2="468.00" stroke="#000" stroke-width="1.07"/>
<line x1="54.10" x2="603.40" y1="467.50" y2="467.50" stroke="#000" stroke-width="1.07"/>
<line x1="49.40" x2="54.60" y1="467.50" y2="467.50" stroke="#000" stroke-width="1.07"/>
<text transform="translate(44.00 473.20) scale(1.000 1)" font-size="15.3" text-anchor="end">0.0</text>
<line x1="49.40" x2="54.60" y1="429.68" y2="429.68" stroke="#000" stroke-width="1.07"/>
<text transform="translate(44.00 435.38) scale(1.000 1)" font-size="15.3" text-anchor="end">2.5</text>
<line x1="49.40" x2="54.60" y1="391.85" y2="391.85" stroke="#000" stroke-width="1.07"/>
<text transform="translate(44.00 397.55) scale(1.000 1)" font-size="15.3" text-anchor="end">5.0</text>
<line x1="49.40" x2="54.60" y1="354.02" y2="354.02" stroke="#000" stroke-width="1.07"/>
<text transform="translate(44.00 359.72) scale(1.000 1)" font-size="15.3" text-anchor="end">7.5</text>
<text transform="translate(11.00 398.80) rotate(-90) scale(1.000 1)" font-size="15.3" text-anchor="middle">µV</text>
<text transform="translate(329.00 509.60) scale(1.000 1)" font-size="15.3" text-anchor="middle">Time (s)</text>
</svg></body></html>
